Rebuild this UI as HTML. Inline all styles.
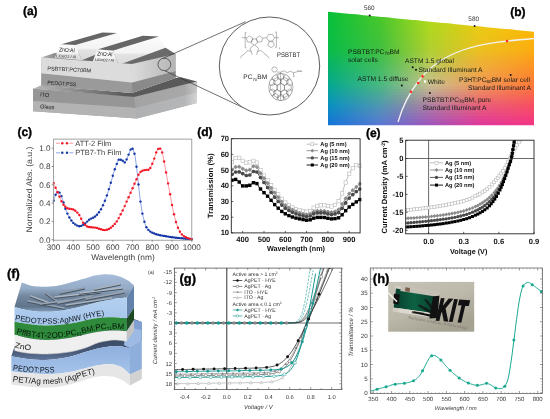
<!DOCTYPE html>
<html><head><meta charset="utf-8"><title>Figure</title>
<style>html,body{margin:0;padding:0;background:#fff;}svg{display:block;font-family:'Liberation Sans', sans-serif;text-rendering:geometricPrecision;}</style>
</head><body>
<svg width="550" height="419" viewBox="0 0 550 419">
<rect width="550" height="419" fill="#fff"/>
<g id="pa">
<defs>
<linearGradient id="aSide" x1="0" x2="1" y1="0" y2="0"><stop offset="0" stop-color="#dcdcdc"/><stop offset="1" stop-color="#b4b4b4"/></linearGradient>
<linearGradient id="aFade" x1="0" x2="1" y1="0" y2="0"><stop offset="0" stop-color="#a3a3a3"/><stop offset="0.8" stop-color="#a8a8a8"/><stop offset="1" stop-color="#c8c8c8"/></linearGradient>
<linearGradient id="aFade2" x1="0" x2="1" y1="0" y2="0"><stop offset="0" stop-color="#aeb0b2"/><stop offset="0.8" stop-color="#b4b6b8"/><stop offset="1" stop-color="#d4d4d4"/></linearGradient>
<linearGradient id="aE" x1="0" x2="0" y1="0" y2="1"><stop offset="0" stop-color="#fbfbfb"/><stop offset="0.56" stop-color="#f4f4f4"/><stop offset="0.64" stop-color="#e2e2e2"/><stop offset="1" stop-color="#dadada"/></linearGradient>
<linearGradient id="aTop" gradientUnits="userSpaceOnUse" x1="41" x2="70" y1="0" y2="0"><stop offset="0" stop-color="#b0b0b0"/><stop offset="1" stop-color="#6a6a6a"/></linearGradient>
<linearGradient id="aITOtop" gradientUnits="userSpaceOnUse" x1="33" x2="125" y1="0" y2="0"><stop offset="0" stop-color="#b8b8b8"/><stop offset="0.5" stop-color="#8a8a8a"/><stop offset="1" stop-color="#5a5a5a"/></linearGradient>
</defs>
<text x="22.9" y="15.4" font-size="12" fill="#000" text-anchor="start" font-weight="bold" font-style="normal" stroke="#000" stroke-width="0.35">(a)</text>
<polygon points="33.0,88.8 134.0,96.5 197.0,81.6 197.0,103.0 137.0,118.4 33.0,111.2" fill="#a4a4a4" />
<polygon points="33.0,88.8 134.0,97.0 136.0,108.0 33.0,100.9" fill="#969696" />
<polygon points="33.0,100.9 136.0,108.0 137.0,118.4 33.0,111.2" fill="#b3b3b3" />
<polygon points="134.0,97.0 197.0,81.6 197.0,92.0 136.0,108.0" fill="url(#aFade)" />
<polygon points="136.0,108.0 197.0,92.0 197.0,103.0 137.0,118.4" fill="url(#aFade2)" />
<polygon points="33.0,88.8 41.3,85.2 132.0,93.0 175.6,78.0 181.0,77.2 197.0,81.6 134.0,97.0" fill="url(#aITOtop)" />
<polygon points="41.3,58.0 131.8,64.0 175.6,54.1 175.6,78.0 132.0,93.0 41.3,85.4" fill="#b0b0b0" />
<polygon points="41.3,73.2 132.0,82.4 132.0,93.0 41.3,85.4" fill="#9a9a9a" />
<polygon points="132.0,82.4 175.6,71.0 175.6,78.0 132.0,93.0" fill="#8a8a8a" />
<polygon points="41.3,57.5 131.8,64.0 132.0,82.4 41.3,73.2" fill="#dcdcdc" />
<polygon points="131.8,64.0 175.6,54.1 175.6,71.0 132.0,82.4" fill="url(#aSide)" />
<polygon points="41.3,57.5 54.5,53.0 98.5,49.0 165.6,47.8 175.6,54.1 131.8,64.0" fill="url(#aTop)" />
<polygon points="75.3,45.0 117.0,32.9 123.0,43.5 81.8,60.2" fill="url(#aE)" />
<polygon points="60.5,44.4 102.3,32.4 117.0,32.9 75.3,45.0" fill="#666" />
<polygon points="54.8,57.7 60.5,44.4 75.3,45.0 81.8,60.2" fill="url(#aE)" />
<polygon points="112.9,50.4 159.0,36.4 165.6,47.8 118.6,65.1" fill="url(#aE)" />
<polygon points="97.4,49.5 142.7,35.7 159.0,36.4 112.9,50.4" fill="#666" />
<polygon points="92.5,61.8 97.4,49.5 112.9,50.4 118.6,65.1" fill="url(#aE)" />
<g fill="#3a3a3a">
<text x="58.9" y="51.4" font-size="5.6" fill="#111" text-anchor="start" font-weight="normal" font-style="normal" transform="rotate(3 58 52)" textLength="15.6" lengthAdjust="spacingAndGlyphs">ZnO:Al</text>
<text x="56.3" y="57.2" font-size="3.7" fill="#222" text-anchor="start" font-weight="normal" font-style="normal" transform="rotate(3 56 57)" textLength="19.6" lengthAdjust="spacingAndGlyphs">LiCoO2 / Al</text>
<text x="97.0" y="55.4" font-size="5.6" fill="#111" text-anchor="start" font-weight="normal" font-style="normal" transform="rotate(3 97 56)" textLength="15.4" lengthAdjust="spacingAndGlyphs">ZnO:Al</text>
<text x="95.0" y="60.8" font-size="3.7" fill="#222" text-anchor="start" font-weight="normal" font-style="normal" transform="rotate(3 95 61)" textLength="18.8" lengthAdjust="spacingAndGlyphs">LiCoO2 / Al</text>
<text x="47.3" y="70.2" font-size="5.45" fill="#202020" text-anchor="start" font-weight="normal" font-style="normal" transform="rotate(3 47 70)">PSBTBT:PC70BM</text>
<text x="47.3" y="84.3" font-size="5.2" fill="#202020" text-anchor="start" font-weight="normal" font-style="normal" transform="rotate(4 47 84)">PEDOT:PSS</text>
<text x="40.0" y="96.3" font-size="5.6" fill="#202020" text-anchor="start" font-weight="normal" font-style="normal" transform="rotate(4 40 96)">ITO</text>
<text x="40.0" y="108.3" font-size="5.6" fill="#202020" text-anchor="start" font-weight="normal" font-style="normal" transform="rotate(4 40 108)">Glass</text>
</g>
<ellipse cx="164.4" cy="64.4" rx="6.4" ry="6.2" fill="none" stroke="#333" stroke-width="0.7"/>
<line x1="163" y1="58.4" x2="245.5" y2="21.7" stroke="#333" stroke-width="0.7"/>
<line x1="165" y1="70.8" x2="242.5" y2="107.3" stroke="#333" stroke-width="0.7"/>
<ellipse cx="269.5" cy="66" rx="50.2" ry="49" fill="#fff" stroke="#333" stroke-width="0.8"/>
<g fill="none" stroke="#6c6c6c" stroke-width="0.5" stroke-linejoin="round">
<polygon points="249.6,35.9 252.9,38.2 251.6,42.0 247.6,42.0 246.4,38.2"/>
<polygon points="254.3,45.2 251.1,42.9 252.3,39.0 256.3,39.0 257.6,42.9"/>
<polygon points="259.6,35.9 262.8,38.2 261.6,42.0 257.6,42.0 256.3,38.2"/>
<polygon points="274.5,37.7 272.6,41.1 268.7,41.1 266.7,37.7 268.7,34.4 272.6,34.4"/>
<polygon points="271.0,47.7 267.8,45.4 269.0,41.6 273.0,41.6 274.3,45.4"/>
<path d="M262.7 38.2 L266.8 37.7"/>
<path d="M242.0 37.7 L246.5 37.7"/>
<path d="M274.7 37.7 L278.9 37.7"/>
<path d="M246.5 32.6 L245.2 32.6 L245.2 47.9 L246.5 47.9"/>
<path d="M275.1 32.0 L276.4 32.0 L276.4 47.3 L275.1 47.3"/>
<path d="M254.1 45.1 L250.0 48.5 L251.3 51.5 L247.5 50.5 L244.9 53.6 L242.0 55.5 L240.1 58.3"/>
<path d="M251.3 51.5 L252.2 54.9"/>
<path d="M254.9 45.1 L258.7 48.5 L257.4 51.5 L261.2 50.5 L263.8 53.3 L266.8 55.3 L269.1 58.3"/>
<path d="M257.4 51.5 L256.6 54.9"/>
</g>
<text x="278.7" y="48.7" font-size="2.6" fill="#555" text-anchor="start" font-weight="normal" font-style="normal" >n</text>
<text x="277.0" y="56.9" font-size="6.7" fill="#2a2a2a" text-anchor="start" font-weight="normal" font-style="normal" textLength="23" lengthAdjust="spacingAndGlyphs">PSBTBT</text>
<text x="243.3" y="79.2" font-size="6.6" fill="#2a2a2a">PC<tspan font-size="4.3" dy="1.3">70</tspan><tspan dy="-1.3">BM</tspan></text>
<clipPath id="aFul"><ellipse cx="280.8" cy="87" rx="12.1" ry="13.7"/></clipPath>
<g fill="none" stroke="#5e5e5e" stroke-width="0.45">
<ellipse cx="280.8" cy="87" rx="12.1" ry="13.7"/>
<g clip-path="url(#aFul)">
<polygon points="278.0,79.4 275.3,81.0 272.5,79.4 272.5,76.2 275.3,74.6 278.0,76.2"/>
<polygon points="283.9,78.5 280.8,80.3 277.7,78.5 277.7,75.0 280.8,73.2 283.9,75.0"/>
<polygon points="289.1,79.4 286.3,81.0 283.6,79.4 283.6,76.2 286.3,74.6 289.1,76.2"/>
<polygon points="275.0,84.1 272.1,85.8 269.2,84.1 269.2,80.8 272.1,79.1 275.0,80.8"/>
<polygon points="280.8,83.4 277.2,85.5 273.7,83.4 273.7,79.3 277.2,77.3 280.8,79.3"/>
<polygon points="287.9,83.4 284.4,85.5 280.8,83.4 280.8,79.3 284.4,77.3 287.9,79.3"/>
<polygon points="292.4,84.1 289.5,85.8 286.6,84.1 286.6,80.8 289.5,79.1 292.4,80.8"/>
<polygon points="277.3,89.6 273.8,91.6 270.4,89.6 270.4,85.5 273.8,83.5 277.3,85.5"/>
<polygon points="284.6,89.8 280.8,92.0 277.0,89.8 277.0,85.4 280.8,83.2 284.6,85.4"/>
<polygon points="291.2,89.6 287.8,91.6 284.3,89.6 284.3,85.5 287.8,83.5 291.2,85.5"/>
<polygon points="275.1,94.0 272.3,95.6 269.5,94.0 269.5,90.7 272.3,89.1 275.1,90.7"/>
<polygon points="280.8,95.6 277.3,97.6 273.8,95.6 273.8,91.6 277.3,89.6 280.8,91.6"/>
<polygon points="287.8,95.6 284.3,97.6 280.8,95.6 280.8,91.6 284.3,89.6 287.8,91.6"/>
<polygon points="292.1,94.0 289.3,95.6 286.5,94.0 286.5,90.7 289.3,89.1 292.1,90.7"/>
<polygon points="278.2,98.0 275.5,99.5 272.9,98.0 272.9,95.0 275.5,93.5 278.2,95.0"/>
<polygon points="283.8,99.4 280.8,101.1 277.8,99.4 277.8,96.0 280.8,94.3 283.8,96.0"/>
<polygon points="288.7,98.0 286.1,99.5 283.4,98.0 283.4,95.0 286.1,93.5 288.7,95.0"/>
</g>
<line x1="280.6" y1="72.1" x2="280.6" y2="100.7"/>
<polygon points="277.3,69.5 275.9,71.9 273.1,71.9 271.7,69.5 273.1,67.1 275.9,67.1"/>
<path d="M277 72.1 L280.6 72.1 L284 70.8 L287.2 72.7 L290.4 71.2 L293.5 72.7 L297.4 71.7 M293.5 72.7 V75.6"/>
</g>
<text x="297.2" y="72.0" font-size="2.4" fill="#555" text-anchor="start" font-weight="normal" font-style="normal" >OMe</text>
<text x="292.9" y="77.4" font-size="2.2" fill="#555" text-anchor="start" font-weight="normal" font-style="normal" >O</text>
</g>
<g id="pb">
<defs><clipPath id="bclip"><polygon points="328,11.8 534,31.7 534,125.2 328,125.2"/></clipPath>
<linearGradient id="bg0" x1="328" x2="534" y1="0" y2="0" gradientUnits="userSpaceOnUse"><stop offset="0.000" stop-color="#08c038"/><stop offset="0.252" stop-color="#48c828"/><stop offset="0.495" stop-color="#b0dc14"/><stop offset="0.738" stop-color="#e8d00c"/><stop offset="1.000" stop-color="#fcc000"/></linearGradient>
<linearGradient id="bg1" x1="328" x2="534" y1="0" y2="0" gradientUnits="userSpaceOnUse"><stop offset="0.000" stop-color="#08c039"/><stop offset="0.252" stop-color="#47c72a"/><stop offset="0.495" stop-color="#b0db17"/><stop offset="0.738" stop-color="#e8cf0e"/><stop offset="1.000" stop-color="#fcbe01"/></linearGradient>
<linearGradient id="bg2" x1="328" x2="534" y1="0" y2="0" gradientUnits="userSpaceOnUse"><stop offset="0.000" stop-color="#08bf3b"/><stop offset="0.252" stop-color="#47c72c"/><stop offset="0.495" stop-color="#b0da19"/><stop offset="0.738" stop-color="#e9cd0f"/><stop offset="1.000" stop-color="#fcbd03"/></linearGradient>
<linearGradient id="bg3" x1="328" x2="534" y1="0" y2="0" gradientUnits="userSpaceOnUse"><stop offset="0.000" stop-color="#08bf3c"/><stop offset="0.252" stop-color="#46c62e"/><stop offset="0.495" stop-color="#b0d91b"/><stop offset="0.738" stop-color="#e9cc11"/><stop offset="1.000" stop-color="#fcbb04"/></linearGradient>
<linearGradient id="bg4" x1="328" x2="534" y1="0" y2="0" gradientUnits="userSpaceOnUse"><stop offset="0.000" stop-color="#08bf3d"/><stop offset="0.252" stop-color="#45c530"/><stop offset="0.495" stop-color="#b0d81d"/><stop offset="0.738" stop-color="#e9cb13"/><stop offset="1.000" stop-color="#fcb905"/></linearGradient>
<linearGradient id="bg5" x1="328" x2="534" y1="0" y2="0" gradientUnits="userSpaceOnUse"><stop offset="0.000" stop-color="#08be3f"/><stop offset="0.252" stop-color="#45c532"/><stop offset="0.495" stop-color="#b0d71f"/><stop offset="0.738" stop-color="#eac914"/><stop offset="1.000" stop-color="#fcb807"/></linearGradient>
<linearGradient id="bg6" x1="328" x2="534" y1="0" y2="0" gradientUnits="userSpaceOnUse"><stop offset="0.000" stop-color="#08be40"/><stop offset="0.252" stop-color="#44c434"/><stop offset="0.495" stop-color="#b0d622"/><stop offset="0.738" stop-color="#eac816"/><stop offset="1.000" stop-color="#fcb608"/></linearGradient>
<linearGradient id="bg7" x1="328" x2="534" y1="0" y2="0" gradientUnits="userSpaceOnUse"><stop offset="0.000" stop-color="#08be41"/><stop offset="0.252" stop-color="#43c336"/><stop offset="0.495" stop-color="#b0d524"/><stop offset="0.738" stop-color="#eac717"/><stop offset="1.000" stop-color="#fcb509"/></linearGradient>
<linearGradient id="bg8" x1="328" x2="534" y1="0" y2="0" gradientUnits="userSpaceOnUse"><stop offset="0.000" stop-color="#08bd42"/><stop offset="0.252" stop-color="#43c337"/><stop offset="0.495" stop-color="#b0d426"/><stop offset="0.738" stop-color="#ebc619"/><stop offset="1.000" stop-color="#fcb30a"/></linearGradient>
<linearGradient id="bg9" x1="328" x2="534" y1="0" y2="0" gradientUnits="userSpaceOnUse"><stop offset="0.000" stop-color="#08bd44"/><stop offset="0.252" stop-color="#42c239"/><stop offset="0.495" stop-color="#b0d328"/><stop offset="0.738" stop-color="#ebc41a"/><stop offset="1.000" stop-color="#fcb20c"/></linearGradient>
<linearGradient id="bg10" x1="328" x2="534" y1="0" y2="0" gradientUnits="userSpaceOnUse"><stop offset="0.000" stop-color="#08bd45"/><stop offset="0.252" stop-color="#42c23b"/><stop offset="0.495" stop-color="#b0d22a"/><stop offset="0.738" stop-color="#ebc31c"/><stop offset="1.000" stop-color="#fcb00d"/></linearGradient>
<linearGradient id="bg11" x1="328" x2="534" y1="0" y2="0" gradientUnits="userSpaceOnUse"><stop offset="0.000" stop-color="#08bc46"/><stop offset="0.252" stop-color="#41c13d"/><stop offset="0.495" stop-color="#b0d12d"/><stop offset="0.738" stop-color="#ecc21e"/><stop offset="1.000" stop-color="#fcae0e"/></linearGradient>
<linearGradient id="bg12" x1="328" x2="534" y1="0" y2="0" gradientUnits="userSpaceOnUse"><stop offset="0.000" stop-color="#08bc47"/><stop offset="0.252" stop-color="#40c03f"/><stop offset="0.495" stop-color="#b0d02f"/><stop offset="0.738" stop-color="#ecc11f"/><stop offset="1.000" stop-color="#fcad0f"/></linearGradient>
<linearGradient id="bg13" x1="328" x2="534" y1="0" y2="0" gradientUnits="userSpaceOnUse"><stop offset="0.000" stop-color="#08bb4b"/><stop offset="0.252" stop-color="#40c043"/><stop offset="0.495" stop-color="#b1cf34"/><stop offset="0.738" stop-color="#ecbe22"/><stop offset="1.000" stop-color="#fcaa12"/></linearGradient>
<linearGradient id="bg14" x1="328" x2="534" y1="0" y2="0" gradientUnits="userSpaceOnUse"><stop offset="0.000" stop-color="#07b951"/><stop offset="0.252" stop-color="#41bf48"/><stop offset="0.495" stop-color="#b3ce3c"/><stop offset="0.738" stop-color="#edbb27"/><stop offset="1.000" stop-color="#fca515"/></linearGradient>
<linearGradient id="bg15" x1="328" x2="534" y1="0" y2="0" gradientUnits="userSpaceOnUse"><stop offset="0.000" stop-color="#07b857"/><stop offset="0.252" stop-color="#42be4e"/><stop offset="0.495" stop-color="#b5cd45"/><stop offset="0.738" stop-color="#edb72c"/><stop offset="1.000" stop-color="#fca119"/></linearGradient>
<linearGradient id="bg16" x1="328" x2="534" y1="0" y2="0" gradientUnits="userSpaceOnUse"><stop offset="0.000" stop-color="#07b65e"/><stop offset="0.252" stop-color="#42be53"/><stop offset="0.495" stop-color="#b7cb4d"/><stop offset="0.738" stop-color="#edb431"/><stop offset="1.000" stop-color="#fc9c1c"/></linearGradient>
<linearGradient id="bg17" x1="328" x2="534" y1="0" y2="0" gradientUnits="userSpaceOnUse"><stop offset="0.000" stop-color="#06b464"/><stop offset="0.252" stop-color="#43bd59"/><stop offset="0.495" stop-color="#b9ca55"/><stop offset="0.738" stop-color="#eeb136"/><stop offset="1.000" stop-color="#fc981f"/></linearGradient>
<linearGradient id="bg18" x1="328" x2="534" y1="0" y2="0" gradientUnits="userSpaceOnUse"><stop offset="0.000" stop-color="#06b36a"/><stop offset="0.252" stop-color="#44bc5e"/><stop offset="0.495" stop-color="#bbc85d"/><stop offset="0.738" stop-color="#eead3a"/><stop offset="1.000" stop-color="#fc9323"/></linearGradient>
<linearGradient id="bg19" x1="328" x2="534" y1="0" y2="0" gradientUnits="userSpaceOnUse"><stop offset="0.000" stop-color="#06b170"/><stop offset="0.252" stop-color="#44bc64"/><stop offset="0.495" stop-color="#bdc765"/><stop offset="0.738" stop-color="#eeaa3f"/><stop offset="1.000" stop-color="#fc8f26"/></linearGradient>
<linearGradient id="bg20" x1="328" x2="534" y1="0" y2="0" gradientUnits="userSpaceOnUse"><stop offset="0.000" stop-color="#05af76"/><stop offset="0.252" stop-color="#45bb69"/><stop offset="0.495" stop-color="#bfc66e"/><stop offset="0.738" stop-color="#efa644"/><stop offset="1.000" stop-color="#fc8b2a"/></linearGradient>
<linearGradient id="bg21" x1="328" x2="534" y1="0" y2="0" gradientUnits="userSpaceOnUse"><stop offset="0.000" stop-color="#05ad7c"/><stop offset="0.252" stop-color="#46ba6f"/><stop offset="0.495" stop-color="#c1c476"/><stop offset="0.738" stop-color="#efa349"/><stop offset="1.000" stop-color="#fc862d"/></linearGradient>
<linearGradient id="bg22" x1="328" x2="534" y1="0" y2="0" gradientUnits="userSpaceOnUse"><stop offset="0.000" stop-color="#05ac83"/><stop offset="0.252" stop-color="#47b974"/><stop offset="0.495" stop-color="#c4c37e"/><stop offset="0.738" stop-color="#ef9f4e"/><stop offset="1.000" stop-color="#fc8231"/></linearGradient>
<linearGradient id="bg23" x1="328" x2="534" y1="0" y2="0" gradientUnits="userSpaceOnUse"><stop offset="0.000" stop-color="#04aa89"/><stop offset="0.252" stop-color="#47b97a"/><stop offset="0.495" stop-color="#c6c286"/><stop offset="0.738" stop-color="#f09c52"/><stop offset="1.000" stop-color="#fc7d34"/></linearGradient>
<linearGradient id="bg24" x1="328" x2="534" y1="0" y2="0" gradientUnits="userSpaceOnUse"><stop offset="0.000" stop-color="#04a88f"/><stop offset="0.252" stop-color="#48b87f"/><stop offset="0.495" stop-color="#c8c08f"/><stop offset="0.738" stop-color="#f09957"/><stop offset="1.000" stop-color="#fc7937"/></linearGradient>
<linearGradient id="bg25" x1="328" x2="534" y1="0" y2="0" gradientUnits="userSpaceOnUse"><stop offset="0.000" stop-color="#04a596"/><stop offset="0.252" stop-color="#49b486"/><stop offset="0.495" stop-color="#c5b892"/><stop offset="0.738" stop-color="#ef915c"/><stop offset="1.000" stop-color="#fc733d"/></linearGradient>
<linearGradient id="bg26" x1="328" x2="534" y1="0" y2="0" gradientUnits="userSpaceOnUse"><stop offset="0.000" stop-color="#05a19d"/><stop offset="0.252" stop-color="#4aaf8d"/><stop offset="0.495" stop-color="#c1ae94"/><stop offset="0.738" stop-color="#ee8961"/><stop offset="1.000" stop-color="#fb6d43"/></linearGradient>
<linearGradient id="bg27" x1="328" x2="534" y1="0" y2="0" gradientUnits="userSpaceOnUse"><stop offset="0.000" stop-color="#069ea4"/><stop offset="0.252" stop-color="#4baa94"/><stop offset="0.495" stop-color="#bea597"/><stop offset="0.738" stop-color="#ed8066"/><stop offset="1.000" stop-color="#fa6749"/></linearGradient>
<linearGradient id="bg28" x1="328" x2="534" y1="0" y2="0" gradientUnits="userSpaceOnUse"><stop offset="0.000" stop-color="#069aac"/><stop offset="0.252" stop-color="#4da69c"/><stop offset="0.495" stop-color="#ba9b99"/><stop offset="0.738" stop-color="#eb786a"/><stop offset="1.000" stop-color="#fa614f"/></linearGradient>
<linearGradient id="bg29" x1="328" x2="534" y1="0" y2="0" gradientUnits="userSpaceOnUse"><stop offset="0.000" stop-color="#0797b3"/><stop offset="0.252" stop-color="#4ea1a3"/><stop offset="0.495" stop-color="#b7929c"/><stop offset="0.738" stop-color="#ea6f6f"/><stop offset="1.000" stop-color="#f95b55"/></linearGradient>
<linearGradient id="bg30" x1="328" x2="534" y1="0" y2="0" gradientUnits="userSpaceOnUse"><stop offset="0.000" stop-color="#0893ba"/><stop offset="0.252" stop-color="#4f9caa"/><stop offset="0.495" stop-color="#b3889e"/><stop offset="0.738" stop-color="#e96774"/><stop offset="1.000" stop-color="#f8555b"/></linearGradient>
<linearGradient id="bg31" x1="328" x2="534" y1="0" y2="0" gradientUnits="userSpaceOnUse"><stop offset="0.000" stop-color="#088fc1"/><stop offset="0.252" stop-color="#5097b1"/><stop offset="0.495" stop-color="#b07fa1"/><stop offset="0.738" stop-color="#e85f79"/><stop offset="1.000" stop-color="#f84f61"/></linearGradient>
<linearGradient id="bg32" x1="328" x2="534" y1="0" y2="0" gradientUnits="userSpaceOnUse"><stop offset="0.000" stop-color="#0a8bc4"/><stop offset="0.252" stop-color="#5192b6"/><stop offset="0.495" stop-color="#ad78a5"/><stop offset="0.738" stop-color="#e7597e"/><stop offset="1.000" stop-color="#f74b66"/></linearGradient>
<linearGradient id="bg33" x1="328" x2="534" y1="0" y2="0" gradientUnits="userSpaceOnUse"><stop offset="0.000" stop-color="#0c87c8"/><stop offset="0.252" stop-color="#538dbc"/><stop offset="0.495" stop-color="#ab71a9"/><stop offset="0.738" stop-color="#e55384"/><stop offset="1.000" stop-color="#f7476c"/></linearGradient>
<linearGradient id="bg34" x1="328" x2="534" y1="0" y2="0" gradientUnits="userSpaceOnUse"><stop offset="0.000" stop-color="#0e82cc"/><stop offset="0.252" stop-color="#5488c1"/><stop offset="0.495" stop-color="#a86bae"/><stop offset="0.738" stop-color="#e44d89"/><stop offset="1.000" stop-color="#f64271"/></linearGradient>
<linearGradient id="bg35" x1="328" x2="534" y1="0" y2="0" gradientUnits="userSpaceOnUse"><stop offset="0.000" stop-color="#107ecf"/><stop offset="0.252" stop-color="#5584c7"/><stop offset="0.495" stop-color="#a664b2"/><stop offset="0.738" stop-color="#e3468f"/><stop offset="1.000" stop-color="#f53e77"/></linearGradient>
<linearGradient id="bg36" x1="328" x2="534" y1="0" y2="0" gradientUnits="userSpaceOnUse"><stop offset="0.000" stop-color="#117ad3"/><stop offset="0.252" stop-color="#567fcc"/><stop offset="0.495" stop-color="#a35db6"/><stop offset="0.738" stop-color="#e24094"/><stop offset="1.000" stop-color="#f53a7c"/></linearGradient>
<linearGradient id="bg37" x1="328" x2="534" y1="0" y2="0" gradientUnits="userSpaceOnUse"><stop offset="0.000" stop-color="#1376d7"/><stop offset="0.252" stop-color="#587ad2"/><stop offset="0.495" stop-color="#a156ba"/><stop offset="0.738" stop-color="#e03a9a"/><stop offset="1.000" stop-color="#f43682"/></linearGradient>
</defs>
<g clip-path="url(#bclip)" shape-rendering="crispEdges">
<rect x="328" y="11.0" width="206" height="3.5" fill="url(#bg0)"/>
<rect x="328" y="14.0" width="206" height="3.5" fill="url(#bg1)"/>
<rect x="328" y="17.0" width="206" height="3.5" fill="url(#bg2)"/>
<rect x="328" y="20.0" width="206" height="3.5" fill="url(#bg3)"/>
<rect x="328" y="23.0" width="206" height="3.5" fill="url(#bg4)"/>
<rect x="328" y="26.0" width="206" height="3.5" fill="url(#bg5)"/>
<rect x="328" y="29.0" width="206" height="3.5" fill="url(#bg6)"/>
<rect x="328" y="32.0" width="206" height="3.5" fill="url(#bg7)"/>
<rect x="328" y="35.0" width="206" height="3.5" fill="url(#bg8)"/>
<rect x="328" y="38.0" width="206" height="3.5" fill="url(#bg9)"/>
<rect x="328" y="41.0" width="206" height="3.5" fill="url(#bg10)"/>
<rect x="328" y="44.0" width="206" height="3.5" fill="url(#bg11)"/>
<rect x="328" y="47.0" width="206" height="3.5" fill="url(#bg12)"/>
<rect x="328" y="50.0" width="206" height="3.5" fill="url(#bg13)"/>
<rect x="328" y="53.0" width="206" height="3.5" fill="url(#bg14)"/>
<rect x="328" y="56.0" width="206" height="3.5" fill="url(#bg15)"/>
<rect x="328" y="59.0" width="206" height="3.5" fill="url(#bg16)"/>
<rect x="328" y="62.0" width="206" height="3.5" fill="url(#bg17)"/>
<rect x="328" y="65.0" width="206" height="3.5" fill="url(#bg18)"/>
<rect x="328" y="68.0" width="206" height="3.5" fill="url(#bg19)"/>
<rect x="328" y="71.0" width="206" height="3.5" fill="url(#bg20)"/>
<rect x="328" y="74.0" width="206" height="3.5" fill="url(#bg21)"/>
<rect x="328" y="77.0" width="206" height="3.5" fill="url(#bg22)"/>
<rect x="328" y="80.0" width="206" height="3.5" fill="url(#bg23)"/>
<rect x="328" y="83.0" width="206" height="3.5" fill="url(#bg24)"/>
<rect x="328" y="86.0" width="206" height="3.5" fill="url(#bg25)"/>
<rect x="328" y="89.0" width="206" height="3.5" fill="url(#bg26)"/>
<rect x="328" y="92.0" width="206" height="3.5" fill="url(#bg27)"/>
<rect x="328" y="95.0" width="206" height="3.5" fill="url(#bg28)"/>
<rect x="328" y="98.0" width="206" height="3.5" fill="url(#bg29)"/>
<rect x="328" y="101.0" width="206" height="3.5" fill="url(#bg30)"/>
<rect x="328" y="104.0" width="206" height="3.5" fill="url(#bg31)"/>
<rect x="328" y="107.0" width="206" height="3.5" fill="url(#bg32)"/>
<rect x="328" y="110.0" width="206" height="3.5" fill="url(#bg33)"/>
<rect x="328" y="113.0" width="206" height="3.5" fill="url(#bg34)"/>
<rect x="328" y="116.0" width="206" height="3.5" fill="url(#bg35)"/>
<rect x="328" y="119.0" width="206" height="3.5" fill="url(#bg36)"/>
<rect x="328" y="122.0" width="206" height="3.5" fill="url(#bg37)"/>
</g>
<path d="M398 122 C402 108 410 92 419 80.5 C430 66 446 56 463 50 C486 42.5 510 40.5 534 38.5" fill="none" stroke="#f2f2f2" stroke-width="1.3"/>
<circle cx="411" cy="91.8" r="1.3" fill="#ff3020"/>
<circle cx="418.2" cy="83" r="1.3" fill="#ff3020"/>
<circle cx="422.6" cy="76.4" r="1.3" fill="#ff3020"/>
<circle cx="507" cy="41" r="1.3" fill="#ff3020"/>
<circle cx="425" cy="81.5" r="1.2" fill="#fff"/>
<circle cx="369.7" cy="15.4" r="1.0" fill="#111"/>
<circle cx="474.6" cy="26" r="1.0" fill="#111"/>
<circle cx="401.8" cy="85.5" r="1.0" fill="#111"/>
<circle cx="412.7" cy="67.2" r="1.0" fill="#111"/>
<circle cx="416" cy="69.8" r="1.0" fill="#111"/>
<circle cx="510.7" cy="75" r="1.0" fill="#111"/>
<circle cx="429.9" cy="93" r="1.0" fill="#111"/>
<text x="369.3" y="9.6" font-size="6.4" fill="#333" text-anchor="middle" font-weight="normal" font-style="normal" >560</text>
<text x="473.7" y="20.6" font-size="6.4" fill="#333" text-anchor="middle" font-weight="normal" font-style="normal" >580</text>
<text x="510.2" y="15.6" font-size="12" fill="#000" text-anchor="start" font-weight="bold" font-style="normal" stroke="#000" stroke-width="0.35">(b)</text>
<text x="348" y="54" font-size="6.7" fill="#141a14">PSBTBT:PC<tspan font-size="4.6" dy="1.2">70</tspan><tspan dy="-1.2">BM</tspan></text>
<text x="348.0" y="61.7" font-size="6.7" fill="#141a14" text-anchor="start" font-weight="normal" font-style="normal" >solar cells</text>
<text x="357.5" y="81.2" font-size="6.7" fill="#141a14" text-anchor="start" font-weight="normal" font-style="normal" textLength="51" lengthAdjust="spacingAndGlyphs">ASTM 1.5 diffuse</text>
<text x="405.0" y="63.3" font-size="6.7" fill="#141a14" text-anchor="start" font-weight="normal" font-style="normal" textLength="49" lengthAdjust="spacingAndGlyphs">ASTM 1.5 global</text>
<text x="418.5" y="71.6" font-size="6.7" fill="#141a14" text-anchor="start" font-weight="normal" font-style="normal" textLength="64" lengthAdjust="spacingAndGlyphs">Standard Illuminant A</text>
<text x="427.8" y="84.3" font-size="6.7" fill="#141a14" text-anchor="start" font-weight="normal" font-style="normal" >White</text>
<text x="459" y="81.6" font-size="6.7" fill="#141a14">P3HT:PC<tspan font-size="4.6" dy="1.2">60</tspan><tspan dy="-1.2">BM solar cell</tspan></text>
<text x="531.0" y="89.6" font-size="6.7" fill="#141a14" text-anchor="end" font-weight="normal" font-style="normal" textLength="63" lengthAdjust="spacingAndGlyphs">Standard Illuminant A</text>
<text x="422.6" y="102" font-size="6.7" fill="#141a14">PSBTBT:PC<tspan font-size="4.6" dy="1.2">70</tspan><tspan dy="-1.2">BM, pure</tspan></text>
<text x="422.6" y="109.8" font-size="6.7" fill="#141a14" text-anchor="start" font-weight="normal" font-style="normal" textLength="64" lengthAdjust="spacingAndGlyphs">Standard Illuminant A</text>
</g>
<g id="pc">
<text x="17.4" y="136.4" font-size="12" fill="#000" text-anchor="start" font-weight="bold" font-style="normal" stroke="#000" stroke-width="0.35">(c)</text>
<clipPath id="cclip"><rect x="52.6" y="139.1" width="140.20000000000002" height="102.1"/></clipPath>
<g clip-path="url(#cclip)">
<polyline points="53.6,200.8 54.6,197.4 55.6,194.8 56.6,193.2 57.6,192.1 58.6,191.8 59.6,192.7 60.6,194.3 61.6,196.3 62.5,199.3 63.5,202.8 64.5,206.2 65.5,208.9 66.5,211.5 67.5,213.9 68.5,216.0 69.5,217.7 70.5,219.3 71.5,220.7 72.5,222.0 73.5,223.0 74.5,223.9 75.5,224.5 76.5,225.2 77.5,225.7 78.5,226.1 79.4,226.2 80.4,226.1 81.4,225.8 82.4,225.2 83.4,224.5 84.4,223.9 85.4,223.2 86.4,222.3 87.4,221.3 88.4,220.4 89.4,219.6 90.4,219.0 91.4,218.5 92.4,218.0 93.4,217.5 94.4,217.0 95.4,216.3 96.3,215.4 97.3,214.4 98.3,213.1 99.3,211.8 100.3,210.3 101.3,208.6 102.3,206.6 103.3,204.5 104.3,202.3 105.3,199.9 106.3,197.2 107.3,194.2 108.3,191.1 109.3,187.8 110.3,184.6 111.3,181.3 112.3,177.9 113.2,174.3 114.2,171.0 115.2,167.9 116.2,165.3 117.2,162.6 118.2,160.4 119.2,159.6 120.2,159.7 121.2,159.9 122.2,160.2 123.2,161.2 124.2,162.2 125.2,162.1 126.2,160.5 127.2,158.0 128.2,155.6 129.2,153.3 130.1,150.6 131.1,148.6 132.1,148.3 133.1,149.8 134.1,152.4 135.1,156.3 136.1,163.4 137.1,171.8 138.1,180.7 139.1,190.6 140.1,199.0 141.1,205.7 142.1,211.7 143.1,216.6 144.1,220.5 145.1,224.0 146.1,226.7 147.0,228.3 148.0,229.5 149.0,230.6 150.0,231.4 151.0,232.0 152.0,232.5 153.0,233.0 154.0,233.4 155.0,233.8 156.0,234.1 157.0,234.4 158.0,234.6 159.0,234.9 160.0,235.1 161.0,235.3 162.0,235.5 163.0,235.7 163.9,235.9 164.9,236.1 165.9,236.2 166.9,236.4 167.9,236.6 168.9,236.7 169.9,236.8 170.9,237.0 171.9,237.1 172.9,237.3 173.9,237.4 174.9,237.5 175.9,237.7 176.9,237.8 177.9,237.9 178.9,238.0 179.9,238.1 180.8,238.2 181.8,238.3 182.8,238.4 183.8,238.5 184.8,238.6 185.8,238.7 186.8,238.8 187.8,238.9 188.8,238.9 189.8,239.0 190.8,239.1 191.8,239.2" fill="none" stroke="#6f8fe0" stroke-width="0.8" />
<circle cx="53.6" cy="200.8" r="1.2" fill="#1636a6"/>
<circle cx="55.6" cy="194.8" r="1.2" fill="#1636a6"/>
<circle cx="57.5" cy="192.1" r="1.2" fill="#1636a6"/>
<circle cx="59.5" cy="192.6" r="1.2" fill="#1636a6"/>
<circle cx="61.5" cy="196.1" r="1.2" fill="#1636a6"/>
<circle cx="63.5" cy="202.5" r="1.2" fill="#1636a6"/>
<circle cx="65.4" cy="208.7" r="1.2" fill="#1636a6"/>
<circle cx="67.4" cy="213.6" r="1.2" fill="#1636a6"/>
<circle cx="69.4" cy="217.5" r="1.2" fill="#1636a6"/>
<circle cx="71.4" cy="220.5" r="1.2" fill="#1636a6"/>
<circle cx="73.3" cy="222.9" r="1.2" fill="#1636a6"/>
<circle cx="75.3" cy="224.4" r="1.2" fill="#1636a6"/>
<circle cx="77.3" cy="225.6" r="1.2" fill="#1636a6"/>
<circle cx="79.3" cy="226.2" r="1.2" fill="#1636a6"/>
<circle cx="81.2" cy="225.9" r="1.2" fill="#1636a6"/>
<circle cx="83.2" cy="224.7" r="1.2" fill="#1636a6"/>
<circle cx="85.2" cy="223.4" r="1.2" fill="#1636a6"/>
<circle cx="87.2" cy="221.6" r="1.2" fill="#1636a6"/>
<circle cx="89.1" cy="219.8" r="1.2" fill="#1636a6"/>
<circle cx="91.1" cy="218.6" r="1.2" fill="#1636a6"/>
<circle cx="93.1" cy="217.7" r="1.2" fill="#1636a6"/>
<circle cx="95.1" cy="216.5" r="1.2" fill="#1636a6"/>
<circle cx="97.0" cy="214.7" r="1.2" fill="#1636a6"/>
<circle cx="99.0" cy="212.3" r="1.2" fill="#1636a6"/>
<circle cx="101.0" cy="209.2" r="1.2" fill="#1636a6"/>
<circle cx="103.0" cy="205.3" r="1.2" fill="#1636a6"/>
<circle cx="104.9" cy="200.8" r="1.2" fill="#1636a6"/>
<circle cx="106.9" cy="195.4" r="1.2" fill="#1636a6"/>
<circle cx="108.9" cy="189.1" r="1.2" fill="#1636a6"/>
<circle cx="110.8" cy="182.7" r="1.2" fill="#1636a6"/>
<circle cx="112.8" cy="175.8" r="1.2" fill="#1636a6"/>
<circle cx="114.8" cy="169.2" r="1.2" fill="#1636a6"/>
<circle cx="116.8" cy="163.9" r="1.2" fill="#1636a6"/>
<circle cx="118.7" cy="159.8" r="1.2" fill="#1636a6"/>
<circle cx="120.7" cy="159.8" r="1.2" fill="#1636a6"/>
<circle cx="122.7" cy="160.7" r="1.2" fill="#1636a6"/>
<circle cx="124.7" cy="162.4" r="1.2" fill="#1636a6"/>
<circle cx="126.6" cy="159.4" r="1.2" fill="#1636a6"/>
<circle cx="128.6" cy="154.6" r="1.2" fill="#1636a6"/>
<circle cx="130.6" cy="149.6" r="1.2" fill="#1636a6"/>
<circle cx="132.6" cy="148.8" r="1.2" fill="#1636a6"/>
<circle cx="134.5" cy="153.7" r="1.2" fill="#1636a6"/>
<circle cx="136.5" cy="166.7" r="1.2" fill="#1636a6"/>
<circle cx="138.5" cy="184.5" r="1.2" fill="#1636a6"/>
<circle cx="140.5" cy="201.6" r="1.2" fill="#1636a6"/>
<circle cx="142.4" cy="213.6" r="1.2" fill="#1636a6"/>
<circle cx="144.4" cy="221.8" r="1.2" fill="#1636a6"/>
<circle cx="146.4" cy="227.3" r="1.2" fill="#1636a6"/>
<circle cx="148.4" cy="229.9" r="1.2" fill="#1636a6"/>
<circle cx="150.3" cy="231.6" r="1.2" fill="#1636a6"/>
<circle cx="152.3" cy="232.7" r="1.2" fill="#1636a6"/>
<circle cx="154.3" cy="233.5" r="1.2" fill="#1636a6"/>
<circle cx="156.2" cy="234.2" r="1.2" fill="#1636a6"/>
<circle cx="158.2" cy="234.7" r="1.2" fill="#1636a6"/>
<circle cx="160.2" cy="235.2" r="1.2" fill="#1636a6"/>
<circle cx="162.2" cy="235.6" r="1.2" fill="#1636a6"/>
<circle cx="164.1" cy="235.9" r="1.2" fill="#1636a6"/>
<circle cx="166.1" cy="236.3" r="1.2" fill="#1636a6"/>
<circle cx="168.1" cy="236.6" r="1.2" fill="#1636a6"/>
<circle cx="170.1" cy="236.9" r="1.2" fill="#1636a6"/>
<circle cx="172.0" cy="237.2" r="1.2" fill="#1636a6"/>
<circle cx="174.0" cy="237.4" r="1.2" fill="#1636a6"/>
<circle cx="176.0" cy="237.7" r="1.2" fill="#1636a6"/>
<circle cx="178.0" cy="237.9" r="1.2" fill="#1636a6"/>
<circle cx="179.9" cy="238.1" r="1.2" fill="#1636a6"/>
<circle cx="181.9" cy="238.3" r="1.2" fill="#1636a6"/>
<circle cx="183.9" cy="238.5" r="1.2" fill="#1636a6"/>
<circle cx="185.9" cy="238.7" r="1.2" fill="#1636a6"/>
<circle cx="187.8" cy="238.9" r="1.2" fill="#1636a6"/>
<circle cx="189.8" cy="239.0" r="1.2" fill="#1636a6"/>
<circle cx="191.8" cy="239.2" r="1.2" fill="#1636a6"/>
<polyline points="53.6,183.0 54.6,185.4 55.6,187.7 56.6,190.0 57.6,192.3 58.6,194.5 59.6,196.8 60.6,199.1 61.6,201.3 62.5,203.3 63.5,204.8 64.5,205.9 65.5,206.9 66.5,207.7 67.5,208.3 68.5,208.6 69.5,208.8 70.5,208.9 71.5,209.1 72.5,209.3 73.5,209.6 74.5,210.1 75.5,210.8 76.5,211.7 77.5,212.8 78.5,213.9 79.4,215.3 80.4,217.1 81.4,219.2 82.4,221.4 83.4,223.2 84.4,224.4 85.4,225.2 86.4,226.0 87.4,226.6 88.4,226.9 89.4,227.1 90.4,227.2 91.4,227.3 92.4,227.3 93.4,227.4 94.4,227.5 95.4,227.6 96.3,227.8 97.3,228.1 98.3,228.4 99.3,228.8 100.3,229.1 101.3,229.4 102.3,229.7 103.3,229.9 104.3,230.1 105.3,230.1 106.3,229.9 107.3,229.6 108.3,229.2 109.3,228.8 110.3,228.2 111.3,227.5 112.3,226.6 113.2,225.6 114.2,224.5 115.2,223.3 116.2,222.1 117.2,220.7 118.2,219.0 119.2,217.2 120.2,215.3 121.2,213.4 122.2,211.4 123.2,209.3 124.2,207.2 125.2,204.9 126.2,202.7 127.2,200.4 128.2,198.2 129.2,196.0 130.1,193.7 131.1,191.4 132.1,189.1 133.1,186.9 134.1,184.7 135.1,182.6 136.1,180.3 137.1,177.9 138.1,175.6 139.1,173.7 140.1,172.3 141.1,171.6 142.1,171.0 143.1,170.5 144.1,170.2 145.1,170.0 146.1,169.9 147.0,169.9 148.0,169.8 149.0,169.6 150.0,168.5 151.0,166.6 152.0,164.4 153.0,162.1 154.0,159.4 155.0,156.2 156.0,153.2 157.0,150.9 158.0,149.3 159.0,148.2 160.0,148.4 161.0,149.2 162.0,151.6 163.0,155.9 163.9,160.5 164.9,165.8 165.9,171.5 166.9,177.0 167.9,182.5 168.9,187.9 169.9,193.3 170.9,198.9 171.9,204.3 172.9,209.3 173.9,213.7 174.9,217.8 175.9,221.6 176.9,224.9 177.9,227.5 178.9,229.7 179.9,231.6 180.8,233.2 181.8,234.3 182.8,235.2 183.8,236.0 184.8,236.7 185.8,237.2 186.8,237.7 187.8,238.1 188.8,238.4 189.8,238.7 190.8,239.0 191.8,239.2" fill="none" stroke="#ff8088" stroke-width="0.8" />
<circle cx="53.6" cy="183.0" r="1.2" fill="#f01828"/>
<circle cx="55.6" cy="187.7" r="1.2" fill="#f01828"/>
<circle cx="57.5" cy="192.2" r="1.2" fill="#f01828"/>
<circle cx="59.5" cy="196.7" r="1.2" fill="#f01828"/>
<circle cx="61.5" cy="201.2" r="1.2" fill="#f01828"/>
<circle cx="63.5" cy="204.7" r="1.2" fill="#f01828"/>
<circle cx="65.4" cy="206.8" r="1.2" fill="#f01828"/>
<circle cx="67.4" cy="208.3" r="1.2" fill="#f01828"/>
<circle cx="69.4" cy="208.8" r="1.2" fill="#f01828"/>
<circle cx="71.4" cy="209.1" r="1.2" fill="#f01828"/>
<circle cx="73.3" cy="209.5" r="1.2" fill="#f01828"/>
<circle cx="75.3" cy="210.7" r="1.2" fill="#f01828"/>
<circle cx="77.3" cy="212.6" r="1.2" fill="#f01828"/>
<circle cx="79.3" cy="215.0" r="1.2" fill="#f01828"/>
<circle cx="81.2" cy="218.8" r="1.2" fill="#f01828"/>
<circle cx="83.2" cy="222.8" r="1.2" fill="#f01828"/>
<circle cx="85.2" cy="225.0" r="1.2" fill="#f01828"/>
<circle cx="87.2" cy="226.5" r="1.2" fill="#f01828"/>
<circle cx="89.1" cy="227.0" r="1.2" fill="#f01828"/>
<circle cx="91.1" cy="227.2" r="1.2" fill="#f01828"/>
<circle cx="93.1" cy="227.4" r="1.2" fill="#f01828"/>
<circle cx="95.1" cy="227.6" r="1.2" fill="#f01828"/>
<circle cx="97.0" cy="228.0" r="1.2" fill="#f01828"/>
<circle cx="99.0" cy="228.7" r="1.2" fill="#f01828"/>
<circle cx="101.0" cy="229.3" r="1.2" fill="#f01828"/>
<circle cx="103.0" cy="229.9" r="1.2" fill="#f01828"/>
<circle cx="104.9" cy="230.1" r="1.2" fill="#f01828"/>
<circle cx="106.9" cy="229.7" r="1.2" fill="#f01828"/>
<circle cx="108.9" cy="229.0" r="1.2" fill="#f01828"/>
<circle cx="110.8" cy="227.8" r="1.2" fill="#f01828"/>
<circle cx="112.8" cy="226.0" r="1.2" fill="#f01828"/>
<circle cx="114.8" cy="223.9" r="1.2" fill="#f01828"/>
<circle cx="116.8" cy="221.4" r="1.2" fill="#f01828"/>
<circle cx="118.7" cy="218.1" r="1.2" fill="#f01828"/>
<circle cx="120.7" cy="214.3" r="1.2" fill="#f01828"/>
<circle cx="122.7" cy="210.4" r="1.2" fill="#f01828"/>
<circle cx="124.7" cy="206.1" r="1.2" fill="#f01828"/>
<circle cx="126.6" cy="201.6" r="1.2" fill="#f01828"/>
<circle cx="128.6" cy="197.2" r="1.2" fill="#f01828"/>
<circle cx="130.6" cy="192.7" r="1.2" fill="#f01828"/>
<circle cx="132.6" cy="188.2" r="1.2" fill="#f01828"/>
<circle cx="134.5" cy="183.8" r="1.2" fill="#f01828"/>
<circle cx="136.5" cy="179.3" r="1.2" fill="#f01828"/>
<circle cx="138.5" cy="174.8" r="1.2" fill="#f01828"/>
<circle cx="140.5" cy="172.0" r="1.2" fill="#f01828"/>
<circle cx="142.4" cy="170.8" r="1.2" fill="#f01828"/>
<circle cx="144.4" cy="170.1" r="1.2" fill="#f01828"/>
<circle cx="146.4" cy="169.9" r="1.2" fill="#f01828"/>
<circle cx="148.4" cy="169.8" r="1.2" fill="#f01828"/>
<circle cx="150.3" cy="168.0" r="1.2" fill="#f01828"/>
<circle cx="152.3" cy="163.7" r="1.2" fill="#f01828"/>
<circle cx="154.3" cy="158.6" r="1.2" fill="#f01828"/>
<circle cx="156.2" cy="152.5" r="1.2" fill="#f01828"/>
<circle cx="158.2" cy="148.9" r="1.2" fill="#f01828"/>
<circle cx="160.2" cy="148.6" r="1.2" fill="#f01828"/>
<circle cx="162.2" cy="152.4" r="1.2" fill="#f01828"/>
<circle cx="164.1" cy="161.5" r="1.2" fill="#f01828"/>
<circle cx="166.1" cy="172.5" r="1.2" fill="#f01828"/>
<circle cx="168.1" cy="183.4" r="1.2" fill="#f01828"/>
<circle cx="170.1" cy="194.2" r="1.2" fill="#f01828"/>
<circle cx="172.0" cy="205.0" r="1.2" fill="#f01828"/>
<circle cx="174.0" cy="214.2" r="1.2" fill="#f01828"/>
<circle cx="176.0" cy="222.0" r="1.2" fill="#f01828"/>
<circle cx="178.0" cy="227.7" r="1.2" fill="#f01828"/>
<circle cx="179.9" cy="231.8" r="1.2" fill="#f01828"/>
<circle cx="181.9" cy="234.4" r="1.2" fill="#f01828"/>
<circle cx="183.9" cy="236.1" r="1.2" fill="#f01828"/>
<circle cx="185.9" cy="237.2" r="1.2" fill="#f01828"/>
<circle cx="187.8" cy="238.1" r="1.2" fill="#f01828"/>
<circle cx="189.8" cy="238.8" r="1.2" fill="#f01828"/>
<circle cx="191.8" cy="239.2" r="1.2" fill="#f01828"/>
</g>
<rect x="53.6" y="139.1" width="138.20000000000002" height="101.1" fill="none" stroke="#8a8a8a" stroke-width="0.8"/>
<line x1="51.6" x2="53.6" y1="239.7" y2="239.7" stroke="#666" stroke-width="0.7"/>
<text x="50.6" y="242.5" font-size="8.1" fill="#404040" text-anchor="end" font-weight="normal" font-style="normal" >0.0</text>
<line x1="51.6" x2="53.6" y1="221.4" y2="221.4" stroke="#666" stroke-width="0.7"/>
<text x="50.6" y="224.2" font-size="8.1" fill="#404040" text-anchor="end" font-weight="normal" font-style="normal" >0.2</text>
<line x1="51.6" x2="53.6" y1="203.1" y2="203.1" stroke="#666" stroke-width="0.7"/>
<text x="50.6" y="205.9" font-size="8.1" fill="#404040" text-anchor="end" font-weight="normal" font-style="normal" >0.4</text>
<line x1="51.6" x2="53.6" y1="184.8" y2="184.8" stroke="#666" stroke-width="0.7"/>
<text x="50.6" y="187.6" font-size="8.1" fill="#404040" text-anchor="end" font-weight="normal" font-style="normal" >0.6</text>
<line x1="51.6" x2="53.6" y1="166.5" y2="166.5" stroke="#666" stroke-width="0.7"/>
<text x="50.6" y="169.3" font-size="8.1" fill="#404040" text-anchor="end" font-weight="normal" font-style="normal" >0.8</text>
<line x1="51.6" x2="53.6" y1="148.2" y2="148.2" stroke="#666" stroke-width="0.7"/>
<text x="50.6" y="151.0" font-size="8.1" fill="#404040" text-anchor="end" font-weight="normal" font-style="normal" >1.0</text>
<line x1="53.6" x2="53.6" y1="240.2" y2="241.7" stroke="#666" stroke-width="0.7"/>
<text x="53.6" y="249.6" font-size="8.1" fill="#404040" text-anchor="middle" font-weight="normal" font-style="normal" >300</text>
<line x1="73.3" x2="73.3" y1="240.2" y2="241.7" stroke="#666" stroke-width="0.7"/>
<text x="73.3" y="249.6" font-size="8.1" fill="#404040" text-anchor="middle" font-weight="normal" font-style="normal" >400</text>
<line x1="93.1" x2="93.1" y1="240.2" y2="241.7" stroke="#666" stroke-width="0.7"/>
<text x="93.1" y="249.6" font-size="8.1" fill="#404040" text-anchor="middle" font-weight="normal" font-style="normal" >500</text>
<line x1="112.8" x2="112.8" y1="240.2" y2="241.7" stroke="#666" stroke-width="0.7"/>
<text x="112.8" y="249.6" font-size="8.1" fill="#404040" text-anchor="middle" font-weight="normal" font-style="normal" >600</text>
<line x1="132.6" x2="132.6" y1="240.2" y2="241.7" stroke="#666" stroke-width="0.7"/>
<text x="132.6" y="249.6" font-size="8.1" fill="#404040" text-anchor="middle" font-weight="normal" font-style="normal" >700</text>
<line x1="152.3" x2="152.3" y1="240.2" y2="241.7" stroke="#666" stroke-width="0.7"/>
<text x="152.3" y="249.6" font-size="8.1" fill="#404040" text-anchor="middle" font-weight="normal" font-style="normal" >800</text>
<line x1="172.0" x2="172.0" y1="240.2" y2="241.7" stroke="#666" stroke-width="0.7"/>
<text x="172.0" y="249.6" font-size="8.1" fill="#404040" text-anchor="middle" font-weight="normal" font-style="normal" >900</text>
<line x1="191.8" x2="191.8" y1="240.2" y2="241.7" stroke="#666" stroke-width="0.7"/>
<text x="191.8" y="249.6" font-size="8.1" fill="#404040" text-anchor="middle" font-weight="normal" font-style="normal" >1000</text>
<text x="123.0" y="260.1" font-size="8.2" fill="#404040" text-anchor="middle" font-weight="normal" font-style="normal" textLength="63.6" lengthAdjust="spacingAndGlyphs">Wavelength (nm)</text>
<text transform="translate(31.6,189.5) rotate(-90)" font-size="8.2" fill="#444" text-anchor="middle" font-weight="normal" font-style="normal" textLength="86" lengthAdjust="spacingAndGlyphs">Normalized Abs. (a.u.)</text>
<line x1="56" x2="73.3" y1="143.2" y2="143.2" stroke="#ff8088" stroke-width="0.8" stroke-dasharray="4 9.3 4"/>
<circle cx="62.3" cy="143.2" r="1.2" fill="#f01828"/><circle cx="67" cy="143.2" r="1.2" fill="#f01828"/>
<line x1="56" x2="73.3" y1="152.8" y2="152.8" stroke="#6f8fe0" stroke-width="0.8" stroke-dasharray="4 9.3 4"/>
<circle cx="62.3" cy="152.8" r="1.2" fill="#1636a6"/><circle cx="67" cy="152.8" r="1.2" fill="#1636a6"/>
<text x="75.2" y="145.5" font-size="7.5" fill="#444" text-anchor="start" font-weight="normal" font-style="normal" >ATT-2 Film</text>
<text x="75.2" y="155.1" font-size="7.5" fill="#444" text-anchor="start" font-weight="normal" font-style="normal" >PTB7-Th Film</text>
</g>
<g id="pd">
<text x="197.2" y="136.2" font-size="12" fill="#000" text-anchor="start" font-weight="bold" font-style="normal" stroke="#000" stroke-width="0.35">(d)</text>
<clipPath id="dclip"><rect x="231.3" y="138.7" width="130.3" height="94.20000000000002"/></clipPath>
<g clip-path="url(#dclip)">
<polyline points="232.0,162.2 234.2,159.3 236.3,157.7 238.4,157.4 240.6,159.0 242.7,160.8 244.8,162.0 247.0,162.9 249.1,162.7 251.2,161.4 253.3,160.8 255.5,161.6 257.6,163.8 259.7,168.7 261.9,172.6 264.0,175.6 266.1,178.4 268.3,181.3 270.4,184.2 272.5,187.1 274.6,189.9 276.8,192.6 278.9,195.3 281.0,198.0 283.2,200.4 285.3,202.5 287.4,204.2 289.6,205.7 291.7,207.0 293.8,208.1 295.9,209.0 298.1,209.7 300.2,210.4 302.3,210.9 304.5,211.3 306.6,211.6 308.7,211.6 310.9,210.3 313.0,208.4 315.1,206.6 317.2,205.9 319.4,205.5 321.5,205.2 323.6,205.1 325.8,205.4 327.9,206.0 330.0,206.5 332.2,206.4 334.3,205.4 336.4,203.8 338.5,201.2 340.7,197.0 342.8,191.1 344.9,184.3 347.1,178.8 349.2,173.8 351.3,170.2 353.5,167.3 355.6,165.3 357.7,165.1 359.8,165.8" fill="none" stroke="#b8b8b8" stroke-width="0.9" />
<rect x="230.3" y="160.5" width="3.4" height="3.4" fill="#fff" stroke="#b8b8b8" stroke-width="0.6"/>
<rect x="233.9" y="156.3" width="3.4" height="3.4" fill="#fff" stroke="#b8b8b8" stroke-width="0.6"/>
<rect x="237.5" y="156.1" width="3.4" height="3.4" fill="#fff" stroke="#b8b8b8" stroke-width="0.6"/>
<rect x="241.0" y="159.1" width="3.4" height="3.4" fill="#fff" stroke="#b8b8b8" stroke-width="0.6"/>
<rect x="244.6" y="161.0" width="3.4" height="3.4" fill="#fff" stroke="#b8b8b8" stroke-width="0.6"/>
<rect x="248.1" y="160.6" width="3.4" height="3.4" fill="#fff" stroke="#b8b8b8" stroke-width="0.6"/>
<rect x="251.7" y="159.1" width="3.4" height="3.4" fill="#fff" stroke="#b8b8b8" stroke-width="0.6"/>
<rect x="255.2" y="160.9" width="3.4" height="3.4" fill="#fff" stroke="#b8b8b8" stroke-width="0.6"/>
<rect x="258.8" y="168.6" width="3.4" height="3.4" fill="#fff" stroke="#b8b8b8" stroke-width="0.6"/>
<rect x="262.3" y="173.9" width="3.4" height="3.4" fill="#fff" stroke="#b8b8b8" stroke-width="0.6"/>
<rect x="265.9" y="178.6" width="3.4" height="3.4" fill="#fff" stroke="#b8b8b8" stroke-width="0.6"/>
<rect x="269.4" y="183.5" width="3.4" height="3.4" fill="#fff" stroke="#b8b8b8" stroke-width="0.6"/>
<rect x="273.0" y="188.2" width="3.4" height="3.4" fill="#fff" stroke="#b8b8b8" stroke-width="0.6"/>
<rect x="276.5" y="192.7" width="3.4" height="3.4" fill="#fff" stroke="#b8b8b8" stroke-width="0.6"/>
<rect x="280.1" y="197.2" width="3.4" height="3.4" fill="#fff" stroke="#b8b8b8" stroke-width="0.6"/>
<rect x="283.6" y="200.8" width="3.4" height="3.4" fill="#fff" stroke="#b8b8b8" stroke-width="0.6"/>
<rect x="287.2" y="203.5" width="3.4" height="3.4" fill="#fff" stroke="#b8b8b8" stroke-width="0.6"/>
<rect x="290.7" y="205.7" width="3.4" height="3.4" fill="#fff" stroke="#b8b8b8" stroke-width="0.6"/>
<rect x="294.3" y="207.3" width="3.4" height="3.4" fill="#fff" stroke="#b8b8b8" stroke-width="0.6"/>
<rect x="297.8" y="208.5" width="3.4" height="3.4" fill="#fff" stroke="#b8b8b8" stroke-width="0.6"/>
<rect x="301.4" y="209.3" width="3.4" height="3.4" fill="#fff" stroke="#b8b8b8" stroke-width="0.6"/>
<rect x="304.9" y="209.9" width="3.4" height="3.4" fill="#fff" stroke="#b8b8b8" stroke-width="0.6"/>
<rect x="308.5" y="209.2" width="3.4" height="3.4" fill="#fff" stroke="#b8b8b8" stroke-width="0.6"/>
<rect x="312.0" y="206.0" width="3.4" height="3.4" fill="#fff" stroke="#b8b8b8" stroke-width="0.6"/>
<rect x="315.6" y="204.2" width="3.4" height="3.4" fill="#fff" stroke="#b8b8b8" stroke-width="0.6"/>
<rect x="319.1" y="203.6" width="3.4" height="3.4" fill="#fff" stroke="#b8b8b8" stroke-width="0.6"/>
<rect x="322.7" y="203.5" width="3.4" height="3.4" fill="#fff" stroke="#b8b8b8" stroke-width="0.6"/>
<rect x="326.2" y="204.3" width="3.4" height="3.4" fill="#fff" stroke="#b8b8b8" stroke-width="0.6"/>
<rect x="329.8" y="204.8" width="3.4" height="3.4" fill="#fff" stroke="#b8b8b8" stroke-width="0.6"/>
<rect x="333.3" y="203.2" width="3.4" height="3.4" fill="#fff" stroke="#b8b8b8" stroke-width="0.6"/>
<rect x="336.9" y="199.5" width="3.4" height="3.4" fill="#fff" stroke="#b8b8b8" stroke-width="0.6"/>
<rect x="340.4" y="191.7" width="3.4" height="3.4" fill="#fff" stroke="#b8b8b8" stroke-width="0.6"/>
<rect x="344.0" y="180.8" width="3.4" height="3.4" fill="#fff" stroke="#b8b8b8" stroke-width="0.6"/>
<rect x="347.5" y="172.1" width="3.4" height="3.4" fill="#fff" stroke="#b8b8b8" stroke-width="0.6"/>
<rect x="351.1" y="166.5" width="3.4" height="3.4" fill="#fff" stroke="#b8b8b8" stroke-width="0.6"/>
<rect x="354.6" y="163.4" width="3.4" height="3.4" fill="#fff" stroke="#b8b8b8" stroke-width="0.6"/>
<rect x="358.2" y="164.1" width="3.4" height="3.4" fill="#fff" stroke="#b8b8b8" stroke-width="0.6"/>
<polyline points="232.0,169.8 234.2,167.8 236.3,166.7 238.4,166.6 240.6,167.6 242.7,168.8 244.8,169.8 247.0,170.7 249.1,170.4 251.2,168.4 253.3,166.3 255.5,165.7 257.6,168.2 259.7,172.0 261.9,175.2 264.0,178.2 266.1,181.2 268.3,184.2 270.4,187.1 272.5,190.0 274.6,192.8 276.8,195.5 278.9,198.2 281.0,200.9 283.2,203.4 285.3,205.3 287.4,206.8 289.6,208.2 291.7,209.3 293.8,210.4 295.9,211.4 298.1,212.3 300.2,213.2 302.3,213.7 304.5,214.2 306.6,214.5 308.7,214.5 310.9,213.6 313.0,212.3 315.1,211.1 317.2,210.9 319.4,210.9 321.5,210.9 323.6,210.9 325.8,211.1 327.9,211.8 330.0,212.2 332.2,212.2 334.3,211.7 336.4,210.8 338.5,209.6 340.7,206.5 342.8,203.0 344.9,199.6 347.1,196.4 349.2,193.8 351.3,191.7 353.5,189.7 355.6,187.7 357.7,185.7 359.8,183.9" fill="none" stroke="#8c8c8c" stroke-width="0.9" />
<polygon points="229.8,169.8 232.0,167.6 234.3,169.8 232.0,172.0" fill="#8c8c8c"/>
<polygon points="233.4,167.0 235.6,164.8 237.8,167.0 235.6,169.2" fill="#8c8c8c"/>
<polygon points="236.9,166.8 239.2,164.6 241.4,166.8 239.2,169.0" fill="#8c8c8c"/>
<polygon points="240.5,168.8 242.7,166.6 244.9,168.8 242.7,171.0" fill="#8c8c8c"/>
<polygon points="244.0,170.5 246.3,168.3 248.5,170.5 246.3,172.7" fill="#8c8c8c"/>
<polygon points="247.6,169.8 249.8,167.6 252.0,169.8 249.8,172.0" fill="#8c8c8c"/>
<polygon points="251.1,166.3 253.4,164.1 255.6,166.3 253.4,168.5" fill="#8c8c8c"/>
<polygon points="254.7,167.1 256.9,164.9 259.1,167.1 256.9,169.3" fill="#8c8c8c"/>
<polygon points="258.2,173.2 260.5,171.0 262.7,173.2 260.5,175.4" fill="#8c8c8c"/>
<polygon points="261.8,178.2 264.0,176.0 266.2,178.2 264.0,180.4" fill="#8c8c8c"/>
<polygon points="265.3,183.2 267.6,181.0 269.8,183.2 267.6,185.4" fill="#8c8c8c"/>
<polygon points="268.9,188.0 271.1,185.8 273.3,188.0 271.1,190.3" fill="#8c8c8c"/>
<polygon points="272.4,192.8 274.7,190.6 276.9,192.8 274.7,195.0" fill="#8c8c8c"/>
<polygon points="276.0,197.3 278.2,195.1 280.4,197.3 278.2,199.5" fill="#8c8c8c"/>
<polygon points="279.5,201.8 281.8,199.6 284.0,201.8 281.8,204.0" fill="#8c8c8c"/>
<polygon points="283.1,205.3 285.3,203.1 287.5,205.3 285.3,207.5" fill="#8c8c8c"/>
<polygon points="286.6,207.7 288.9,205.5 291.1,207.7 288.9,209.9" fill="#8c8c8c"/>
<polygon points="290.2,209.7 292.4,207.5 294.6,209.7 292.4,211.9" fill="#8c8c8c"/>
<polygon points="293.7,211.4 296.0,209.2 298.2,211.4 296.0,213.6" fill="#8c8c8c"/>
<polygon points="297.3,212.9 299.5,210.7 301.7,212.9 299.5,215.1" fill="#8c8c8c"/>
<polygon points="300.8,213.9 303.1,211.7 305.3,213.9 303.1,216.1" fill="#8c8c8c"/>
<polygon points="304.4,214.5 306.6,212.3 308.8,214.5 306.6,216.7" fill="#8c8c8c"/>
<polygon points="307.9,214.0 310.2,211.8 312.4,214.0 310.2,216.2" fill="#8c8c8c"/>
<polygon points="311.5,211.8 313.7,209.6 315.9,211.8 313.7,214.0" fill="#8c8c8c"/>
<polygon points="315.0,210.9 317.3,208.6 319.5,210.9 317.3,213.1" fill="#8c8c8c"/>
<polygon points="318.6,210.9 320.8,208.6 323.0,210.9 320.8,213.1" fill="#8c8c8c"/>
<polygon points="322.1,210.9 324.4,208.7 326.6,210.9 324.4,213.1" fill="#8c8c8c"/>
<polygon points="325.7,211.8 327.9,209.5 330.1,211.8 327.9,214.0" fill="#8c8c8c"/>
<polygon points="329.2,212.3 331.5,210.1 333.7,212.3 331.5,214.5" fill="#8c8c8c"/>
<polygon points="332.8,211.4 335.0,209.2 337.2,211.4 335.0,213.7" fill="#8c8c8c"/>
<polygon points="336.3,209.6 338.6,207.4 340.8,209.6 338.6,211.8" fill="#8c8c8c"/>
<polygon points="339.9,204.0 342.1,201.8 344.3,204.0 342.1,206.3" fill="#8c8c8c"/>
<polygon points="343.4,198.5 345.7,196.3 347.9,198.5 345.7,200.7" fill="#8c8c8c"/>
<polygon points="347.0,193.8 349.2,191.6 351.4,193.8 349.2,196.0" fill="#8c8c8c"/>
<polygon points="350.5,190.3 352.8,188.1 355.0,190.3 352.8,192.6" fill="#8c8c8c"/>
<polygon points="354.1,187.0 356.3,184.8 358.5,187.0 356.3,189.2" fill="#8c8c8c"/>
<polygon points="357.6,183.9 359.9,181.6 362.1,183.9 359.9,186.1" fill="#8c8c8c"/>
<polyline points="232.0,174.3 234.2,172.7 236.3,171.8 238.4,171.7 240.6,172.5 242.7,173.6 244.8,174.8 247.0,175.8 249.1,175.5 251.2,173.6 253.3,171.5 255.5,170.9 257.6,173.0 259.7,176.5 261.9,179.5 264.0,182.4 266.1,185.5 268.3,188.5 270.4,191.4 272.5,194.4 274.6,197.2 276.8,199.7 278.9,202.1 281.0,204.4 283.2,206.5 285.3,208.2 287.4,209.6 289.6,210.9 291.7,212.0 293.8,212.9 295.9,213.8 298.1,214.6 300.2,215.2 302.3,215.7 304.5,216.2 306.6,216.5 308.7,216.5 310.9,215.6 313.0,214.3 315.1,213.1 317.2,212.9 319.4,212.9 321.5,212.9 323.6,212.9 325.8,213.2 327.9,213.9 330.0,214.5 332.2,214.5 334.3,214.1 336.4,213.5 338.5,212.6 340.7,210.2 342.8,207.3 344.9,204.1 347.1,200.7 349.2,198.1 351.3,195.9 353.5,194.0 355.6,192.1 357.7,190.5 359.8,189.0" fill="none" stroke="#4a4a4a" stroke-width="0.9" />
<circle cx="232.0" cy="174.3" r="1.87" fill="#4a4a4a"/>
<circle cx="235.6" cy="172.0" r="1.87" fill="#4a4a4a"/>
<circle cx="239.2" cy="171.9" r="1.87" fill="#4a4a4a"/>
<circle cx="242.7" cy="173.6" r="1.87" fill="#4a4a4a"/>
<circle cx="246.3" cy="175.5" r="1.87" fill="#4a4a4a"/>
<circle cx="249.8" cy="175.0" r="1.87" fill="#4a4a4a"/>
<circle cx="253.4" cy="171.5" r="1.87" fill="#4a4a4a"/>
<circle cx="256.9" cy="172.0" r="1.87" fill="#4a4a4a"/>
<circle cx="260.5" cy="177.5" r="1.87" fill="#4a4a4a"/>
<circle cx="264.0" cy="182.5" r="1.87" fill="#4a4a4a"/>
<circle cx="267.6" cy="187.5" r="1.87" fill="#4a4a4a"/>
<circle cx="271.1" cy="192.4" r="1.87" fill="#4a4a4a"/>
<circle cx="274.7" cy="197.2" r="1.87" fill="#4a4a4a"/>
<circle cx="278.2" cy="201.4" r="1.87" fill="#4a4a4a"/>
<circle cx="281.8" cy="205.1" r="1.87" fill="#4a4a4a"/>
<circle cx="285.3" cy="208.2" r="1.87" fill="#4a4a4a"/>
<circle cx="288.9" cy="210.5" r="1.87" fill="#4a4a4a"/>
<circle cx="292.4" cy="212.3" r="1.87" fill="#4a4a4a"/>
<circle cx="296.0" cy="213.8" r="1.87" fill="#4a4a4a"/>
<circle cx="299.5" cy="215.0" r="1.87" fill="#4a4a4a"/>
<circle cx="303.1" cy="215.9" r="1.87" fill="#4a4a4a"/>
<circle cx="306.6" cy="216.5" r="1.87" fill="#4a4a4a"/>
<circle cx="310.2" cy="216.0" r="1.87" fill="#4a4a4a"/>
<circle cx="313.7" cy="213.8" r="1.87" fill="#4a4a4a"/>
<circle cx="317.3" cy="212.9" r="1.87" fill="#4a4a4a"/>
<circle cx="320.8" cy="212.9" r="1.87" fill="#4a4a4a"/>
<circle cx="324.4" cy="212.9" r="1.87" fill="#4a4a4a"/>
<circle cx="327.9" cy="213.9" r="1.87" fill="#4a4a4a"/>
<circle cx="331.5" cy="214.6" r="1.87" fill="#4a4a4a"/>
<circle cx="335.0" cy="213.9" r="1.87" fill="#4a4a4a"/>
<circle cx="338.6" cy="212.6" r="1.87" fill="#4a4a4a"/>
<circle cx="342.1" cy="208.3" r="1.87" fill="#4a4a4a"/>
<circle cx="345.7" cy="202.9" r="1.87" fill="#4a4a4a"/>
<circle cx="349.2" cy="198.1" r="1.87" fill="#4a4a4a"/>
<circle cx="352.8" cy="194.6" r="1.87" fill="#4a4a4a"/>
<circle cx="356.3" cy="191.6" r="1.87" fill="#4a4a4a"/>
<circle cx="359.9" cy="189.0" r="1.87" fill="#4a4a4a"/>
<polyline points="232.0,180.2 234.2,179.5 236.3,179.4 238.4,181.0 240.6,184.2 242.7,185.9 244.8,185.9 247.0,185.9 249.1,185.7 251.2,184.3 253.3,182.7 255.5,182.3 257.6,184.6 259.7,188.1 261.9,190.6 264.0,192.7 266.1,194.7 268.3,196.9 270.4,199.4 272.5,202.1 274.6,204.6 276.8,206.9 278.9,208.9 281.0,210.8 283.2,212.5 285.3,213.8 287.4,215.0 289.6,215.9 291.7,216.8 293.8,217.5 295.9,218.1 298.1,218.6 300.2,219.1 302.3,219.5 304.5,219.9 306.6,220.2 308.7,220.2 310.9,219.6 313.0,218.5 315.1,217.7 317.2,217.4 319.4,217.4 321.5,217.4 323.6,217.4 325.8,217.7 327.9,218.3 330.0,218.8 332.2,218.8 334.3,218.7 336.4,218.3 338.5,217.8 340.7,216.2 342.8,214.1 344.9,211.6 347.1,209.0 349.2,207.0 351.3,205.4 353.5,203.9 355.6,202.4 357.7,201.0 359.8,199.6" fill="none" stroke="#000" stroke-width="0.9" />
<rect x="230.3" y="178.5" width="3.4" height="3.4" fill="#000"/>
<rect x="233.9" y="177.7" width="3.4" height="3.4" fill="#000"/>
<rect x="237.5" y="180.3" width="3.4" height="3.4" fill="#000"/>
<rect x="241.0" y="184.2" width="3.4" height="3.4" fill="#000"/>
<rect x="244.6" y="184.2" width="3.4" height="3.4" fill="#000"/>
<rect x="248.1" y="183.6" width="3.4" height="3.4" fill="#000"/>
<rect x="251.7" y="181.0" width="3.4" height="3.4" fill="#000"/>
<rect x="255.2" y="181.9" width="3.4" height="3.4" fill="#000"/>
<rect x="258.8" y="187.3" width="3.4" height="3.4" fill="#000"/>
<rect x="262.3" y="191.0" width="3.4" height="3.4" fill="#000"/>
<rect x="265.9" y="194.5" width="3.4" height="3.4" fill="#000"/>
<rect x="269.4" y="198.6" width="3.4" height="3.4" fill="#000"/>
<rect x="273.0" y="202.9" width="3.4" height="3.4" fill="#000"/>
<rect x="276.5" y="206.5" width="3.4" height="3.4" fill="#000"/>
<rect x="280.1" y="209.7" width="3.4" height="3.4" fill="#000"/>
<rect x="283.6" y="212.1" width="3.4" height="3.4" fill="#000"/>
<rect x="287.2" y="213.9" width="3.4" height="3.4" fill="#000"/>
<rect x="290.7" y="215.3" width="3.4" height="3.4" fill="#000"/>
<rect x="294.3" y="216.4" width="3.4" height="3.4" fill="#000"/>
<rect x="297.8" y="217.2" width="3.4" height="3.4" fill="#000"/>
<rect x="301.4" y="217.9" width="3.4" height="3.4" fill="#000"/>
<rect x="304.9" y="218.5" width="3.4" height="3.4" fill="#000"/>
<rect x="308.5" y="218.1" width="3.4" height="3.4" fill="#000"/>
<rect x="312.0" y="216.5" width="3.4" height="3.4" fill="#000"/>
<rect x="315.6" y="215.7" width="3.4" height="3.4" fill="#000"/>
<rect x="319.1" y="215.7" width="3.4" height="3.4" fill="#000"/>
<rect x="322.7" y="215.8" width="3.4" height="3.4" fill="#000"/>
<rect x="326.2" y="216.6" width="3.4" height="3.4" fill="#000"/>
<rect x="329.8" y="217.2" width="3.4" height="3.4" fill="#000"/>
<rect x="333.3" y="216.9" width="3.4" height="3.4" fill="#000"/>
<rect x="336.9" y="216.1" width="3.4" height="3.4" fill="#000"/>
<rect x="340.4" y="213.1" width="3.4" height="3.4" fill="#000"/>
<rect x="344.0" y="209.0" width="3.4" height="3.4" fill="#000"/>
<rect x="347.5" y="205.3" width="3.4" height="3.4" fill="#000"/>
<rect x="351.1" y="202.7" width="3.4" height="3.4" fill="#000"/>
<rect x="354.6" y="200.2" width="3.4" height="3.4" fill="#000"/>
<rect x="358.2" y="197.9" width="3.4" height="3.4" fill="#000"/>
</g>
<rect x="231.3" y="138.7" width="128.8" height="94.20000000000002" fill="none" stroke="#222" stroke-width="0.9"/>
<line x1="231.3" x2="233.3" y1="232.9" y2="232.9" stroke="#222" stroke-width="0.7"/>
<text x="229.1" y="235.4" font-size="7.6" fill="#111" text-anchor="end" font-weight="bold" font-style="normal" >10</text>
<line x1="231.3" x2="233.3" y1="217.2" y2="217.2" stroke="#222" stroke-width="0.7"/>
<text x="229.1" y="219.7" font-size="7.6" fill="#111" text-anchor="end" font-weight="bold" font-style="normal" >20</text>
<line x1="231.3" x2="233.3" y1="201.5" y2="201.5" stroke="#222" stroke-width="0.7"/>
<text x="229.1" y="204.0" font-size="7.6" fill="#111" text-anchor="end" font-weight="bold" font-style="normal" >30</text>
<line x1="231.3" x2="233.3" y1="185.8" y2="185.8" stroke="#222" stroke-width="0.7"/>
<text x="229.1" y="188.3" font-size="7.6" fill="#111" text-anchor="end" font-weight="bold" font-style="normal" >40</text>
<line x1="231.3" x2="233.3" y1="170.1" y2="170.1" stroke="#222" stroke-width="0.7"/>
<text x="229.1" y="172.6" font-size="7.6" fill="#111" text-anchor="end" font-weight="bold" font-style="normal" >50</text>
<line x1="231.3" x2="233.3" y1="154.4" y2="154.4" stroke="#222" stroke-width="0.7"/>
<text x="229.1" y="156.9" font-size="7.6" fill="#111" text-anchor="end" font-weight="bold" font-style="normal" >60</text>
<line x1="231.3" x2="233.3" y1="138.7" y2="138.7" stroke="#222" stroke-width="0.7"/>
<text x="229.1" y="141.2" font-size="7.6" fill="#111" text-anchor="end" font-weight="bold" font-style="normal" >70</text>
<line x1="242.7" x2="242.7" y1="232.9" y2="230.9" stroke="#222" stroke-width="0.7"/>
<text x="242.7" y="241.8" font-size="7.6" fill="#111" text-anchor="middle" font-weight="bold" font-style="normal" >400</text>
<line x1="264.0" x2="264.0" y1="232.9" y2="230.9" stroke="#222" stroke-width="0.7"/>
<text x="264.0" y="241.8" font-size="7.6" fill="#111" text-anchor="middle" font-weight="bold" font-style="normal" >500</text>
<line x1="285.3" x2="285.3" y1="232.9" y2="230.9" stroke="#222" stroke-width="0.7"/>
<text x="285.3" y="241.8" font-size="7.6" fill="#111" text-anchor="middle" font-weight="bold" font-style="normal" >600</text>
<line x1="306.6" x2="306.6" y1="232.9" y2="230.9" stroke="#222" stroke-width="0.7"/>
<text x="306.6" y="241.8" font-size="7.6" fill="#111" text-anchor="middle" font-weight="bold" font-style="normal" >700</text>
<line x1="327.9" x2="327.9" y1="232.9" y2="230.9" stroke="#222" stroke-width="0.7"/>
<text x="327.9" y="241.8" font-size="7.6" fill="#111" text-anchor="middle" font-weight="bold" font-style="normal" >800</text>
<line x1="349.2" x2="349.2" y1="232.9" y2="230.9" stroke="#222" stroke-width="0.7"/>
<text x="349.2" y="241.8" font-size="7.6" fill="#111" text-anchor="middle" font-weight="bold" font-style="normal" >900</text>
<text x="296.0" y="250.8" font-size="7.4" fill="#111" text-anchor="middle" font-weight="bold" font-style="normal" textLength="58" lengthAdjust="spacingAndGlyphs">Wavelength (nm)</text>
<text transform="translate(212.9,185.8) rotate(-90)" font-size="7.6" fill="#111" text-anchor="middle" font-weight="bold" font-style="normal" textLength="64.7" lengthAdjust="spacingAndGlyphs">Transmission (%)</text>
<line x1="306.6" x2="318" y1="144.2" y2="144.2" stroke="#b8b8b8" stroke-width="0.9"/>
<rect x="310.8" y="142.7" width="3.0" height="3.0" fill="#fff" stroke="#b8b8b8" stroke-width="0.6"/>
<text x="320.3" y="146.2" font-size="5.7" fill="#111" text-anchor="start" font-weight="bold" font-style="normal" >Ag (5 nm)</text>
<line x1="306.6" x2="318" y1="150.7" y2="150.7" stroke="#8c8c8c" stroke-width="0.9"/>
<polygon points="310.4,150.7 312.3,148.8 314.2,150.7 312.3,152.6" fill="#8c8c8c"/>
<text x="320.3" y="152.7" font-size="5.7" fill="#111" text-anchor="start" font-weight="bold" font-style="normal" >Ag (10 nm)</text>
<line x1="306.6" x2="318" y1="157.9" y2="157.9" stroke="#4a4a4a" stroke-width="0.9"/>
<circle cx="312.3" cy="157.9" r="1.6500000000000001" fill="#4a4a4a"/>
<text x="320.3" y="159.9" font-size="5.7" fill="#111" text-anchor="start" font-weight="bold" font-style="normal" >Ag (15 nm)</text>
<line x1="306.6" x2="318" y1="165" y2="165" stroke="#000" stroke-width="0.9"/>
<rect x="310.8" y="163.5" width="3.0" height="3.0" fill="#000"/>
<text x="320.3" y="167.0" font-size="5.7" fill="#111" text-anchor="start" font-weight="bold" font-style="normal" >Ag (20 nm)</text>
</g>
<g id="pe">
<text x="365.9" y="137.2" font-size="12" fill="#000" text-anchor="start" font-weight="bold" font-style="normal" stroke="#000" stroke-width="0.35">(e)</text>
<line x1="428.6" x2="428.6" y1="140.2" y2="233.8" stroke="#444" stroke-width="0.8"/>
<line x1="405.7" x2="534" y1="158.5" y2="158.5" stroke="#444" stroke-width="0.8"/>
<clipPath id="eclip"><rect x="405.7" y="140.2" width="128.3" height="93.60000000000002"/></clipPath>
<g clip-path="url(#eclip)">
<polyline points="405.2,210.2 405.8,210.2 406.4,210.1 406.9,210.1 407.5,210.0 408.1,210.0 408.7,209.9 409.3,209.9 409.9,209.8 410.4,209.8 411.0,209.7 411.6,209.6 412.2,209.6 412.8,209.5 413.4,209.5 414.0,209.4 414.5,209.4 415.1,209.3 415.7,209.2 416.3,209.2 416.9,209.1 417.5,209.0 418.1,209.0 418.6,208.9 419.2,208.8 419.8,208.8 420.4,208.7 421.0,208.6 421.6,208.6 422.2,208.5 422.7,208.4 423.3,208.4 423.9,208.3 424.5,208.2 425.1,208.1 425.7,208.1 426.3,208.0 426.8,207.9 427.4,207.8 428.0,207.8 428.6,207.7 429.2,207.6 429.8,207.5 430.4,207.4 430.9,207.4 431.5,207.3 432.1,207.2 432.7,207.1 433.3,207.0 433.9,206.9 434.5,206.8 435.0,206.8 435.6,206.7 436.2,206.6 436.8,206.5 437.4,206.4 438.0,206.3 438.6,206.2 439.1,206.1 439.7,206.0 440.3,205.9 440.9,205.8 441.5,205.7 442.1,205.6 442.7,205.5 443.2,205.4 443.8,205.2 444.4,205.1 445.0,205.0 445.6,204.9 446.2,204.8 446.8,204.7 447.3,204.6 447.9,204.5 448.5,204.4 449.1,204.3 449.7,204.1 450.3,204.0 450.8,203.9 451.4,203.8 452.0,203.7 452.6,203.6 453.2,203.4 453.8,203.3 454.4,203.2 454.9,203.1 455.5,202.9 456.1,202.8 456.7,202.7 457.3,202.5 457.9,202.4 458.5,202.3 459.0,202.1 459.6,202.0 460.2,201.8 460.8,201.7 461.4,201.5 462.0,201.4 462.6,201.2 463.1,201.0 463.7,200.9 464.3,200.7 464.9,200.5 465.5,200.3 466.1,200.1 466.7,199.9 467.2,199.7 467.8,199.5 468.4,199.3 469.0,199.0 469.6,198.8 470.2,198.6 470.8,198.3 471.3,198.1 471.9,197.8 472.5,197.6 473.1,197.3 473.7,197.0 474.3,196.8 474.9,196.5 475.4,196.2 476.0,195.9 476.6,195.6 477.2,195.3 477.8,195.0 478.4,194.7 479.0,194.4 479.5,194.1 480.1,193.7 480.7,193.4 481.3,193.0 481.9,192.7 482.5,192.3 483.1,191.9 483.6,191.5 484.2,191.1 484.8,190.7 485.4,190.3 486.0,189.9 486.6,189.5 487.2,189.0 487.7,188.5 488.3,188.0 488.9,187.5 489.5,186.9 490.1,186.4 490.7,185.8 491.2,185.1 491.8,184.5 492.4,183.9 493.0,183.3 493.6,182.6 494.2,182.0 494.8,181.4 495.3,180.7 495.9,180.0 496.5,179.3 497.1,178.6 497.7,177.9 498.3,177.2 498.9,176.4 499.4,175.7 500.0,174.9 500.6,174.2 501.2,173.4 501.8,172.6 502.4,171.7 503.0,170.9 503.5,170.0 504.1,169.1 504.7,168.2 505.3,167.2 505.9,166.2 506.5,165.2 507.1,164.1 507.6,163.0 508.2,161.9 508.8,160.8 509.4,159.7 510.0,158.5 510.6,157.3 511.2,156.1 511.7,154.8 512.3,153.5 512.9,152.2 513.5,151.0 514.1,149.9 514.7,148.8 515.3,147.8 515.8,146.9 516.4,145.9 517.0,145.0 517.6,144.1 518.2,143.2 518.8,142.3 519.4,141.5 519.9,140.5 520.5,139.6 521.1,138.7 521.7,137.8 522.3,137.0" fill="none" stroke="#b8b8b8" stroke-width="0.7" />
<rect x="403.7" y="208.7" width="3.0" height="3.0" fill="#fff" stroke="#b8b8b8" stroke-width="0.6"/>
<rect x="406.6" y="208.5" width="3.0" height="3.0" fill="#fff" stroke="#b8b8b8" stroke-width="0.6"/>
<rect x="409.5" y="208.2" width="3.0" height="3.0" fill="#fff" stroke="#b8b8b8" stroke-width="0.6"/>
<rect x="412.5" y="207.9" width="3.0" height="3.0" fill="#fff" stroke="#b8b8b8" stroke-width="0.6"/>
<rect x="415.4" y="207.6" width="3.0" height="3.0" fill="#fff" stroke="#b8b8b8" stroke-width="0.6"/>
<rect x="418.3" y="207.3" width="3.0" height="3.0" fill="#fff" stroke="#b8b8b8" stroke-width="0.6"/>
<rect x="421.2" y="206.9" width="3.0" height="3.0" fill="#fff" stroke="#b8b8b8" stroke-width="0.6"/>
<rect x="424.2" y="206.6" width="3.0" height="3.0" fill="#fff" stroke="#b8b8b8" stroke-width="0.6"/>
<rect x="427.1" y="206.2" width="3.0" height="3.0" fill="#fff" stroke="#b8b8b8" stroke-width="0.6"/>
<rect x="430.0" y="205.8" width="3.0" height="3.0" fill="#fff" stroke="#b8b8b8" stroke-width="0.6"/>
<rect x="433.0" y="205.3" width="3.0" height="3.0" fill="#fff" stroke="#b8b8b8" stroke-width="0.6"/>
<rect x="435.9" y="204.9" width="3.0" height="3.0" fill="#fff" stroke="#b8b8b8" stroke-width="0.6"/>
<rect x="438.8" y="204.4" width="3.0" height="3.0" fill="#fff" stroke="#b8b8b8" stroke-width="0.6"/>
<rect x="441.7" y="203.9" width="3.0" height="3.0" fill="#fff" stroke="#b8b8b8" stroke-width="0.6"/>
<rect x="444.7" y="203.3" width="3.0" height="3.0" fill="#fff" stroke="#b8b8b8" stroke-width="0.6"/>
<rect x="447.6" y="202.8" width="3.0" height="3.0" fill="#fff" stroke="#b8b8b8" stroke-width="0.6"/>
<rect x="450.5" y="202.2" width="3.0" height="3.0" fill="#fff" stroke="#b8b8b8" stroke-width="0.6"/>
<rect x="453.4" y="201.6" width="3.0" height="3.0" fill="#fff" stroke="#b8b8b8" stroke-width="0.6"/>
<rect x="456.4" y="200.9" width="3.0" height="3.0" fill="#fff" stroke="#b8b8b8" stroke-width="0.6"/>
<rect x="459.3" y="200.2" width="3.0" height="3.0" fill="#fff" stroke="#b8b8b8" stroke-width="0.6"/>
<rect x="462.2" y="199.4" width="3.0" height="3.0" fill="#fff" stroke="#b8b8b8" stroke-width="0.6"/>
<rect x="465.2" y="198.4" width="3.0" height="3.0" fill="#fff" stroke="#b8b8b8" stroke-width="0.6"/>
<rect x="468.1" y="197.3" width="3.0" height="3.0" fill="#fff" stroke="#b8b8b8" stroke-width="0.6"/>
<rect x="471.0" y="196.1" width="3.0" height="3.0" fill="#fff" stroke="#b8b8b8" stroke-width="0.6"/>
<rect x="473.9" y="194.7" width="3.0" height="3.0" fill="#fff" stroke="#b8b8b8" stroke-width="0.6"/>
<rect x="476.3" y="193.5" width="3.0" height="3.0" fill="#fff" stroke="#b8b8b8" stroke-width="0.6"/>
<rect x="478.6" y="192.2" width="3.0" height="3.0" fill="#fff" stroke="#b8b8b8" stroke-width="0.6"/>
<rect x="481.0" y="190.8" width="3.0" height="3.0" fill="#fff" stroke="#b8b8b8" stroke-width="0.6"/>
<rect x="483.3" y="189.2" width="3.0" height="3.0" fill="#fff" stroke="#b8b8b8" stroke-width="0.6"/>
<rect x="485.7" y="187.5" width="3.0" height="3.0" fill="#fff" stroke="#b8b8b8" stroke-width="0.6"/>
<rect x="488.0" y="185.4" width="3.0" height="3.0" fill="#fff" stroke="#b8b8b8" stroke-width="0.6"/>
<rect x="490.3" y="183.0" width="3.0" height="3.0" fill="#fff" stroke="#b8b8b8" stroke-width="0.6"/>
<rect x="492.7" y="180.5" width="3.0" height="3.0" fill="#fff" stroke="#b8b8b8" stroke-width="0.6"/>
<rect x="494.4" y="178.5" width="3.0" height="3.0" fill="#fff" stroke="#b8b8b8" stroke-width="0.6"/>
<rect x="496.2" y="176.4" width="3.0" height="3.0" fill="#fff" stroke="#b8b8b8" stroke-width="0.6"/>
<rect x="497.9" y="174.2" width="3.0" height="3.0" fill="#fff" stroke="#b8b8b8" stroke-width="0.6"/>
<rect x="499.7" y="171.9" width="3.0" height="3.0" fill="#fff" stroke="#b8b8b8" stroke-width="0.6"/>
<rect x="501.5" y="169.4" width="3.0" height="3.0" fill="#fff" stroke="#b8b8b8" stroke-width="0.6"/>
<rect x="503.2" y="166.7" width="3.0" height="3.0" fill="#fff" stroke="#b8b8b8" stroke-width="0.6"/>
<rect x="505.0" y="163.7" width="3.0" height="3.0" fill="#fff" stroke="#b8b8b8" stroke-width="0.6"/>
<rect x="506.7" y="160.4" width="3.0" height="3.0" fill="#fff" stroke="#b8b8b8" stroke-width="0.6"/>
<rect x="508.5" y="157.0" width="3.0" height="3.0" fill="#fff" stroke="#b8b8b8" stroke-width="0.6"/>
<rect x="509.7" y="154.6" width="3.0" height="3.0" fill="#fff" stroke="#b8b8b8" stroke-width="0.6"/>
<rect x="510.8" y="152.0" width="3.0" height="3.0" fill="#fff" stroke="#b8b8b8" stroke-width="0.6"/>
<rect x="512.0" y="149.5" width="3.0" height="3.0" fill="#fff" stroke="#b8b8b8" stroke-width="0.6"/>
<rect x="513.8" y="146.3" width="3.0" height="3.0" fill="#fff" stroke="#b8b8b8" stroke-width="0.6"/>
<rect x="515.5" y="143.5" width="3.0" height="3.0" fill="#fff" stroke="#b8b8b8" stroke-width="0.6"/>
<rect x="517.3" y="140.8" width="3.0" height="3.0" fill="#fff" stroke="#b8b8b8" stroke-width="0.6"/>
<rect x="519.0" y="138.1" width="3.0" height="3.0" fill="#fff" stroke="#b8b8b8" stroke-width="0.6"/>
<rect x="520.8" y="135.5" width="3.0" height="3.0" fill="#fff" stroke="#b8b8b8" stroke-width="0.6"/>
<polyline points="405.2,218.5 405.8,218.4 406.4,218.4 406.9,218.4 407.5,218.3 408.1,218.3 408.7,218.3 409.3,218.2 409.9,218.2 410.4,218.1 411.0,218.1 411.6,218.1 412.2,218.0 412.8,218.0 413.4,218.0 414.0,217.9 414.5,217.9 415.1,217.8 415.7,217.8 416.3,217.7 416.9,217.7 417.5,217.6 418.1,217.6 418.6,217.5 419.2,217.5 419.8,217.4 420.4,217.4 421.0,217.4 421.6,217.3 422.2,217.2 422.7,217.2 423.3,217.1 423.9,217.1 424.5,217.0 425.1,217.0 425.7,216.9 426.3,216.9 426.8,216.8 427.4,216.8 428.0,216.7 428.6,216.7 429.2,216.6 429.8,216.5 430.4,216.5 430.9,216.4 431.5,216.4 432.1,216.3 432.7,216.2 433.3,216.2 433.9,216.1 434.5,216.1 435.0,216.0 435.6,215.9 436.2,215.8 436.8,215.8 437.4,215.7 438.0,215.6 438.6,215.6 439.1,215.5 439.7,215.4 440.3,215.3 440.9,215.3 441.5,215.2 442.1,215.1 442.7,215.0 443.2,214.9 443.8,214.9 444.4,214.8 445.0,214.7 445.6,214.6 446.2,214.5 446.8,214.4 447.3,214.3 447.9,214.2 448.5,214.1 449.1,214.0 449.7,213.9 450.3,213.8 450.8,213.7 451.4,213.6 452.0,213.5 452.6,213.4 453.2,213.3 453.8,213.2 454.4,213.1 454.9,213.0 455.5,212.8 456.1,212.7 456.7,212.6 457.3,212.5 457.9,212.3 458.5,212.2 459.0,212.1 459.6,211.9 460.2,211.8 460.8,211.7 461.4,211.5 462.0,211.4 462.6,211.2 463.1,211.1 463.7,210.9 464.3,210.8 464.9,210.6 465.5,210.4 466.1,210.2 466.7,210.1 467.2,209.9 467.8,209.7 468.4,209.5 469.0,209.3 469.6,209.0 470.2,208.8 470.8,208.6 471.3,208.4 471.9,208.1 472.5,207.9 473.1,207.6 473.7,207.4 474.3,207.1 474.9,206.9 475.4,206.6 476.0,206.3 476.6,206.0 477.2,205.8 477.8,205.5 478.4,205.1 479.0,204.8 479.5,204.5 480.1,204.1 480.7,203.8 481.3,203.4 481.9,203.1 482.5,202.7 483.1,202.3 483.6,201.9 484.2,201.5 484.8,201.1 485.4,200.7 486.0,200.3 486.6,199.9 487.2,199.4 487.7,199.0 488.3,198.5 488.9,198.0 489.5,197.5 490.1,197.0 490.7,196.4 491.2,195.9 491.8,195.3 492.4,194.7 493.0,194.0 493.6,193.4 494.2,192.7 494.8,192.0 495.3,191.3 495.9,190.6 496.5,189.8 497.1,189.0 497.7,188.2 498.3,187.4 498.9,186.5 499.4,185.6 500.0,184.6 500.6,183.7 501.2,182.6 501.8,181.6 502.4,180.5 503.0,179.3 503.5,178.2 504.1,177.0 504.7,175.7 505.3,174.4 505.9,173.1 506.5,171.7 507.1,170.2 507.6,168.7 508.2,167.1 508.8,165.5 509.4,163.9 510.0,162.3 510.6,160.5 511.2,158.5 511.7,155.8 512.3,152.7 512.9,149.5 513.5,146.6 514.1,143.7 514.7,140.5 515.3,137.2 515.8,133.6 516.4,129.8 517.0,125.8 517.6,121.7 518.2,117.4 518.8,113.0 519.4,108.4 519.9,103.8 520.5,99.2 521.1,94.4 521.7,89.6 522.3,84.8" fill="none" stroke="#8c8c8c" stroke-width="0.7" />
<polygon points="403.2,218.5 405.2,216.5 407.1,218.5 405.2,220.4" fill="#8c8c8c"/>
<polygon points="406.2,218.3 408.1,216.3 410.1,218.3 408.1,220.2" fill="#8c8c8c"/>
<polygon points="409.1,218.1 411.0,216.2 413.0,218.1 411.0,220.1" fill="#8c8c8c"/>
<polygon points="412.0,217.9 414.0,216.0 415.9,217.9 414.0,219.9" fill="#8c8c8c"/>
<polygon points="414.9,217.7 416.9,215.7 418.8,217.7 416.9,219.6" fill="#8c8c8c"/>
<polygon points="417.9,217.4 419.8,215.5 421.8,217.4 419.8,219.4" fill="#8c8c8c"/>
<polygon points="420.8,217.2 422.7,215.2 424.7,217.2 422.7,219.1" fill="#8c8c8c"/>
<polygon points="423.7,216.9 425.7,215.0 427.6,216.9 425.7,218.9" fill="#8c8c8c"/>
<polygon points="426.7,216.7 428.6,214.7 430.6,216.7 428.6,218.6" fill="#8c8c8c"/>
<polygon points="429.6,216.4 431.5,214.4 433.5,216.4 431.5,218.3" fill="#8c8c8c"/>
<polygon points="432.5,216.1 434.5,214.1 436.4,216.1 434.5,218.0" fill="#8c8c8c"/>
<polygon points="435.4,215.7 437.4,213.8 439.3,215.7 437.4,217.7" fill="#8c8c8c"/>
<polygon points="438.4,215.3 440.3,213.4 442.3,215.3 440.3,217.3" fill="#8c8c8c"/>
<polygon points="441.3,214.9 443.2,213.0 445.2,214.9 443.2,216.9" fill="#8c8c8c"/>
<polygon points="444.2,214.5 446.2,212.6 448.1,214.5 446.2,216.5" fill="#8c8c8c"/>
<polygon points="447.1,214.0 449.1,212.1 451.0,214.0 449.1,216.0" fill="#8c8c8c"/>
<polygon points="450.1,213.5 452.0,211.6 454.0,213.5 452.0,215.5" fill="#8c8c8c"/>
<polygon points="453.0,213.0 454.9,211.0 456.9,213.0 454.9,214.9" fill="#8c8c8c"/>
<polygon points="455.9,212.3 457.9,210.4 459.8,212.3 457.9,214.3" fill="#8c8c8c"/>
<polygon points="458.9,211.7 460.8,209.7 462.8,211.7 460.8,213.6" fill="#8c8c8c"/>
<polygon points="461.8,210.9 463.7,209.0 465.7,210.9 463.7,212.9" fill="#8c8c8c"/>
<polygon points="464.7,210.1 466.7,208.1 468.6,210.1 466.7,212.0" fill="#8c8c8c"/>
<polygon points="467.6,209.0 469.6,207.1 471.5,209.0 469.6,211.0" fill="#8c8c8c"/>
<polygon points="470.6,207.9 472.5,205.9 474.5,207.9 472.5,209.8" fill="#8c8c8c"/>
<polygon points="473.5,206.6 475.4,204.7 477.4,206.6 475.4,208.6" fill="#8c8c8c"/>
<polygon points="475.8,205.5 477.8,203.5 479.7,205.5 477.8,207.4" fill="#8c8c8c"/>
<polygon points="478.2,204.1 480.1,202.2 482.1,204.1 480.1,206.1" fill="#8c8c8c"/>
<polygon points="480.5,202.7 482.5,200.8 484.4,202.7 482.5,204.7" fill="#8c8c8c"/>
<polygon points="482.9,201.1 484.8,199.2 486.8,201.1 484.8,203.1" fill="#8c8c8c"/>
<polygon points="485.2,199.4 487.2,197.5 489.1,199.4 487.2,201.4" fill="#8c8c8c"/>
<polygon points="487.5,197.5 489.5,195.5 491.4,197.5 489.5,199.4" fill="#8c8c8c"/>
<polygon points="489.9,195.3 491.8,193.3 493.8,195.3 491.8,197.2" fill="#8c8c8c"/>
<polygon points="492.2,192.7 494.2,190.8 496.1,192.7 494.2,194.7" fill="#8c8c8c"/>
<polygon points="494.0,190.6 495.9,188.6 497.9,190.6 495.9,192.5" fill="#8c8c8c"/>
<polygon points="495.7,188.2 497.7,186.3 499.6,188.2 497.7,190.2" fill="#8c8c8c"/>
<polygon points="497.5,185.6 499.4,183.6 501.4,185.6 499.4,187.5" fill="#8c8c8c"/>
<polygon points="499.3,182.6 501.2,180.7 503.2,182.6 501.2,184.6" fill="#8c8c8c"/>
<polygon points="501.0,179.3 503.0,177.4 504.9,179.3 503.0,181.3" fill="#8c8c8c"/>
<polygon points="502.2,177.0 504.1,175.0 506.1,177.0 504.1,178.9" fill="#8c8c8c"/>
<polygon points="503.4,174.4 505.3,172.5 507.3,174.4 505.3,176.4" fill="#8c8c8c"/>
<polygon points="504.5,171.7 506.5,169.7 508.4,171.7 506.5,173.6" fill="#8c8c8c"/>
<polygon points="505.7,168.7 507.6,166.7 509.6,168.7 507.6,170.6" fill="#8c8c8c"/>
<polygon points="506.9,165.5 508.8,163.6 510.8,165.5 508.8,167.5" fill="#8c8c8c"/>
<polygon points="508.0,162.3 510.0,160.3 511.9,162.3 510.0,164.2" fill="#8c8c8c"/>
<polygon points="509.2,158.5 511.2,156.5 513.1,158.5 511.2,160.4" fill="#8c8c8c"/>
<polygon points="509.8,155.8 511.7,153.9 513.7,155.8 511.7,157.8" fill="#8c8c8c"/>
<polygon points="510.4,152.7 512.3,150.7 514.3,152.7 512.3,154.6" fill="#8c8c8c"/>
<polygon points="511.0,149.5 512.9,147.6 514.9,149.5 512.9,151.5" fill="#8c8c8c"/>
<polygon points="511.5,146.6 513.5,144.6 515.4,146.6 513.5,148.5" fill="#8c8c8c"/>
<polygon points="512.1,143.7 514.1,141.7 516.0,143.7 514.1,145.6" fill="#8c8c8c"/>
<polygon points="512.7,140.5 514.7,138.6 516.6,140.5 514.7,142.5" fill="#8c8c8c"/>
<polygon points="513.3,137.2 515.3,135.2 517.2,137.2 515.3,139.1" fill="#8c8c8c"/>
<polygon points="513.9,133.6 515.8,131.6 517.8,133.6 515.8,135.5" fill="#8c8c8c"/>
<polygon points="514.5,129.8 516.4,127.8 518.4,129.8 516.4,131.7" fill="#8c8c8c"/>
<polygon points="515.1,125.8 517.0,123.9 519.0,125.8 517.0,127.8" fill="#8c8c8c"/>
<polygon points="515.6,121.7 517.6,119.7 519.5,121.7 517.6,123.6" fill="#8c8c8c"/>
<polygon points="516.2,117.4 518.2,115.4 520.1,117.4 518.2,119.3" fill="#8c8c8c"/>
<polygon points="516.8,113.0 518.8,111.0 520.7,113.0 518.8,114.9" fill="#8c8c8c"/>
<polygon points="517.4,108.4 519.4,106.5 521.3,108.4 519.4,110.4" fill="#8c8c8c"/>
<polygon points="518.0,103.8 519.9,101.9 521.9,103.8 519.9,105.8" fill="#8c8c8c"/>
<polygon points="518.6,99.2 520.5,97.2 522.5,99.2 520.5,101.1" fill="#8c8c8c"/>
<polygon points="519.2,94.4 521.1,92.5 523.1,94.4 521.1,96.4" fill="#8c8c8c"/>
<polygon points="519.7,89.6 521.7,87.7 523.6,89.6 521.7,91.6" fill="#8c8c8c"/>
<polygon points="520.3,84.8 522.3,82.9 524.2,84.8 522.3,86.8" fill="#8c8c8c"/>
<polyline points="405.2,223.1 405.8,223.1 406.4,223.0 406.9,223.0 407.5,222.9 408.1,222.9 408.7,222.8 409.3,222.8 409.9,222.8 410.4,222.7 411.0,222.7 411.6,222.6 412.2,222.6 412.8,222.5 413.4,222.5 414.0,222.4 414.5,222.3 415.1,222.3 415.7,222.2 416.3,222.2 416.9,222.1 417.5,222.1 418.1,222.0 418.6,222.0 419.2,221.9 419.8,221.9 420.4,221.8 421.0,221.7 421.6,221.7 422.2,221.6 422.7,221.6 423.3,221.5 423.9,221.5 424.5,221.4 425.1,221.3 425.7,221.3 426.3,221.2 426.8,221.2 427.4,221.1 428.0,221.0 428.6,221.0 429.2,220.9 429.8,220.8 430.4,220.8 430.9,220.7 431.5,220.7 432.1,220.6 432.7,220.5 433.3,220.5 433.9,220.4 434.5,220.3 435.0,220.3 435.6,220.2 436.2,220.1 436.8,220.1 437.4,220.0 438.0,219.9 438.6,219.9 439.1,219.8 439.7,219.7 440.3,219.6 440.9,219.6 441.5,219.5 442.1,219.4 442.7,219.3 443.2,219.2 443.8,219.2 444.4,219.1 445.0,219.0 445.6,218.9 446.2,218.8 446.8,218.7 447.3,218.6 447.9,218.5 448.5,218.4 449.1,218.3 449.7,218.2 450.3,218.1 450.8,218.0 451.4,217.9 452.0,217.8 452.6,217.7 453.2,217.6 453.8,217.5 454.4,217.4 454.9,217.3 455.5,217.1 456.1,217.0 456.7,216.9 457.3,216.8 457.9,216.7 458.5,216.5 459.0,216.4 459.6,216.3 460.2,216.1 460.8,216.0 461.4,215.8 462.0,215.7 462.6,215.5 463.1,215.4 463.7,215.2 464.3,215.1 464.9,214.9 465.5,214.7 466.1,214.5 466.7,214.4 467.2,214.2 467.8,214.0 468.4,213.8 469.0,213.6 469.6,213.3 470.2,213.1 470.8,212.9 471.3,212.7 471.9,212.4 472.5,212.2 473.1,212.0 473.7,211.7 474.3,211.4 474.9,211.2 475.4,210.9 476.0,210.6 476.6,210.4 477.2,210.1 477.8,209.8 478.4,209.5 479.0,209.1 479.5,208.8 480.1,208.5 480.7,208.1 481.3,207.8 481.9,207.4 482.5,207.1 483.1,206.7 483.6,206.3 484.2,205.9 484.8,205.5 485.4,205.1 486.0,204.6 486.6,204.2 487.2,203.7 487.7,203.3 488.3,202.8 488.9,202.3 489.5,201.7 490.1,201.2 490.7,200.6 491.2,200.0 491.8,199.3 492.4,198.7 493.0,198.0 493.6,197.3 494.2,196.5 494.8,195.8 495.3,194.9 495.9,194.1 496.5,193.2 497.1,192.3 497.7,191.3 498.3,190.4 498.9,189.4 499.4,188.3 500.0,187.3 500.6,186.1 501.2,185.0 501.8,183.8 502.4,182.5 503.0,181.2 503.5,179.9 504.1,178.6 504.7,177.2 505.3,175.7 505.9,174.2 506.5,172.6 507.1,171.0 507.6,169.4 508.2,167.7 508.8,166.0 509.4,164.2 510.0,162.6 510.6,160.9 511.2,159.0 511.7,156.3 512.3,153.0 512.9,149.5 513.5,146.1 514.1,142.6 514.7,139.2 515.3,136.0 515.8,132.8 516.4,129.8 517.0,126.8 517.6,124.0 518.2,121.3 518.8,118.7 519.4,116.3 519.9,114.0 520.5,111.9 521.1,109.9 521.7,108.2 522.3,106.6" fill="none" stroke="#4a4a4a" stroke-width="0.7" />
<circle cx="405.2" cy="223.1" r="1.6500000000000001" fill="#4a4a4a"/>
<circle cx="408.1" cy="222.9" r="1.6500000000000001" fill="#4a4a4a"/>
<circle cx="411.0" cy="222.7" r="1.6500000000000001" fill="#4a4a4a"/>
<circle cx="414.0" cy="222.4" r="1.6500000000000001" fill="#4a4a4a"/>
<circle cx="416.9" cy="222.1" r="1.6500000000000001" fill="#4a4a4a"/>
<circle cx="419.8" cy="221.9" r="1.6500000000000001" fill="#4a4a4a"/>
<circle cx="422.7" cy="221.6" r="1.6500000000000001" fill="#4a4a4a"/>
<circle cx="425.7" cy="221.3" r="1.6500000000000001" fill="#4a4a4a"/>
<circle cx="428.6" cy="221.0" r="1.6500000000000001" fill="#4a4a4a"/>
<circle cx="431.5" cy="220.7" r="1.6500000000000001" fill="#4a4a4a"/>
<circle cx="434.5" cy="220.3" r="1.6500000000000001" fill="#4a4a4a"/>
<circle cx="437.4" cy="220.0" r="1.6500000000000001" fill="#4a4a4a"/>
<circle cx="440.3" cy="219.6" r="1.6500000000000001" fill="#4a4a4a"/>
<circle cx="443.2" cy="219.2" r="1.6500000000000001" fill="#4a4a4a"/>
<circle cx="446.2" cy="218.8" r="1.6500000000000001" fill="#4a4a4a"/>
<circle cx="449.1" cy="218.3" r="1.6500000000000001" fill="#4a4a4a"/>
<circle cx="452.0" cy="217.8" r="1.6500000000000001" fill="#4a4a4a"/>
<circle cx="454.9" cy="217.3" r="1.6500000000000001" fill="#4a4a4a"/>
<circle cx="457.9" cy="216.7" r="1.6500000000000001" fill="#4a4a4a"/>
<circle cx="460.8" cy="216.0" r="1.6500000000000001" fill="#4a4a4a"/>
<circle cx="463.7" cy="215.2" r="1.6500000000000001" fill="#4a4a4a"/>
<circle cx="466.7" cy="214.4" r="1.6500000000000001" fill="#4a4a4a"/>
<circle cx="469.6" cy="213.3" r="1.6500000000000001" fill="#4a4a4a"/>
<circle cx="472.5" cy="212.2" r="1.6500000000000001" fill="#4a4a4a"/>
<circle cx="475.4" cy="210.9" r="1.6500000000000001" fill="#4a4a4a"/>
<circle cx="477.8" cy="209.8" r="1.6500000000000001" fill="#4a4a4a"/>
<circle cx="480.1" cy="208.5" r="1.6500000000000001" fill="#4a4a4a"/>
<circle cx="482.5" cy="207.1" r="1.6500000000000001" fill="#4a4a4a"/>
<circle cx="484.8" cy="205.5" r="1.6500000000000001" fill="#4a4a4a"/>
<circle cx="487.2" cy="203.7" r="1.6500000000000001" fill="#4a4a4a"/>
<circle cx="489.5" cy="201.7" r="1.6500000000000001" fill="#4a4a4a"/>
<circle cx="491.8" cy="199.3" r="1.6500000000000001" fill="#4a4a4a"/>
<circle cx="493.6" cy="197.3" r="1.6500000000000001" fill="#4a4a4a"/>
<circle cx="495.3" cy="194.9" r="1.6500000000000001" fill="#4a4a4a"/>
<circle cx="497.1" cy="192.3" r="1.6500000000000001" fill="#4a4a4a"/>
<circle cx="498.9" cy="189.4" r="1.6500000000000001" fill="#4a4a4a"/>
<circle cx="500.6" cy="186.1" r="1.6500000000000001" fill="#4a4a4a"/>
<circle cx="501.8" cy="183.8" r="1.6500000000000001" fill="#4a4a4a"/>
<circle cx="503.0" cy="181.2" r="1.6500000000000001" fill="#4a4a4a"/>
<circle cx="504.1" cy="178.6" r="1.6500000000000001" fill="#4a4a4a"/>
<circle cx="505.3" cy="175.7" r="1.6500000000000001" fill="#4a4a4a"/>
<circle cx="506.5" cy="172.6" r="1.6500000000000001" fill="#4a4a4a"/>
<circle cx="507.6" cy="169.4" r="1.6500000000000001" fill="#4a4a4a"/>
<circle cx="508.8" cy="166.0" r="1.6500000000000001" fill="#4a4a4a"/>
<circle cx="510.0" cy="162.6" r="1.6500000000000001" fill="#4a4a4a"/>
<circle cx="511.2" cy="159.0" r="1.6500000000000001" fill="#4a4a4a"/>
<circle cx="511.7" cy="156.3" r="1.6500000000000001" fill="#4a4a4a"/>
<circle cx="512.3" cy="153.0" r="1.6500000000000001" fill="#4a4a4a"/>
<circle cx="512.9" cy="149.5" r="1.6500000000000001" fill="#4a4a4a"/>
<circle cx="513.5" cy="146.1" r="1.6500000000000001" fill="#4a4a4a"/>
<circle cx="514.1" cy="142.6" r="1.6500000000000001" fill="#4a4a4a"/>
<circle cx="514.7" cy="139.2" r="1.6500000000000001" fill="#4a4a4a"/>
<circle cx="515.3" cy="136.0" r="1.6500000000000001" fill="#4a4a4a"/>
<circle cx="515.8" cy="132.8" r="1.6500000000000001" fill="#4a4a4a"/>
<circle cx="516.4" cy="129.8" r="1.6500000000000001" fill="#4a4a4a"/>
<circle cx="517.0" cy="126.8" r="1.6500000000000001" fill="#4a4a4a"/>
<circle cx="517.6" cy="124.0" r="1.6500000000000001" fill="#4a4a4a"/>
<circle cx="518.2" cy="121.3" r="1.6500000000000001" fill="#4a4a4a"/>
<circle cx="518.8" cy="118.7" r="1.6500000000000001" fill="#4a4a4a"/>
<circle cx="519.9" cy="114.0" r="1.6500000000000001" fill="#4a4a4a"/>
<circle cx="521.1" cy="109.9" r="1.6500000000000001" fill="#4a4a4a"/>
<circle cx="522.3" cy="106.6" r="1.6500000000000001" fill="#4a4a4a"/>
<polyline points="405.2,227.1 405.8,227.0 406.4,227.0 406.9,227.0 407.5,226.9 408.1,226.9 408.7,226.9 409.3,226.8 409.9,226.8 410.4,226.8 411.0,226.7 411.6,226.7 412.2,226.6 412.8,226.6 413.4,226.6 414.0,226.5 414.5,226.5 415.1,226.4 415.7,226.4 416.3,226.3 416.9,226.3 417.5,226.3 418.1,226.2 418.6,226.2 419.2,226.1 419.8,226.1 420.4,226.0 421.0,226.0 421.6,225.9 422.2,225.9 422.7,225.8 423.3,225.8 423.9,225.7 424.5,225.7 425.1,225.6 425.7,225.5 426.3,225.5 426.8,225.4 427.4,225.4 428.0,225.3 428.6,225.3 429.2,225.2 429.8,225.2 430.4,225.1 430.9,225.0 431.5,225.0 432.1,224.9 432.7,224.9 433.3,224.8 433.9,224.7 434.5,224.7 435.0,224.6 435.6,224.5 436.2,224.5 436.8,224.4 437.4,224.3 438.0,224.3 438.6,224.2 439.1,224.1 439.7,224.0 440.3,224.0 440.9,223.9 441.5,223.8 442.1,223.7 442.7,223.6 443.2,223.6 443.8,223.5 444.4,223.4 445.0,223.3 445.6,223.2 446.2,223.1 446.8,223.0 447.3,222.9 447.9,222.8 448.5,222.7 449.1,222.7 449.7,222.6 450.3,222.5 450.8,222.3 451.4,222.2 452.0,222.1 452.6,222.0 453.2,221.9 453.8,221.8 454.4,221.7 454.9,221.6 455.5,221.5 456.1,221.3 456.7,221.2 457.3,221.1 457.9,221.0 458.5,220.8 459.0,220.7 459.6,220.6 460.2,220.4 460.8,220.3 461.4,220.1 462.0,220.0 462.6,219.8 463.1,219.7 463.7,219.5 464.3,219.4 464.9,219.2 465.5,219.0 466.1,218.9 466.7,218.7 467.2,218.5 467.8,218.3 468.4,218.1 469.0,217.9 469.6,217.7 470.2,217.4 470.8,217.2 471.3,217.0 471.9,216.7 472.5,216.5 473.1,216.3 473.7,216.0 474.3,215.8 474.9,215.5 475.4,215.2 476.0,214.9 476.6,214.7 477.2,214.4 477.8,214.1 478.4,213.8 479.0,213.5 479.5,213.2 480.1,212.8 480.7,212.5 481.3,212.2 481.9,211.8 482.5,211.4 483.1,211.0 483.6,210.7 484.2,210.3 484.8,209.8 485.4,209.4 486.0,209.0 486.6,208.5 487.2,208.0 487.7,207.5 488.3,207.0 488.9,206.4 489.5,205.8 490.1,205.2 490.7,204.5 491.2,203.8 491.8,203.1 492.4,202.3 493.0,201.6 493.6,200.8 494.2,200.0 494.8,199.1 495.3,198.3 495.9,197.3 496.5,196.4 497.1,195.4 497.7,194.4 498.3,193.3 498.9,192.2 499.4,191.1 500.0,189.9 500.6,188.6 501.2,187.3 501.8,186.0 502.4,184.6 503.0,183.1 503.5,181.6 504.1,180.1 504.7,178.6 505.3,177.0 505.9,175.3 506.5,173.6 507.1,171.8 507.6,170.0 508.2,168.2 508.8,166.4 509.4,164.6 510.0,162.9 510.6,161.3 511.2,159.4 511.7,156.8 512.3,153.3 512.9,149.5 513.5,145.7 514.1,141.9 514.7,138.6 515.3,135.4 515.8,132.5 516.4,129.8 517.0,127.4 517.6,125.4 518.2,123.7 518.8,122.5 519.4,121.7 519.9,121.5 520.5,121.8 521.1,122.7 521.7,124.2 522.3,126.4" fill="none" stroke="#000" stroke-width="0.7" />
<rect x="403.7" y="225.6" width="3.0" height="3.0" fill="#000"/>
<rect x="406.6" y="225.4" width="3.0" height="3.0" fill="#000"/>
<rect x="409.5" y="225.2" width="3.0" height="3.0" fill="#000"/>
<rect x="412.5" y="225.0" width="3.0" height="3.0" fill="#000"/>
<rect x="415.4" y="224.8" width="3.0" height="3.0" fill="#000"/>
<rect x="418.3" y="224.6" width="3.0" height="3.0" fill="#000"/>
<rect x="421.2" y="224.3" width="3.0" height="3.0" fill="#000"/>
<rect x="424.2" y="224.0" width="3.0" height="3.0" fill="#000"/>
<rect x="427.1" y="223.8" width="3.0" height="3.0" fill="#000"/>
<rect x="430.0" y="223.5" width="3.0" height="3.0" fill="#000"/>
<rect x="433.0" y="223.2" width="3.0" height="3.0" fill="#000"/>
<rect x="435.9" y="222.8" width="3.0" height="3.0" fill="#000"/>
<rect x="438.8" y="222.5" width="3.0" height="3.0" fill="#000"/>
<rect x="441.7" y="222.1" width="3.0" height="3.0" fill="#000"/>
<rect x="444.7" y="221.6" width="3.0" height="3.0" fill="#000"/>
<rect x="447.6" y="221.2" width="3.0" height="3.0" fill="#000"/>
<rect x="450.5" y="220.6" width="3.0" height="3.0" fill="#000"/>
<rect x="453.4" y="220.1" width="3.0" height="3.0" fill="#000"/>
<rect x="456.4" y="219.5" width="3.0" height="3.0" fill="#000"/>
<rect x="459.3" y="218.8" width="3.0" height="3.0" fill="#000"/>
<rect x="462.2" y="218.0" width="3.0" height="3.0" fill="#000"/>
<rect x="465.2" y="217.2" width="3.0" height="3.0" fill="#000"/>
<rect x="468.1" y="216.2" width="3.0" height="3.0" fill="#000"/>
<rect x="471.0" y="215.0" width="3.0" height="3.0" fill="#000"/>
<rect x="473.9" y="213.7" width="3.0" height="3.0" fill="#000"/>
<rect x="476.3" y="212.6" width="3.0" height="3.0" fill="#000"/>
<rect x="478.6" y="211.3" width="3.0" height="3.0" fill="#000"/>
<rect x="481.0" y="209.9" width="3.0" height="3.0" fill="#000"/>
<rect x="483.3" y="208.3" width="3.0" height="3.0" fill="#000"/>
<rect x="485.7" y="206.5" width="3.0" height="3.0" fill="#000"/>
<rect x="488.0" y="204.3" width="3.0" height="3.0" fill="#000"/>
<rect x="489.7" y="202.3" width="3.0" height="3.0" fill="#000"/>
<rect x="491.5" y="200.1" width="3.0" height="3.0" fill="#000"/>
<rect x="493.3" y="197.6" width="3.0" height="3.0" fill="#000"/>
<rect x="495.0" y="194.9" width="3.0" height="3.0" fill="#000"/>
<rect x="496.8" y="191.8" width="3.0" height="3.0" fill="#000"/>
<rect x="498.5" y="188.4" width="3.0" height="3.0" fill="#000"/>
<rect x="499.7" y="185.8" width="3.0" height="3.0" fill="#000"/>
<rect x="500.9" y="183.1" width="3.0" height="3.0" fill="#000"/>
<rect x="502.0" y="180.1" width="3.0" height="3.0" fill="#000"/>
<rect x="503.2" y="177.1" width="3.0" height="3.0" fill="#000"/>
<rect x="504.4" y="173.8" width="3.0" height="3.0" fill="#000"/>
<rect x="505.6" y="170.3" width="3.0" height="3.0" fill="#000"/>
<rect x="506.7" y="166.7" width="3.0" height="3.0" fill="#000"/>
<rect x="507.9" y="163.1" width="3.0" height="3.0" fill="#000"/>
<rect x="509.1" y="159.8" width="3.0" height="3.0" fill="#000"/>
<rect x="510.2" y="155.3" width="3.0" height="3.0" fill="#000"/>
<rect x="510.8" y="151.8" width="3.0" height="3.0" fill="#000"/>
<rect x="511.4" y="148.0" width="3.0" height="3.0" fill="#000"/>
<rect x="512.0" y="144.2" width="3.0" height="3.0" fill="#000"/>
<rect x="512.6" y="140.4" width="3.0" height="3.0" fill="#000"/>
<rect x="513.2" y="137.1" width="3.0" height="3.0" fill="#000"/>
<rect x="513.8" y="133.9" width="3.0" height="3.0" fill="#000"/>
<rect x="514.3" y="131.0" width="3.0" height="3.0" fill="#000"/>
<rect x="514.9" y="128.3" width="3.0" height="3.0" fill="#000"/>
<rect x="516.1" y="123.9" width="3.0" height="3.0" fill="#000"/>
<rect x="517.3" y="121.0" width="3.0" height="3.0" fill="#000"/>
<rect x="520.2" y="122.7" width="3.0" height="3.0" fill="#000"/>
</g>
<rect x="405.7" y="140.2" width="128.3" height="93.60000000000002" fill="none" stroke="#222" stroke-width="0.9"/>
<line x1="405.7" x2="407.7" y1="140.6" y2="140.6" stroke="#222" stroke-width="0.7"/>
<text x="403.5" y="143.1" font-size="7.6" fill="#111" text-anchor="end" font-weight="bold" font-style="normal" >5</text>
<line x1="405.7" x2="407.7" y1="158.5" y2="158.5" stroke="#222" stroke-width="0.7"/>
<text x="403.5" y="161.0" font-size="7.6" fill="#111" text-anchor="end" font-weight="bold" font-style="normal" >0</text>
<line x1="405.7" x2="407.7" y1="176.4" y2="176.4" stroke="#222" stroke-width="0.7"/>
<text x="403.5" y="178.9" font-size="7.6" fill="#111" text-anchor="end" font-weight="bold" font-style="normal" >-5</text>
<line x1="405.7" x2="407.7" y1="194.4" y2="194.4" stroke="#222" stroke-width="0.7"/>
<text x="403.5" y="196.9" font-size="7.6" fill="#111" text-anchor="end" font-weight="bold" font-style="normal" >-10</text>
<line x1="405.7" x2="407.7" y1="212.3" y2="212.3" stroke="#222" stroke-width="0.7"/>
<text x="403.5" y="214.8" font-size="7.6" fill="#111" text-anchor="end" font-weight="bold" font-style="normal" >-15</text>
<line x1="405.7" x2="407.7" y1="230.3" y2="230.3" stroke="#222" stroke-width="0.7"/>
<text x="403.5" y="232.8" font-size="7.6" fill="#111" text-anchor="end" font-weight="bold" font-style="normal" >-20</text>
<line x1="428.6" x2="428.6" y1="233.8" y2="231.8" stroke="#222" stroke-width="0.7"/>
<text x="428.6" y="243.6" font-size="7.6" fill="#111" text-anchor="middle" font-weight="bold" font-style="normal" >0.0</text>
<line x1="463.7" x2="463.7" y1="233.8" y2="231.8" stroke="#222" stroke-width="0.7"/>
<text x="463.7" y="243.6" font-size="7.6" fill="#111" text-anchor="middle" font-weight="bold" font-style="normal" >0.3</text>
<line x1="498.9" x2="498.9" y1="233.8" y2="231.8" stroke="#222" stroke-width="0.7"/>
<text x="498.9" y="243.6" font-size="7.6" fill="#111" text-anchor="middle" font-weight="bold" font-style="normal" >0.6</text>
<line x1="534.0" x2="534.0" y1="233.8" y2="231.8" stroke="#222" stroke-width="0.7"/>
<text x="534.0" y="243.6" font-size="7.6" fill="#111" text-anchor="middle" font-weight="bold" font-style="normal" >0.9</text>
<text x="468.7" y="253.6" font-size="7.4" fill="#111" text-anchor="middle" font-weight="bold" font-style="normal" textLength="37.2" lengthAdjust="spacingAndGlyphs">Voltage (V)</text>
<text transform="translate(387,187) rotate(-90)" font-size="7.6" fill="#111" text-anchor="middle" font-weight="bold" textLength="93" lengthAdjust="spacingAndGlyphs">Current Density (mA cm<tspan font-size="5" dy="-2.4">-2</tspan><tspan dy="2.4">)</tspan></text>
<line x1="430" x2="443" y1="162.8" y2="162.8" stroke="#b8b8b8" stroke-width="0.9"/>
<rect x="435.0" y="161.3" width="3.0" height="3.0" fill="#fff" stroke="#b8b8b8" stroke-width="0.6"/>
<text x="445.0" y="164.8" font-size="5.7" fill="#111" text-anchor="start" font-weight="bold" font-style="normal" >Ag (5 nm)</text>
<line x1="430" x2="443" y1="170" y2="170" stroke="#8c8c8c" stroke-width="0.9"/>
<polygon points="434.6,170.0 436.5,168.1 438.4,170.0 436.5,171.9" fill="#8c8c8c"/>
<text x="445.0" y="172.0" font-size="5.7" fill="#111" text-anchor="start" font-weight="bold" font-style="normal" >Ag (10 nm)</text>
<line x1="430" x2="443" y1="177.4" y2="177.4" stroke="#4a4a4a" stroke-width="0.9"/>
<circle cx="436.5" cy="177.4" r="1.6500000000000001" fill="#4a4a4a"/>
<text x="445.0" y="179.4" font-size="5.7" fill="#111" text-anchor="start" font-weight="bold" font-style="normal" >Ag (15 nm)</text>
<line x1="430" x2="443" y1="185.1" y2="185.1" stroke="#000" stroke-width="0.9"/>
<rect x="435.0" y="183.6" width="3.0" height="3.0" fill="#000"/>
<text x="445.0" y="187.1" font-size="5.7" fill="#111" text-anchor="start" font-weight="bold" font-style="normal" >Ag (20 nm)</text>
</g>
<g id="pf">
<defs>
<linearGradient id="fTop" x1="0" x2="0" y1="0" y2="1"><stop offset="0" stop-color="#a6bcda"/><stop offset="0.38" stop-color="#92a8c2"/><stop offset="0.58" stop-color="#6c8096"/><stop offset="0.86" stop-color="#566a80"/><stop offset="1" stop-color="#7c98b8"/></linearGradient>
<linearGradient id="fBlue" x1="0" x2="0" y1="0" y2="1"><stop offset="0" stop-color="#b4d0f0"/><stop offset="1" stop-color="#a4c4ea"/></linearGradient>
<linearGradient id="fBlue2" x1="0" x2="0" y1="0" y2="1"><stop offset="0" stop-color="#8fb0de"/><stop offset="1" stop-color="#a6c4ea"/></linearGradient>
<linearGradient id="fDk" gradientUnits="userSpaceOnUse" x1="0" x2="0" y1="340" y2="360"><stop offset="0" stop-color="#3a4a64"/><stop offset="0.6" stop-color="#485a78"/><stop offset="1" stop-color="#60769a"/></linearGradient>
</defs>
<text x="7.0" y="278.2" font-size="12.8" fill="#000" text-anchor="start" font-weight="bold" font-style="normal" stroke="#000" stroke-width="0.35">(f)</text>
<path d="M11.3 356.3 C14.1 356.8 22.3 358.4 28.0 359.0 C33.7 359.6 40.2 360.1 45.5 360.0 C50.8 359.9 55.5 359.3 60.0 358.6 C64.5 357.9 68.4 357.1 72.7 356.0 C77.0 354.9 81.5 353.1 86.0 351.8 C90.5 350.5 95.7 348.9 100.0 348.0 C104.3 347.1 108.3 346.4 112.0 346.2 C115.7 346.0 119.0 346.2 122.0 346.6 C125.0 347.0 128.7 348.3 130.0 348.6 L141.8 340.9 L141.8 322 L141.8 322.0 C139.3 321.3 134.0 318.3 127.0 318.0 C120.0 317.7 109.2 318.3 100.0 320.0 C90.8 321.7 81.2 325.8 72.0 328.0 C62.8 330.2 53.7 332.7 45.0 333.0 C36.3 333.3 24.2 330.5 20.0 330.0 Z" fill="url(#fDk)"/>
<path d="M127 318 L141.8 322 L141.8 340.9 L130 348.2 L124 345 Z" fill="#9cbae4"/>
<path d="M127 318 L141.8 322 L141.8 330 L127 327 Z" fill="#7f9ed2"/>
<path d="M11.3 356.3 C14.1 356.8 22.3 358.4 28.0 359.0 C33.7 359.6 40.2 360.1 45.5 360.0 C50.8 359.9 55.5 359.3 60.0 358.6 C64.5 357.9 68.4 357.1 72.7 356.0 C77.0 354.9 81.5 353.1 86.0 351.8 C90.5 350.5 95.7 348.9 100.0 348.0 C104.3 347.1 108.3 346.4 112.0 346.2 C115.7 346.0 119.0 346.2 122.0 346.6 C125.0 347.0 128.7 348.3 130.0 348.6 L130.0 374.5 C128.7 373.3 125.0 369.2 122.0 367.5 C119.0 365.8 115.7 364.6 112.0 364.2 C108.3 363.8 104.3 364.4 100.0 365.0 C95.7 365.6 90.5 366.9 86.0 368.0 C81.5 369.1 77.0 370.7 72.7 371.6 C68.4 372.5 64.5 373.0 60.0 373.4 C55.5 373.8 50.8 374.0 45.5 374.0 C40.2 374.0 33.7 373.7 28.0 373.3 C22.3 372.9 14.1 371.9 11.3 371.6 Z" fill="url(#fBlue2)" />
<path d="M11.3 371.6 C14.1 371.9 22.3 372.9 28.0 373.3 C33.7 373.7 40.2 374.0 45.5 374.0 C50.8 374.0 55.5 373.8 60.0 373.4 C64.5 373.0 68.4 372.5 72.7 371.6 C77.0 370.7 81.5 369.1 86.0 368.0 C90.5 366.9 95.7 365.6 100.0 365.0 C104.3 364.4 108.3 363.8 112.0 364.2 C115.7 364.6 119.0 365.8 122.0 367.5 C125.0 369.2 128.7 373.3 130.0 374.5 L130.0 385.5 C128.7 384.6 125.0 381.5 122.0 380.0 C119.0 378.5 115.7 377.1 112.0 376.5 C108.3 375.9 104.3 375.7 100.0 376.2 C95.7 376.7 90.5 378.1 86.0 379.4 C81.5 380.7 77.0 382.6 72.7 383.8 C68.4 385.0 64.5 385.9 60.0 386.5 C55.5 387.1 50.8 387.5 45.5 387.5 C40.2 387.5 33.7 387.2 28.0 386.7 C22.3 386.2 14.1 385.0 11.3 384.6 Z" fill="#e6e6e6" />
<polygon points="130.0,348.2 141.8,340.9 141.8,369.0 130.0,374.5" fill="#8eaedb" />
<polygon points="130.0,374.5 141.8,369.0 141.8,379.0 130.0,385.5" fill="#d2d2d2" />
<path d="M21.8 282.6 C23.2 283.1 27.2 284.7 30.0 285.4 C32.8 286.1 35.1 286.4 38.4 286.6 C41.7 286.8 46.1 286.9 50.0 286.6 C53.9 286.3 58.0 285.5 62.0 284.7 C66.0 283.9 70.0 282.7 74.0 281.6 C78.0 280.5 82.2 279.3 85.7 278.3 C89.2 277.3 91.8 276.3 95.0 275.6 C98.2 274.9 101.6 274.4 104.6 274.3 C107.6 274.2 110.3 274.4 113.0 274.8 C115.7 275.2 118.5 276.0 121.0 277.0 C123.5 278.0 125.8 279.2 128.0 280.6 C130.2 282.0 133.0 284.6 134.0 285.4 L126.7 297.4 L126.7 297.4 C124.9 297.6 119.7 297.9 116.0 298.4 C112.3 298.9 108.4 299.8 104.6 300.6 C100.8 301.4 96.9 302.4 93.0 303.4 C89.1 304.4 85.0 305.4 81.0 306.4 C77.0 307.4 73.0 308.4 69.0 309.2 C65.0 310.0 61.3 310.8 57.3 311.2 C53.3 311.6 49.0 311.8 45.0 311.8 C41.0 311.8 37.1 311.6 33.6 311.2 C30.1 310.8 27.2 310.3 24.0 309.6 C20.8 308.9 16.1 307.4 14.5 307.0 Z" fill="url(#fTop)"/>
<polygon points="126.7,297.4 134.0,285.4 134.0,308.0 126.7,318.6" fill="#6282ac" />
<polygon points="126.7,318.6 134.0,308.0 134.0,320.0 126.7,331.2" fill="#1d4a22" />
<polygon points="126.7,331.2 134.0,320.0 134.0,331.0 126.7,341.3" fill="#c4c4c4" />
<g stroke-linecap="round" fill="none">
<line x1="28" y1="301.9" x2="64" y2="308.9" stroke="#36424e" stroke-width="1.9"/>
<line x1="28" y1="301" x2="64" y2="308" stroke="#98a2ae" stroke-width="1.6"/>
<line x1="31" y1="296.9" x2="50" y2="303.9" stroke="#36424e" stroke-width="1.9"/>
<line x1="31" y1="296" x2="50" y2="303" stroke="#a8b0ba" stroke-width="1.6"/>
<line x1="46" y1="293.9" x2="57" y2="301.9" stroke="#36424e" stroke-width="1.9"/>
<line x1="46" y1="293" x2="57" y2="301" stroke="#8a96a4" stroke-width="1.6"/>
<line x1="40" y1="304.9" x2="70" y2="300.9" stroke="#36424e" stroke-width="1.9"/>
<line x1="40" y1="304" x2="70" y2="300" stroke="#98a2ae" stroke-width="1.6"/>
<line x1="55" y1="297.9" x2="100" y2="292.9" stroke="#36424e" stroke-width="1.9"/>
<line x1="55" y1="297" x2="100" y2="292" stroke="#b0b8c2" stroke-width="1.6"/>
<line x1="58" y1="303.9" x2="92" y2="296.9" stroke="#36424e" stroke-width="1.9"/>
<line x1="58" y1="303" x2="92" y2="296" stroke="#98a2ae" stroke-width="1.6"/>
<line x1="66" y1="305.9" x2="112" y2="298.9" stroke="#36424e" stroke-width="1.9"/>
<line x1="66" y1="305" x2="112" y2="298" stroke="#a8b0ba" stroke-width="1.6"/>
<line x1="60" y1="293.9" x2="84" y2="288.9" stroke="#36424e" stroke-width="1.9"/>
<line x1="60" y1="293" x2="84" y2="288" stroke="#8a96a4" stroke-width="1.6"/>
<line x1="80" y1="293.9" x2="122" y2="288.9" stroke="#36424e" stroke-width="1.9"/>
<line x1="80" y1="293" x2="122" y2="288" stroke="#b0b8c2" stroke-width="1.6"/>
<line x1="86" y1="299.9" x2="124" y2="292.9" stroke="#36424e" stroke-width="1.9"/>
<line x1="86" y1="299" x2="124" y2="292" stroke="#98a2ae" stroke-width="1.6"/>
<line x1="95" y1="289.9" x2="120" y2="284.9" stroke="#36424e" stroke-width="1.9"/>
<line x1="95" y1="289" x2="120" y2="284" stroke="#a8b0ba" stroke-width="1.6"/>
</g>
<path d="M21.8 282.6 C23.2 283.1 27.2 284.7 30.0 285.4 C32.8 286.1 35.1 286.4 38.4 286.6 C41.7 286.8 46.1 286.9 50.0 286.6 C53.9 286.3 58.0 285.5 62.0 284.7 C66.0 283.9 70.0 282.7 74.0 281.6 C78.0 280.5 82.2 279.3 85.7 278.3 C89.2 277.3 91.8 276.3 95.0 275.6 C98.2 274.9 101.6 274.4 104.6 274.3 C107.6 274.2 110.3 274.4 113.0 274.8 C115.7 275.2 118.5 276.0 121.0 277.0 C123.5 278.0 125.8 279.2 128.0 280.6 C130.2 282.0 133.0 284.6 134.0 285.4 L126.7 297.4 L126.7 297.4 C124.9 297.6 119.7 297.9 116.0 298.4 C112.3 298.9 108.4 299.8 104.6 300.6 C100.8 301.4 96.9 302.4 93.0 303.4 C89.1 304.4 85.0 305.4 81.0 306.4 C77.0 307.4 73.0 308.4 69.0 309.2 C65.0 310.0 61.3 310.8 57.3 311.2 C53.3 311.6 49.0 311.8 45.0 311.8 C41.0 311.8 37.1 311.6 33.6 311.2 C30.1 310.8 27.2 310.3 24.0 309.6 C20.8 308.9 16.1 307.4 14.5 307.0 Z" fill="#a9c6e8" fill-opacity="0.12"/>
<path d="M14.5 307.0 C16.1 307.4 20.8 308.9 24.0 309.6 C27.2 310.3 30.1 310.8 33.6 311.2 C37.1 311.6 41.0 311.8 45.0 311.8 C49.0 311.8 53.3 311.6 57.3 311.2 C61.3 310.8 65.0 310.0 69.0 309.2 C73.0 308.4 77.0 307.4 81.0 306.4 C85.0 305.4 89.1 304.4 93.0 303.4 C96.9 302.4 100.8 301.4 104.6 300.6 C108.4 299.8 112.3 298.9 116.0 298.4 C119.7 297.9 124.9 297.6 126.7 297.4 L126.7 318.6 C125.0 318.4 120.2 317.6 116.4 317.4 C112.6 317.2 108.0 317.2 104.0 317.4 C100.0 317.6 96.5 318.1 92.7 318.8 C88.9 319.5 85.0 320.6 81.0 321.4 C77.0 322.2 73.0 323.2 69.0 323.8 C65.0 324.4 60.9 324.7 57.0 325.0 C53.1 325.3 48.9 325.4 45.5 325.4 C42.1 325.4 39.8 325.3 36.4 325.0 C33.0 324.7 28.6 324.2 25.0 323.6 C21.4 323.0 16.2 321.9 14.5 321.5 Z" fill="url(#fBlue)" />
<path d="M14.5 321.5 C16.2 321.9 21.4 323.0 25.0 323.6 C28.6 324.2 33.0 324.7 36.4 325.0 C39.8 325.3 42.1 325.4 45.5 325.4 C48.9 325.4 53.1 325.3 57.0 325.0 C60.9 324.7 65.0 324.4 69.0 323.8 C73.0 323.2 77.0 322.2 81.0 321.4 C85.0 320.6 88.9 319.5 92.7 318.8 C96.5 318.1 100.0 317.6 104.0 317.4 C108.0 317.2 112.6 317.2 116.4 317.4 C120.2 317.6 125.0 318.4 126.7 318.6 L126.7 331.2 C125.0 331.1 120.2 330.5 116.4 330.5 C112.6 330.5 108.0 330.6 104.0 331.0 C100.0 331.4 96.5 332.0 92.7 332.8 C88.9 333.6 85.0 334.7 81.0 335.6 C77.0 336.5 73.0 337.4 69.0 338.0 C65.0 338.6 60.9 339.1 57.0 339.4 C53.1 339.7 48.9 339.9 45.5 339.9 C42.1 339.9 39.8 339.7 36.4 339.3 C33.0 338.9 28.6 338.1 25.0 337.4 C21.4 336.6 16.2 335.2 14.5 334.8 Z" fill="#2f8a3c" />
<path d="M14.5 334.8 C16.2 335.2 21.4 336.6 25.0 337.4 C28.6 338.1 33.0 338.9 36.4 339.3 C39.8 339.7 42.1 339.9 45.5 339.9 C48.9 339.9 53.1 339.7 57.0 339.4 C60.9 339.1 65.0 338.6 69.0 338.0 C73.0 337.4 77.0 336.5 81.0 335.6 C85.0 334.7 88.9 333.6 92.7 332.8 C96.5 332.0 100.0 331.4 104.0 331.0 C108.0 330.6 112.6 330.5 116.4 330.5 C120.2 330.5 125.0 331.1 126.7 331.2 L126.7 341.3 C124.8 341.1 119.0 340.1 115.5 340.0 C112.0 339.9 109.0 340.5 106.0 341.0 C103.0 341.5 100.8 341.8 97.3 343.0 C93.8 344.2 89.5 346.5 85.0 348.0 C80.5 349.5 75.5 350.9 70.5 351.8 C65.5 352.7 59.9 353.2 55.0 353.6 C50.1 354.0 46.4 354.1 41.4 354.0 C36.4 353.9 29.5 353.4 25.0 352.8 C20.5 352.2 16.2 350.9 14.5 350.5 Z" fill="#efefef" />
<path d="M14.5 350.5 C16.2 350.9 20.5 352.2 25.0 352.8 C29.5 353.4 36.4 353.9 41.4 354.0 C46.4 354.1 50.1 354.0 55.0 353.6 C59.9 353.2 65.5 352.7 70.5 351.8 C75.5 350.9 80.5 349.5 85.0 348.0 C89.5 346.5 93.8 344.2 97.3 343.0 C100.8 341.8 103.0 341.5 106.0 341.0 C109.0 340.5 112.0 339.9 115.5 340.0 C119.0 340.1 124.8 341.1 126.7 341.3" fill="none" stroke="#cfcfcf" stroke-width="0.6"/>
<path id="ft1" d="M14.5 319.9 C16.2 320.2 21.4 321.4 25.0 322.0 C28.6 322.6 33.0 323.1 36.4 323.4 C39.8 323.7 42.1 323.8 45.5 323.8 C48.9 323.8 53.1 323.7 57.0 323.4 C60.9 323.1 65.0 322.8 69.0 322.2 C73.0 321.6 77.0 320.6 81.0 319.8 C85.0 319.0 88.9 317.9 92.7 317.2 C96.5 316.5 100.0 316.0 104.0 315.8 C108.0 315.6 112.6 315.6 116.4 315.8 C120.2 316.0 125.0 316.8 126.7 317.0" fill="none"/>
<text font-size="7.8" fill="#101820"><textPath href="#ft1" startOffset="0.3" textLength="90.5" lengthAdjust="spacingAndGlyphs">PEDOT:PSS:AgNW (HYE)</textPath></text>
<path id="ft2" d="M14.5 333.0 C16.2 333.4 21.4 334.8 25.0 335.6 C28.6 336.3 33.0 337.1 36.4 337.5 C39.8 337.9 42.1 338.1 45.5 338.1 C48.9 338.1 53.1 337.9 57.0 337.6 C60.9 337.3 65.0 336.8 69.0 336.2 C73.0 335.6 77.0 334.7 81.0 333.8 C85.0 332.9 88.9 331.8 92.7 331.0 C96.5 330.2 100.0 329.6 104.0 329.2 C108.0 328.8 112.6 328.7 116.4 328.7 C120.2 328.7 125.0 329.3 126.7 329.4" fill="none"/>
<text font-size="8.0" fill="#06180a"><textPath href="#ft2" startOffset="1.8" textLength="109" lengthAdjust="spacingAndGlyphs">PffBT4T-2OD:PC<tspan font-size="4.6" dy="1.3">61</tspan><tspan dy="-1.3">BM:PC</tspan><tspan font-size="4.6" dy="1.3">71</tspan><tspan dy="-1.3">BM</tspan></textPath></text>
<path id="ft3" d="M14.5 347.3 C16.2 347.7 20.5 349.0 25.0 349.6 C29.5 350.2 36.4 350.7 41.4 350.8 C46.4 350.9 50.1 350.8 55.0 350.4 C59.9 350.0 65.5 349.5 70.5 348.6 C75.5 347.7 80.5 346.3 85.0 344.8 C89.5 343.3 93.8 341.0 97.3 339.8 C100.8 338.6 103.0 338.3 106.0 337.8 C109.0 337.3 112.0 336.8 115.5 336.8 C119.0 336.9 124.8 337.9 126.7 338.1" fill="none"/>
<text font-size="7.6" fill="#161616"><textPath href="#ft3" startOffset="0.2" textLength="16.7" lengthAdjust="spacingAndGlyphs">ZnO</textPath></text>
<path id="ft4" d="M11.3 370.2 C14.1 370.5 22.3 371.5 28.0 371.9 C33.7 372.3 40.2 372.6 45.5 372.6 C50.8 372.6 55.5 372.4 60.0 372.0 C64.5 371.6 68.4 371.1 72.7 370.2 C77.0 369.3 81.5 367.7 86.0 366.6 C90.5 365.5 95.7 364.2 100.0 363.6 C104.3 363.0 108.3 362.4 112.0 362.8 C115.7 363.2 119.0 364.4 122.0 366.1 C125.0 367.8 128.7 371.9 130.0 373.1" fill="none"/>
<text font-size="8.0" fill="#101820"><textPath href="#ft4" startOffset="1.6" textLength="41.5" lengthAdjust="spacingAndGlyphs">PEDOT:PSS</textPath></text>
<path id="ft5" d="M11.3 381.2 C14.1 381.6 22.3 382.8 28.0 383.3 C33.7 383.8 40.2 384.1 45.5 384.1 C50.8 384.1 55.5 383.7 60.0 383.1 C64.5 382.5 68.4 381.6 72.7 380.4 C77.0 379.2 81.5 377.3 86.0 376.0 C90.5 374.7 95.7 373.3 100.0 372.8 C104.3 372.3 108.3 372.5 112.0 373.1 C115.7 373.7 119.0 375.1 122.0 376.6 C125.0 378.1 128.7 381.2 130.0 382.1" fill="none"/>
<text font-size="8.2" fill="#161616"><textPath href="#ft5" startOffset="1.4" textLength="84" lengthAdjust="spacingAndGlyphs">PET/Ag mesh (AgPET)</textPath></text>
</g>
<g id="pg">
<text x="148.0" y="273.8" font-size="5.2" fill="#383838" text-anchor="start" font-weight="normal" font-style="normal" >(a)</text>
<line x1="226.7" x2="226.7" y1="268.1" y2="389.6" stroke="#6e6e6e" stroke-width="1.4"/>
<line x1="174.4" x2="341.7" y1="323.0" y2="323.0" stroke="#6e6e6e" stroke-width="1.2"/>
<clipPath id="gclip"><rect x="174.4" y="268.1" width="167.29999999999998" height="121.5"/></clipPath>
<g clip-path="url(#gclip)">
<polyline points="169.6,323.0 170.7,323.0 171.9,323.0 173.1,323.0 174.2,323.0 175.4,323.0 176.6,323.0 177.8,323.0 178.9,323.0 180.1,323.0 181.3,323.0 182.4,323.0 183.6,323.0 184.8,323.0 185.9,323.0 187.1,323.0 188.3,323.0 189.5,323.0 190.6,323.0 191.8,323.0 193.0,323.0 194.1,323.0 195.3,323.0 196.5,323.0 197.7,323.0 198.8,323.0 200.0,323.0 201.2,323.0 202.3,323.0 203.5,323.0 204.7,323.0 205.9,323.0 207.0,323.0 208.2,323.0 209.4,323.0 210.5,323.0 211.7,323.0 212.9,323.0 214.0,323.0 215.2,323.0 216.4,323.0 217.6,323.0 218.7,323.0 219.9,323.0 221.1,323.0 222.2,323.0 223.4,323.0 224.6,323.0 225.8,323.0 226.9,323.0 228.1,323.0 229.3,323.0 230.4,323.0 231.6,323.0 232.8,323.0 234.0,323.0 235.1,323.0 236.3,323.0 237.5,323.0 238.6,323.0 239.8,323.0 241.0,323.0 242.1,323.0 243.3,323.0 244.5,323.0 245.7,323.0 246.8,323.0 248.0,323.0 249.2,323.0 250.3,323.0 251.5,323.0 252.7,323.0 253.9,323.0 255.0,323.0 256.2,323.0 257.4,323.0 258.5,323.0 259.7,323.0 260.9,323.0 262.1,323.0 263.2,323.0 264.4,323.0 265.6,323.0 266.7,323.0 267.9,323.0 269.1,323.0 270.2,323.0 271.4,323.0 272.6,323.0 273.8,323.0 274.9,323.0 276.1,323.0 277.3,323.0 278.4,323.0 279.6,323.0 280.8,323.0 282.0,323.0 283.1,323.0 284.3,323.0 285.5,323.0 286.6,323.0 287.8,323.0 289.0,323.0 290.2,323.0 291.3,322.9 292.5,322.9 293.7,322.8 294.9,322.8 296.1,322.6 297.3,322.4 298.6,322.1 299.9,321.6 301.2,320.8 302.7,319.5 304.4,317.5 306.3,314.5 308.7,309.7 311.7,302.2 315.8,290.5 321.5,272.2" fill="none" stroke="#aaaaaa" stroke-width="0.6" />
<polyline points="169.6,323.0 170.7,323.0 171.9,323.0 173.1,323.0 174.2,323.0 175.4,323.0 176.6,323.0 177.8,323.0 178.9,323.0 180.1,323.0 181.3,323.0 182.4,323.0 183.6,323.0 184.8,323.0 185.9,323.0 187.1,323.0 188.3,323.0 189.5,323.0 190.6,323.0 191.8,323.0 193.0,323.0 194.1,323.0 195.3,323.0 196.5,323.0 197.7,323.0 198.8,323.0 200.0,323.0 201.2,323.0 202.3,323.0 203.5,323.0 204.7,323.0 205.9,323.0 207.0,323.0 208.2,323.0 209.4,323.0 210.5,323.0 211.7,323.0 212.9,323.0 214.0,323.0 215.2,323.0 216.4,323.0 217.6,323.0 218.7,323.0 219.9,323.0 221.1,323.0 222.2,323.0 223.4,323.0 224.6,323.0 225.8,323.0 226.9,323.0 228.1,323.0 229.3,323.0 230.4,323.0 231.6,323.0 232.8,323.0 234.0,323.0 235.1,323.0 236.3,323.0 237.5,323.0 238.6,323.0 239.8,323.0 241.0,323.0 242.1,323.0 243.3,323.0 244.5,323.0 245.7,323.0 246.8,323.0 248.0,323.0 249.2,323.0 250.3,323.0 251.5,323.0 252.7,323.0 253.9,323.0 255.0,323.0 256.2,323.0 257.4,323.0 258.5,323.0 259.7,323.0 260.9,323.0 262.1,323.0 263.2,323.0 264.4,323.0 265.6,323.0 266.7,323.0 267.9,323.0 269.1,323.0 270.2,323.0 271.4,323.0 272.6,323.0 273.8,323.0 274.9,323.0 276.1,323.0 277.3,323.0 278.4,323.0 279.6,323.0 280.8,323.0 282.0,323.0 283.1,323.0 284.3,323.0 285.5,323.0 286.6,323.0 287.8,323.0 289.0,323.0 290.2,323.0 291.3,322.9 292.5,322.9 293.7,322.9 294.9,322.8 296.1,322.7 297.3,322.5 298.6,322.2 299.9,321.8 301.3,321.2 302.8,320.1 304.6,318.5 306.6,316.0 309.1,312.1 312.4,306.0 316.8,296.4 323.1,281.4 332.2,258.1" fill="none" stroke="#888888" stroke-width="0.6" />
<polyline points="169.6,323.0 170.7,323.0 171.9,323.0 173.1,323.0 174.2,323.0 175.4,323.0 176.6,323.0 177.8,323.0 178.9,323.0 180.1,323.0 181.3,323.0 182.4,323.0 183.6,323.0 184.8,323.0 185.9,323.0 187.1,323.0 188.3,323.0 189.5,323.0 190.6,323.0 191.8,323.0 193.0,323.0 194.1,323.0 195.3,323.0 196.5,323.0 197.7,323.0 198.8,323.0 200.0,323.0 201.2,323.0 202.3,323.0 203.5,323.0 204.7,323.0 205.9,323.0 207.0,323.0 208.2,323.0 209.4,323.0 210.5,323.0 211.7,323.0 212.9,323.0 214.0,323.0 215.2,323.0 216.4,323.0 217.6,323.0 218.7,323.0 219.9,323.0 221.1,323.0 222.2,323.0 223.4,323.0 224.6,323.0 225.8,323.0 226.9,323.0 228.1,323.0 229.3,323.0 230.4,323.0 231.6,323.0 232.8,323.0 234.0,323.0 235.1,323.0 236.3,323.0 237.5,323.0 238.6,323.0 239.8,323.0 241.0,323.0 242.1,323.0 243.3,323.0 244.5,323.0 245.7,323.0 246.8,323.0 248.0,323.0 249.2,323.0 250.3,323.0 251.5,323.0 252.7,323.0 253.9,323.0 255.0,323.0 256.2,323.0 257.4,323.0 258.5,323.0 259.7,323.0 260.9,323.0 262.1,323.0 263.2,323.0 264.4,323.0 265.6,323.0 266.7,323.0 267.9,323.0 269.1,323.0 270.2,323.0 271.4,323.0 272.6,323.0 273.8,323.0 274.9,323.0 276.1,323.0 277.3,323.0 278.4,323.0 279.6,323.0 280.8,323.0 282.0,323.0 283.1,323.0 284.3,323.0 285.5,323.0 286.6,323.0 287.8,323.0 289.0,323.0 290.2,323.0 291.3,322.9 292.5,322.9 293.7,322.8 294.9,322.7 296.1,322.5 297.4,322.3 298.7,321.9 300.0,321.3 301.5,320.3 303.1,318.7 304.9,316.3 307.1,312.6 309.9,306.7 313.6,297.6 318.8,283.3 326.2,261.0" fill="none" stroke="#555555" stroke-width="0.6" />
<polyline points="169.6,323.0 170.7,323.0 171.9,323.0 173.1,323.0 174.2,323.0 175.4,323.0 176.6,323.0 177.8,323.0 178.9,323.0 180.1,323.0 181.3,323.0 182.4,323.0 183.6,323.0 184.8,323.0 185.9,323.0 187.1,323.0 188.3,323.0 189.5,323.0 190.6,323.0 191.8,323.0 193.0,323.0 194.1,323.0 195.3,323.0 196.5,323.0 197.7,323.0 198.8,323.0 200.0,323.0 201.2,323.0 202.3,323.0 203.5,323.0 204.7,323.0 205.9,323.0 207.0,323.0 208.2,323.0 209.4,323.0 210.5,323.0 211.7,323.0 212.9,323.0 214.0,323.0 215.2,323.0 216.4,323.0 217.6,323.0 218.7,323.0 219.9,323.0 221.1,323.0 222.2,323.0 223.4,323.0 224.6,323.0 225.8,323.0 226.9,323.0 228.1,323.0 229.3,323.0 230.4,323.0 231.6,323.0 232.8,323.0 234.0,323.0 235.1,323.0 236.3,323.0 237.5,323.0 238.6,323.0 239.8,323.0 241.0,323.0 242.1,323.0 243.3,323.0 244.5,323.0 245.7,323.0 246.8,323.0 248.0,323.0 249.2,323.0 250.3,323.0 251.5,323.0 252.7,323.0 253.9,323.0 255.0,323.0 256.2,323.0 257.4,323.0 258.5,323.0 259.7,323.0 260.9,323.0 262.1,323.0 263.2,323.0 264.4,323.0 265.6,323.0 266.7,323.0 267.9,323.0 269.1,323.0 270.2,323.0 271.4,323.0 272.6,323.0 273.8,323.0 274.9,323.0 276.1,323.0 277.3,323.0 278.4,323.0 279.6,323.0 280.8,323.0 282.0,323.0 283.1,323.0 284.3,323.0 285.5,323.0 286.6,323.0 287.8,323.0 289.0,323.0 290.2,323.0 291.3,322.9 292.5,322.9 293.7,322.8 294.9,322.7 296.1,322.4 297.3,322.1 298.5,321.5 299.8,320.5 301.2,318.8 302.7,316.1 304.5,311.5 306.6,303.9 309.3,291.2 313.1,270.3" fill="none" stroke="#1a9a94" stroke-width="0.6"  stroke-dasharray="2.5 1.2"/>
<polyline points="169.6,323.0 170.7,323.0 171.9,323.0 173.1,323.0 174.2,323.0 175.4,323.0 176.6,323.0 177.8,323.0 178.9,323.0 180.1,323.0 181.3,323.0 182.4,323.0 183.6,323.0 184.8,323.0 185.9,323.0 187.1,323.0 188.3,323.0 189.5,323.0 190.6,323.0 191.8,323.0 193.0,323.0 194.1,323.0 195.3,323.0 196.5,323.0 197.7,323.0 198.8,323.0 200.0,323.0 201.2,323.0 202.3,323.0 203.5,323.0 204.7,323.0 205.9,323.0 207.0,323.0 208.2,323.0 209.4,323.0 210.5,323.0 211.7,323.0 212.9,323.0 214.0,323.0 215.2,323.0 216.4,323.0 217.6,323.0 218.7,323.0 219.9,323.0 221.1,323.0 222.2,323.0 223.4,323.0 224.6,323.0 225.8,323.0 226.9,323.0 228.1,323.0 229.3,323.0 230.4,323.0 231.6,323.0 232.8,323.0 234.0,323.0 235.1,323.0 236.3,323.0 237.5,323.0 238.6,323.0 239.8,323.0 241.0,323.0 242.1,323.0 243.3,323.0 244.5,323.0 245.7,323.0 246.8,323.0 248.0,323.0 249.2,323.0 250.3,323.0 251.5,323.0 252.7,323.0 253.9,323.0 255.0,323.0 256.2,323.0 257.4,323.0 258.5,323.0 259.7,323.0 260.9,323.0 262.1,323.0 263.2,323.0 264.4,323.0 265.6,323.0 266.7,323.0 267.9,323.0 269.1,323.0 270.2,323.0 271.4,323.0 272.6,323.0 273.8,323.0 274.9,323.0 276.1,323.0 277.3,323.0 278.4,323.0 279.6,323.0 280.8,323.0 282.0,323.0 283.1,323.0 284.3,323.0 285.5,323.0 286.6,323.0 287.8,323.0 289.0,322.9 290.2,322.9 291.3,322.9 292.5,322.8 293.7,322.6 294.9,322.3 296.1,321.9 297.3,321.2 298.6,320.0 300.0,318.0 301.5,314.7 303.1,309.3 305.2,300.2 307.7,285.2 311.2,260.2" fill="none" stroke="#1a9a94" stroke-width="0.6"  stroke-dasharray="2.5 1.2"/>
<polyline points="169.6,323.0 170.7,323.0 171.9,323.0 173.1,323.0 174.2,323.0 175.4,323.0 176.6,323.0 177.8,323.0 178.9,323.0 180.1,323.0 181.3,323.0 182.4,323.0 183.6,323.0 184.8,323.0 185.9,323.0 187.1,323.0 188.3,323.0 189.5,323.0 190.6,323.0 191.8,323.0 193.0,323.0 194.1,323.0 195.3,323.0 196.5,323.0 197.7,323.0 198.8,323.0 200.0,323.0 201.2,323.0 202.3,323.0 203.5,323.0 204.7,323.0 205.9,323.0 207.0,323.0 208.2,323.0 209.4,323.0 210.5,323.0 211.7,323.0 212.9,323.0 214.0,323.0 215.2,323.0 216.4,323.0 217.6,323.0 218.7,323.0 219.9,323.0 221.1,323.0 222.2,323.0 223.4,323.0 224.6,323.0 225.8,323.0 226.9,323.0 228.1,323.0 229.3,323.0 230.4,323.0 231.6,323.0 232.8,323.0 234.0,323.0 235.1,323.0 236.3,323.0 237.5,323.0 238.6,323.0 239.8,323.0 241.0,323.0 242.1,323.0 243.3,323.0 244.5,323.0 245.7,323.0 246.8,323.0 248.0,323.0 249.2,323.0 250.3,323.0 251.5,323.0 252.7,323.0 253.9,323.0 255.0,323.0 256.2,323.0 257.4,323.0 258.5,323.0 259.7,323.0 260.9,323.0 262.1,323.0 263.2,323.0 264.4,323.0 265.6,323.0 266.7,323.0 267.9,323.0 269.1,323.0 270.2,323.0 271.4,323.0 272.6,323.0 273.8,323.0 274.9,323.0 276.1,323.0 277.3,323.0 278.4,323.0 279.6,323.0 280.8,323.0 282.0,323.0 283.1,323.0 284.3,323.0 285.5,323.0 286.6,323.0 287.8,323.0 289.0,323.0 290.2,323.0 291.3,323.0 292.5,322.9 293.7,322.9 294.9,322.9 296.1,322.8 297.3,322.6 298.6,322.5 299.9,322.2 301.2,321.7 302.7,321.0 304.2,320.0 306.1,318.4 308.2,315.9 310.9,312.1 314.5,306.3 319.3,297.3 326.0,283.6 335.7,262.4" fill="none" stroke="#111111" stroke-width="0.6" />
<circle cx="176.3" cy="323.0" r="1.7" fill="#1a9a94"/>
<circle cx="181.5" cy="323.0" r="1.7" fill="#8a8a8a"/>
<circle cx="186.8" cy="323.0" r="1.7" fill="#1a9a94"/>
<circle cx="192.0" cy="323.0" r="1.7" fill="#8a8a8a"/>
<circle cx="197.3" cy="323.0" r="1.7" fill="#1a9a94"/>
<circle cx="202.5" cy="323.0" r="1.7" fill="#8a8a8a"/>
<circle cx="207.8" cy="323.0" r="1.7" fill="#1a9a94"/>
<circle cx="213.0" cy="323.0" r="1.7" fill="#8a8a8a"/>
<circle cx="218.3" cy="323.0" r="1.7" fill="#1a9a94"/>
<circle cx="223.5" cy="323.0" r="1.7" fill="#8a8a8a"/>
<circle cx="228.8" cy="323.0" r="1.7" fill="#1a9a94"/>
<circle cx="234.0" cy="323.0" r="1.7" fill="#8a8a8a"/>
<circle cx="239.3" cy="323.0" r="1.7" fill="#1a9a94"/>
<circle cx="244.5" cy="323.0" r="1.7" fill="#8a8a8a"/>
<circle cx="249.8" cy="323.0" r="1.7" fill="#1a9a94"/>
<circle cx="255.0" cy="323.0" r="1.7" fill="#8a8a8a"/>
<circle cx="260.3" cy="323.0" r="1.7" fill="#1a9a94"/>
<circle cx="265.5" cy="323.0" r="1.7" fill="#8a8a8a"/>
<circle cx="270.8" cy="323.0" r="1.7" fill="#1a9a94"/>
<circle cx="276.0" cy="323.0" r="1.7" fill="#8a8a8a"/>
<circle cx="281.3" cy="323.0" r="1.7" fill="#1a9a94"/>
<circle cx="286.5" cy="323.0" r="1.7" fill="#8a8a8a"/>
<polyline points="169.5,383.7 170.6,383.7 171.6,383.7 172.7,383.7 173.8,383.7 174.8,383.7 175.9,383.6 176.9,383.6 178.0,383.6 179.0,383.6 180.1,383.6 181.2,383.6 182.2,383.6 183.3,383.6 184.3,383.5 185.4,383.5 186.5,383.5 187.5,383.5 188.6,383.5 189.6,383.5 190.7,383.5 191.8,383.4 192.8,383.4 193.9,383.4 194.9,383.4 196.0,383.4 197.1,383.4 198.1,383.4 199.2,383.3 200.2,383.3 201.3,383.3 202.4,383.3 203.4,383.3 204.5,383.3 205.5,383.3 206.6,383.3 207.7,383.2 208.7,383.2 209.8,383.2 210.8,383.2 211.9,383.2 213.0,383.2 214.0,383.2 215.1,383.1 216.1,383.1 217.2,383.1 218.3,383.1 219.3,383.1 220.4,383.1 221.4,383.1 222.5,383.1 223.6,383.0 224.6,383.0 225.7,383.0 226.7,383.0 227.8,383.0 228.8,383.0 229.9,383.0 231.0,382.9 232.0,382.9 233.1,382.9 234.1,382.9 235.2,382.9 236.3,382.9 237.3,382.9 238.4,382.8 239.4,382.8 240.5,382.8 241.6,382.8 242.6,382.8 243.7,382.8 244.7,382.8 245.8,382.7 246.9,382.7 247.9,382.7 249.0,382.7 250.0,382.7 251.1,382.7 252.2,382.7 253.2,382.6 254.3,382.6 255.3,382.6 256.4,382.6 257.5,382.6 258.5,382.5 259.6,382.5 260.7,382.5 261.7,382.4 262.8,382.4 263.9,382.3 264.9,382.3 266.0,382.2 267.1,382.2 268.1,382.1 269.2,382.0 270.3,381.9 271.4,381.7 272.5,381.6 273.6,381.4 274.7,381.1 275.8,380.8 276.9,380.4 278.1,380.0 279.3,379.5 280.5,378.8 281.7,378.0 283.0,377.1 284.3,375.9 285.6,374.4 287.1,372.7 288.6,370.6 290.2,367.9 292.0,364.7 293.9,360.8 296.0,356.0 298.3,350.2 300.9,343.1 303.9,334.3 307.3,323.7 311.1,310.6 315.7,294.7 321.0,275.2 327.2,251.3" fill="none" stroke="#aaaaaa" stroke-width="0.7" />
<polygon points="175.9,384.8 178.8,384.8 177.3,382.2" fill="#fff" stroke="#aaaaaa" stroke-width="0.5"/>
<polygon points="186.4,384.7 189.3,384.7 187.8,382.0" fill="#fff" stroke="#aaaaaa" stroke-width="0.5"/>
<polygon points="196.9,384.5 199.8,384.5 198.3,381.9" fill="#fff" stroke="#aaaaaa" stroke-width="0.5"/>
<polygon points="207.4,384.4 210.3,384.4 208.8,381.8" fill="#fff" stroke="#aaaaaa" stroke-width="0.5"/>
<polygon points="217.9,384.3 220.8,384.3 219.3,381.6" fill="#fff" stroke="#aaaaaa" stroke-width="0.5"/>
<polygon points="228.4,384.1 231.3,384.1 229.8,381.5" fill="#fff" stroke="#aaaaaa" stroke-width="0.5"/>
<polygon points="238.9,384.0 241.8,384.0 240.3,381.4" fill="#fff" stroke="#aaaaaa" stroke-width="0.5"/>
<polygon points="249.4,383.8 252.3,383.8 250.8,381.2" fill="#fff" stroke="#aaaaaa" stroke-width="0.5"/>
<polygon points="259.9,383.6 262.8,383.6 261.3,381.0" fill="#fff" stroke="#aaaaaa" stroke-width="0.5"/>
<polygon points="270.4,382.8 273.3,382.8 271.8,380.2" fill="#fff" stroke="#aaaaaa" stroke-width="0.5"/>
<polygon points="280.9,378.7 283.8,378.7 282.3,376.1" fill="#fff" stroke="#aaaaaa" stroke-width="0.5"/>
<polygon points="291.4,364.1 294.3,364.1 292.8,361.5" fill="#fff" stroke="#aaaaaa" stroke-width="0.5"/>
<polygon points="301.9,337.1 304.8,337.1 303.3,334.4" fill="#fff" stroke="#aaaaaa" stroke-width="0.5"/>
<polygon points="312.4,302.3 315.3,302.3 313.8,299.6" fill="#fff" stroke="#aaaaaa" stroke-width="0.5"/>
<polyline points="169.9,374.4 171.0,374.3 172.1,374.3 173.1,374.3 174.2,374.3 175.2,374.3 176.3,374.3 177.4,374.2 178.4,374.2 179.5,374.2 180.6,374.2 181.6,374.2 182.7,374.2 183.7,374.1 184.8,374.1 185.9,374.1 186.9,374.1 188.0,374.1 189.0,374.1 190.1,374.0 191.2,374.0 192.2,374.0 193.3,374.0 194.4,374.0 195.4,373.9 196.5,373.9 197.5,373.9 198.6,373.9 199.7,373.9 200.7,373.9 201.8,373.8 202.9,373.8 203.9,373.8 205.0,373.8 206.0,373.8 207.1,373.8 208.2,373.7 209.2,373.7 210.3,373.7 211.3,373.7 212.4,373.7 213.5,373.7 214.5,373.6 215.6,373.6 216.7,373.6 217.7,373.6 218.8,373.6 219.8,373.6 220.9,373.5 222.0,373.5 223.0,373.5 224.1,373.5 225.2,373.5 226.2,373.5 227.3,373.4 228.3,373.4 229.4,373.4 230.5,373.4 231.5,373.4 232.6,373.4 233.6,373.3 234.7,373.3 235.8,373.3 236.8,373.3 237.9,373.3 239.0,373.2 240.0,373.2 241.1,373.2 242.1,373.2 243.2,373.2 244.3,373.2 245.3,373.1 246.4,373.1 247.5,373.1 248.5,373.1 249.6,373.1 250.6,373.0 251.7,373.0 252.8,373.0 253.8,373.0 254.9,373.0 256.0,372.9 257.0,372.9 258.1,372.9 259.2,372.8 260.2,372.8 261.3,372.8 262.4,372.7 263.4,372.6 264.5,372.6 265.6,372.5 266.7,372.4 267.8,372.3 268.9,372.2 270.0,372.0 271.1,371.9 272.2,371.6 273.3,371.4 274.5,371.1 275.7,370.7 276.9,370.2 278.1,369.7 279.4,369.0 280.7,368.2 282.0,367.2 283.5,366.0 285.0,364.5 286.6,362.7 288.4,360.5 290.3,357.8 292.3,354.5 294.6,350.4 297.2,345.5 300.2,339.5 303.5,332.1 307.4,323.1 311.8,312.1 317.1,298.7 323.2,282.3 330.5,262.2" fill="none" stroke="#888888" stroke-width="0.7" />
<polygon points="179.1,375.3 181.9,375.3 180.5,372.7" fill="#888888"/>
<polygon points="189.6,375.2 192.4,375.2 191.0,372.6" fill="#888888"/>
<polygon points="200.1,375.0 202.9,375.0 201.5,372.4" fill="#888888"/>
<polygon points="210.6,374.8 213.4,374.8 212.0,372.2" fill="#888888"/>
<polygon points="221.1,374.7 223.9,374.7 222.5,372.1" fill="#888888"/>
<polygon points="231.6,374.5 234.4,374.5 233.0,371.9" fill="#888888"/>
<polygon points="242.1,374.3 244.9,374.3 243.5,371.7" fill="#888888"/>
<polygon points="252.6,374.1 255.4,374.1 254.0,371.5" fill="#888888"/>
<polygon points="263.1,373.7 265.9,373.7 264.5,371.1" fill="#888888"/>
<polygon points="273.6,372.1 276.4,372.1 275.0,369.5" fill="#888888"/>
<polygon points="284.1,365.1 287.0,365.1 285.5,362.5" fill="#888888"/>
<polygon points="294.6,349.0 297.4,349.0 296.0,346.4" fill="#888888"/>
<polygon points="305.1,326.3 308.0,326.3 306.5,323.7" fill="#888888"/>
<polygon points="315.6,300.0 318.5,300.0 317.0,297.4" fill="#888888"/>
<polygon points="326.1,271.6 328.9,271.6 327.5,269.0" fill="#888888"/>
<polyline points="169.5,376.1 170.6,376.1 171.6,376.1 172.7,376.0 173.8,376.0 174.8,376.0 175.9,376.0 176.9,376.0 178.0,376.0 179.1,375.9 180.1,375.9 181.2,375.9 182.3,375.9 183.3,375.9 184.4,375.9 185.4,375.8 186.5,375.8 187.6,375.8 188.6,375.8 189.7,375.8 190.7,375.8 191.8,375.7 192.9,375.7 193.9,375.7 195.0,375.7 196.0,375.7 197.1,375.7 198.2,375.6 199.2,375.6 200.3,375.6 201.3,375.6 202.4,375.6 203.5,375.6 204.5,375.5 205.6,375.5 206.7,375.5 207.7,375.5 208.8,375.5 209.8,375.5 210.9,375.4 212.0,375.4 213.0,375.4 214.1,375.4 215.1,375.4 216.2,375.3 217.3,375.3 218.3,375.3 219.4,375.3 220.4,375.3 221.5,375.3 222.6,375.2 223.6,375.2 224.7,375.2 225.7,375.2 226.8,375.2 227.9,375.2 228.9,375.1 230.0,375.1 231.1,375.1 232.1,375.1 233.2,375.1 234.2,375.1 235.3,375.0 236.4,375.0 237.4,375.0 238.5,375.0 239.5,375.0 240.6,375.0 241.7,374.9 242.7,374.9 243.8,374.9 244.8,374.9 245.9,374.9 247.0,374.8 248.0,374.8 249.1,374.8 250.1,374.8 251.2,374.8 252.3,374.8 253.3,374.7 254.4,374.7 255.5,374.7 256.5,374.7 257.6,374.6 258.6,374.6 259.7,374.6 260.8,374.5 261.8,374.5 262.9,374.5 264.0,374.4 265.1,374.3 266.1,374.3 267.2,374.2 268.3,374.1 269.4,374.0 270.5,373.9 271.5,373.7 272.6,373.5 273.8,373.3 274.9,373.1 276.0,372.7 277.2,372.3 278.3,371.9 279.5,371.3 280.8,370.6 282.0,369.8 283.4,368.7 284.7,367.5 286.2,366.0 287.7,364.1 289.3,361.8 291.1,359.0 293.0,355.6 295.0,351.5 297.4,346.4 300.0,340.2 302.9,332.6 306.3,323.3 310.2,311.9 314.7,298.1 319.9,281.1 326.1,260.3" fill="none" stroke="#555555" stroke-width="0.7" />
<circle cx="174.2" cy="376.0" r="1.45" fill="#fff" stroke="#555555" stroke-width="0.5"/>
<circle cx="184.7" cy="375.9" r="1.45" fill="#fff" stroke="#555555" stroke-width="0.5"/>
<circle cx="195.2" cy="375.7" r="1.45" fill="#fff" stroke="#555555" stroke-width="0.5"/>
<circle cx="205.7" cy="375.5" r="1.45" fill="#fff" stroke="#555555" stroke-width="0.5"/>
<circle cx="216.2" cy="375.3" r="1.45" fill="#fff" stroke="#555555" stroke-width="0.5"/>
<circle cx="226.7" cy="375.2" r="1.45" fill="#fff" stroke="#555555" stroke-width="0.5"/>
<circle cx="237.2" cy="375.0" r="1.45" fill="#fff" stroke="#555555" stroke-width="0.5"/>
<circle cx="247.7" cy="374.8" r="1.45" fill="#fff" stroke="#555555" stroke-width="0.5"/>
<circle cx="258.2" cy="374.6" r="1.45" fill="#fff" stroke="#555555" stroke-width="0.5"/>
<circle cx="268.7" cy="374.1" r="1.45" fill="#fff" stroke="#555555" stroke-width="0.5"/>
<circle cx="279.2" cy="371.5" r="1.45" fill="#fff" stroke="#555555" stroke-width="0.5"/>
<circle cx="289.7" cy="361.2" r="1.45" fill="#fff" stroke="#555555" stroke-width="0.5"/>
<circle cx="300.2" cy="339.5" r="1.45" fill="#fff" stroke="#555555" stroke-width="0.5"/>
<circle cx="310.7" cy="310.2" r="1.45" fill="#fff" stroke="#555555" stroke-width="0.5"/>
<circle cx="321.2" cy="276.8" r="1.45" fill="#fff" stroke="#555555" stroke-width="0.5"/>
<polyline points="169.6,377.7 170.6,377.7 171.7,377.7 172.8,377.7 173.8,377.7 174.9,377.7 175.9,377.6 177.0,377.6 178.0,377.6 179.1,377.6 180.2,377.6 181.2,377.6 182.3,377.6 183.3,377.6 184.4,377.5 185.5,377.5 186.5,377.5 187.6,377.5 188.6,377.5 189.7,377.5 190.7,377.5 191.8,377.4 192.9,377.4 193.9,377.4 195.0,377.4 196.0,377.4 197.1,377.4 198.2,377.4 199.2,377.3 200.3,377.3 201.3,377.3 202.4,377.3 203.4,377.3 204.5,377.3 205.6,377.3 206.6,377.3 207.7,377.2 208.7,377.2 209.8,377.2 210.9,377.2 211.9,377.2 213.0,377.2 214.0,377.2 215.1,377.1 216.1,377.1 217.2,377.1 218.3,377.1 219.3,377.1 220.4,377.1 221.4,377.1 222.5,377.0 223.6,377.0 224.6,377.0 225.7,377.0 226.7,377.0 227.8,377.0 228.8,377.0 229.9,377.0 231.0,376.9 232.0,376.9 233.1,376.9 234.1,376.9 235.2,376.9 236.3,376.9 237.3,376.9 238.4,376.8 239.4,376.8 240.5,376.8 241.5,376.8 242.6,376.8 243.7,376.8 244.7,376.8 245.8,376.7 246.8,376.7 247.9,376.7 249.0,376.7 250.0,376.7 251.1,376.7 252.1,376.7 253.2,376.7 254.2,376.6 255.3,376.6 256.4,376.6 257.4,376.6 258.5,376.6 259.5,376.6 260.6,376.5 261.7,376.5 262.7,376.5 263.8,376.5 264.8,376.5 265.9,376.4 266.9,376.4 268.0,376.4 269.1,376.4 270.1,376.3 271.2,376.3 272.3,376.3 273.3,376.2 274.4,376.1 275.4,376.1 276.5,376.0 277.6,375.9 278.7,375.7 279.7,375.6 280.8,375.4 281.9,375.1 283.0,374.8 284.1,374.4 285.2,374.0 286.3,373.4 287.5,372.6 288.7,371.7 289.9,370.6 291.1,369.2 292.4,367.4 293.7,365.2 295.1,362.5 296.6,359.0 298.2,354.7 299.9,349.4 301.8,342.6 303.9,334.3 306.2,323.8 308.9,310.6 312.0,294.2 315.6,273.7" fill="none" stroke="#1a9a94" stroke-width="1.0" />
<circle cx="179.4" cy="377.6" r="1.45" fill="#fff" stroke="#1a9a94" stroke-width="0.5"/>
<circle cx="189.9" cy="377.5" r="1.45" fill="#fff" stroke="#1a9a94" stroke-width="0.5"/>
<circle cx="200.4" cy="377.3" r="1.45" fill="#fff" stroke="#1a9a94" stroke-width="0.5"/>
<circle cx="210.9" cy="377.2" r="1.45" fill="#fff" stroke="#1a9a94" stroke-width="0.5"/>
<circle cx="221.4" cy="377.1" r="1.45" fill="#fff" stroke="#1a9a94" stroke-width="0.5"/>
<circle cx="232.0" cy="376.9" r="1.45" fill="#fff" stroke="#1a9a94" stroke-width="0.5"/>
<circle cx="242.5" cy="376.8" r="1.45" fill="#fff" stroke="#1a9a94" stroke-width="0.5"/>
<circle cx="253.0" cy="376.7" r="1.45" fill="#fff" stroke="#1a9a94" stroke-width="0.5"/>
<circle cx="263.5" cy="376.5" r="1.45" fill="#fff" stroke="#1a9a94" stroke-width="0.5"/>
<circle cx="274.0" cy="376.2" r="1.45" fill="#fff" stroke="#1a9a94" stroke-width="0.5"/>
<circle cx="284.5" cy="374.3" r="1.45" fill="#fff" stroke="#1a9a94" stroke-width="0.5"/>
<circle cx="295.0" cy="362.8" r="1.45" fill="#fff" stroke="#1a9a94" stroke-width="0.5"/>
<circle cx="305.5" cy="327.3" r="1.45" fill="#fff" stroke="#1a9a94" stroke-width="0.5"/>
<polyline points="169.9,371.8 170.9,371.8 172.0,371.8 173.0,371.7 174.1,371.7 175.2,371.7 176.2,371.7 177.3,371.7 178.3,371.7 179.4,371.6 180.5,371.6 181.5,371.6 182.6,371.6 183.6,371.6 184.7,371.6 185.7,371.5 186.8,371.5 187.9,371.5 188.9,371.5 190.0,371.5 191.0,371.4 192.1,371.4 193.2,371.4 194.2,371.4 195.3,371.4 196.3,371.4 197.4,371.3 198.5,371.3 199.5,371.3 200.6,371.3 201.6,371.3 202.7,371.3 203.8,371.2 204.8,371.2 205.9,371.2 206.9,371.2 208.0,371.2 209.0,371.2 210.1,371.1 211.2,371.1 212.2,371.1 213.3,371.1 214.3,371.1 215.4,371.1 216.5,371.0 217.5,371.0 218.6,371.0 219.6,371.0 220.7,371.0 221.8,371.0 222.8,370.9 223.9,370.9 224.9,370.9 226.0,370.9 227.1,370.9 228.1,370.9 229.2,370.8 230.2,370.8 231.3,370.8 232.4,370.8 233.4,370.8 234.5,370.8 235.5,370.7 236.6,370.7 237.6,370.7 238.7,370.7 239.8,370.7 240.8,370.6 241.9,370.6 242.9,370.6 244.0,370.6 245.1,370.6 246.1,370.6 247.2,370.5 248.2,370.5 249.3,370.5 250.4,370.5 251.4,370.5 252.5,370.5 253.5,370.4 254.6,370.4 255.7,370.4 256.7,370.4 257.8,370.4 258.8,370.3 259.9,370.3 261.0,370.3 262.0,370.3 263.1,370.3 264.1,370.2 265.2,370.2 266.3,370.2 267.3,370.1 268.4,370.1 269.4,370.1 270.5,370.0 271.6,370.0 272.6,369.9 273.7,369.8 274.8,369.8 275.8,369.7 276.9,369.6 278.0,369.4 279.1,369.3 280.2,369.1 281.3,368.9 282.4,368.6 283.5,368.3 284.6,367.9 285.7,367.4 286.9,366.8 288.0,366.1 289.2,365.3 290.4,364.2 291.7,363.0 293.0,361.4 294.3,359.5 295.7,357.2 297.2,354.4 298.8,350.9 300.6,346.7 302.4,341.5 304.4,335.2 306.7,327.5 309.2,318.1 312.1,306.6 315.3,292.5 319.0,275.3 323.4,254.2" fill="none" stroke="#1a9a94" stroke-width="1.0" />
<circle cx="176.3" cy="371.7" r="1.45" fill="#1a9a94"/>
<circle cx="186.8" cy="371.5" r="1.45" fill="#1a9a94"/>
<circle cx="197.3" cy="371.3" r="1.45" fill="#1a9a94"/>
<circle cx="207.8" cy="371.2" r="1.45" fill="#1a9a94"/>
<circle cx="218.3" cy="371.0" r="1.45" fill="#1a9a94"/>
<circle cx="228.8" cy="370.8" r="1.45" fill="#1a9a94"/>
<circle cx="239.3" cy="370.7" r="1.45" fill="#1a9a94"/>
<circle cx="249.8" cy="370.5" r="1.45" fill="#1a9a94"/>
<circle cx="260.3" cy="370.3" r="1.45" fill="#1a9a94"/>
<circle cx="270.8" cy="370.0" r="1.45" fill="#1a9a94"/>
<circle cx="281.3" cy="368.9" r="1.45" fill="#1a9a94"/>
<circle cx="291.8" cy="362.8" r="1.45" fill="#1a9a94"/>
<circle cx="302.3" cy="341.8" r="1.45" fill="#1a9a94"/>
<circle cx="312.8" cy="303.4" r="1.45" fill="#1a9a94"/>
<polyline points="169.6,369.8 170.6,369.8 171.7,369.7 172.8,369.7 173.8,369.7 174.9,369.7 176.0,369.7 177.0,369.6 178.1,369.6 179.1,369.6 180.2,369.6 181.3,369.6 182.3,369.5 183.4,369.5 184.5,369.5 185.5,369.5 186.6,369.5 187.6,369.4 188.7,369.4 189.8,369.4 190.8,369.4 191.9,369.3 193.0,369.3 194.0,369.3 195.1,369.3 196.2,369.3 197.2,369.2 198.3,369.2 199.3,369.2 200.4,369.2 201.5,369.2 202.5,369.1 203.6,369.1 204.7,369.1 205.7,369.1 206.8,369.1 207.9,369.0 208.9,369.0 210.0,369.0 211.0,369.0 212.1,369.0 213.2,368.9 214.2,368.9 215.3,368.9 216.4,368.9 217.4,368.9 218.5,368.8 219.5,368.8 220.6,368.8 221.7,368.8 222.7,368.8 223.8,368.7 224.9,368.7 225.9,368.7 227.0,368.7 228.1,368.7 229.1,368.6 230.2,368.6 231.2,368.6 232.3,368.6 233.4,368.6 234.4,368.5 235.5,368.5 236.6,368.5 237.6,368.5 238.7,368.4 239.8,368.4 240.8,368.4 241.9,368.4 242.9,368.4 244.0,368.3 245.1,368.3 246.1,368.3 247.2,368.3 248.3,368.2 249.3,368.2 250.4,368.2 251.5,368.2 252.5,368.1 253.6,368.1 254.7,368.1 255.7,368.0 256.8,368.0 257.9,368.0 258.9,367.9 260.0,367.9 261.1,367.8 262.2,367.8 263.2,367.7 264.3,367.6 265.4,367.5 266.5,367.4 267.6,367.3 268.7,367.1 269.8,367.0 270.9,366.8 272.1,366.6 273.2,366.3 274.4,366.0 275.6,365.6 276.8,365.1 278.0,364.6 279.3,363.9 280.6,363.1 281.9,362.2 283.4,361.1 284.8,359.7 286.4,358.1 288.1,356.2 289.9,353.9 291.9,351.2 294.0,347.9 296.4,343.9 299.0,339.1 301.9,333.4 305.2,326.6 308.9,318.4 313.2,308.5 318.1,296.7 323.8,282.5 330.4,265.4" fill="none" stroke="#111111" stroke-width="0.7" />
<circle cx="182.6" cy="369.5" r="1.45" fill="#111111"/>
<circle cx="193.1" cy="369.3" r="1.45" fill="#111111"/>
<circle cx="203.6" cy="369.1" r="1.45" fill="#111111"/>
<circle cx="214.1" cy="368.9" r="1.45" fill="#111111"/>
<circle cx="224.6" cy="368.7" r="1.45" fill="#111111"/>
<circle cx="235.1" cy="368.5" r="1.45" fill="#111111"/>
<circle cx="245.6" cy="368.3" r="1.45" fill="#111111"/>
<circle cx="256.1" cy="368.0" r="1.45" fill="#111111"/>
<circle cx="266.6" cy="367.4" r="1.45" fill="#111111"/>
<circle cx="277.1" cy="365.0" r="1.45" fill="#111111"/>
<circle cx="287.6" cy="356.8" r="1.45" fill="#111111"/>
<circle cx="298.1" cy="340.7" r="1.45" fill="#111111"/>
<circle cx="308.6" cy="319.0" r="1.45" fill="#111111"/>
<circle cx="319.1" cy="294.2" r="1.45" fill="#111111"/>
<circle cx="329.6" cy="267.5" r="1.45" fill="#111111"/>
</g>
<rect x="174.4" y="268.1" width="167.29999999999998" height="121.5" fill="none" stroke="#555" stroke-width="0.8"/>
<line x1="174.4" x2="176.9" y1="272.3" y2="272.3" stroke="#555" stroke-width="0.6"/>
<line x1="341.7" x2="339.2" y1="272.3" y2="272.3" stroke="#555" stroke-width="0.6"/>
<text x="172.0" y="274.3" font-size="5.8" fill="#383838" text-anchor="end" font-weight="normal" font-style="normal" >-15</text>
<line x1="174.4" x2="176.9" y1="282.4" y2="282.4" stroke="#555" stroke-width="0.6"/>
<line x1="341.7" x2="339.2" y1="282.4" y2="282.4" stroke="#555" stroke-width="0.6"/>
<text x="172.0" y="284.4" font-size="5.8" fill="#383838" text-anchor="end" font-weight="normal" font-style="normal" >-12</text>
<line x1="174.4" x2="176.9" y1="292.6" y2="292.6" stroke="#555" stroke-width="0.6"/>
<line x1="341.7" x2="339.2" y1="292.6" y2="292.6" stroke="#555" stroke-width="0.6"/>
<text x="172.0" y="294.6" font-size="5.8" fill="#383838" text-anchor="end" font-weight="normal" font-style="normal" >-9</text>
<line x1="174.4" x2="176.9" y1="302.7" y2="302.7" stroke="#555" stroke-width="0.6"/>
<line x1="341.7" x2="339.2" y1="302.7" y2="302.7" stroke="#555" stroke-width="0.6"/>
<text x="172.0" y="304.7" font-size="5.8" fill="#383838" text-anchor="end" font-weight="normal" font-style="normal" >-6</text>
<line x1="174.4" x2="176.9" y1="312.9" y2="312.9" stroke="#555" stroke-width="0.6"/>
<line x1="341.7" x2="339.2" y1="312.9" y2="312.9" stroke="#555" stroke-width="0.6"/>
<text x="172.0" y="314.9" font-size="5.8" fill="#383838" text-anchor="end" font-weight="normal" font-style="normal" >-3</text>
<line x1="174.4" x2="176.9" y1="323.0" y2="323.0" stroke="#555" stroke-width="0.6"/>
<line x1="341.7" x2="339.2" y1="323.0" y2="323.0" stroke="#555" stroke-width="0.6"/>
<text x="172.0" y="325.0" font-size="5.8" fill="#383838" text-anchor="end" font-weight="normal" font-style="normal" >0</text>
<line x1="174.4" x2="176.9" y1="333.1" y2="333.1" stroke="#555" stroke-width="0.6"/>
<line x1="341.7" x2="339.2" y1="333.1" y2="333.1" stroke="#555" stroke-width="0.6"/>
<text x="172.0" y="335.1" font-size="5.8" fill="#383838" text-anchor="end" font-weight="normal" font-style="normal" >3</text>
<line x1="174.4" x2="176.9" y1="343.3" y2="343.3" stroke="#555" stroke-width="0.6"/>
<line x1="341.7" x2="339.2" y1="343.3" y2="343.3" stroke="#555" stroke-width="0.6"/>
<text x="172.0" y="345.3" font-size="5.8" fill="#383838" text-anchor="end" font-weight="normal" font-style="normal" >6</text>
<line x1="174.4" x2="176.9" y1="353.4" y2="353.4" stroke="#555" stroke-width="0.6"/>
<line x1="341.7" x2="339.2" y1="353.4" y2="353.4" stroke="#555" stroke-width="0.6"/>
<text x="172.0" y="355.4" font-size="5.8" fill="#383838" text-anchor="end" font-weight="normal" font-style="normal" >9</text>
<line x1="174.4" x2="176.9" y1="363.6" y2="363.6" stroke="#555" stroke-width="0.6"/>
<line x1="341.7" x2="339.2" y1="363.6" y2="363.6" stroke="#555" stroke-width="0.6"/>
<text x="172.0" y="365.6" font-size="5.8" fill="#383838" text-anchor="end" font-weight="normal" font-style="normal" >12</text>
<line x1="174.4" x2="176.9" y1="373.7" y2="373.7" stroke="#555" stroke-width="0.6"/>
<line x1="341.7" x2="339.2" y1="373.7" y2="373.7" stroke="#555" stroke-width="0.6"/>
<text x="172.0" y="375.7" font-size="5.8" fill="#383838" text-anchor="end" font-weight="normal" font-style="normal" >15</text>
<line x1="174.4" x2="176.9" y1="383.8" y2="383.8" stroke="#555" stroke-width="0.6"/>
<line x1="341.7" x2="339.2" y1="383.8" y2="383.8" stroke="#555" stroke-width="0.6"/>
<text x="172.0" y="385.8" font-size="5.8" fill="#383838" text-anchor="end" font-weight="normal" font-style="normal" >18</text>
<line x1="174.4" x2="175.8" y1="275.7" y2="275.7" stroke="#555" stroke-width="0.5"/>
<line x1="341.7" x2="340.3" y1="275.7" y2="275.7" stroke="#555" stroke-width="0.5"/>
<line x1="174.4" x2="175.8" y1="279.1" y2="279.1" stroke="#555" stroke-width="0.5"/>
<line x1="341.7" x2="340.3" y1="279.1" y2="279.1" stroke="#555" stroke-width="0.5"/>
<line x1="174.4" x2="175.8" y1="285.8" y2="285.8" stroke="#555" stroke-width="0.5"/>
<line x1="341.7" x2="340.3" y1="285.8" y2="285.8" stroke="#555" stroke-width="0.5"/>
<line x1="174.4" x2="175.8" y1="289.2" y2="289.2" stroke="#555" stroke-width="0.5"/>
<line x1="341.7" x2="340.3" y1="289.2" y2="289.2" stroke="#555" stroke-width="0.5"/>
<line x1="174.4" x2="175.8" y1="296.0" y2="296.0" stroke="#555" stroke-width="0.5"/>
<line x1="341.7" x2="340.3" y1="296.0" y2="296.0" stroke="#555" stroke-width="0.5"/>
<line x1="174.4" x2="175.8" y1="299.3" y2="299.3" stroke="#555" stroke-width="0.5"/>
<line x1="341.7" x2="340.3" y1="299.3" y2="299.3" stroke="#555" stroke-width="0.5"/>
<line x1="174.4" x2="175.8" y1="306.1" y2="306.1" stroke="#555" stroke-width="0.5"/>
<line x1="341.7" x2="340.3" y1="306.1" y2="306.1" stroke="#555" stroke-width="0.5"/>
<line x1="174.4" x2="175.8" y1="309.5" y2="309.5" stroke="#555" stroke-width="0.5"/>
<line x1="341.7" x2="340.3" y1="309.5" y2="309.5" stroke="#555" stroke-width="0.5"/>
<line x1="174.4" x2="175.8" y1="316.2" y2="316.2" stroke="#555" stroke-width="0.5"/>
<line x1="341.7" x2="340.3" y1="316.2" y2="316.2" stroke="#555" stroke-width="0.5"/>
<line x1="174.4" x2="175.8" y1="319.6" y2="319.6" stroke="#555" stroke-width="0.5"/>
<line x1="341.7" x2="340.3" y1="319.6" y2="319.6" stroke="#555" stroke-width="0.5"/>
<line x1="174.4" x2="175.8" y1="326.4" y2="326.4" stroke="#555" stroke-width="0.5"/>
<line x1="341.7" x2="340.3" y1="326.4" y2="326.4" stroke="#555" stroke-width="0.5"/>
<line x1="174.4" x2="175.8" y1="329.8" y2="329.8" stroke="#555" stroke-width="0.5"/>
<line x1="341.7" x2="340.3" y1="329.8" y2="329.8" stroke="#555" stroke-width="0.5"/>
<line x1="174.4" x2="175.8" y1="336.5" y2="336.5" stroke="#555" stroke-width="0.5"/>
<line x1="341.7" x2="340.3" y1="336.5" y2="336.5" stroke="#555" stroke-width="0.5"/>
<line x1="174.4" x2="175.8" y1="339.9" y2="339.9" stroke="#555" stroke-width="0.5"/>
<line x1="341.7" x2="340.3" y1="339.9" y2="339.9" stroke="#555" stroke-width="0.5"/>
<line x1="174.4" x2="175.8" y1="346.7" y2="346.7" stroke="#555" stroke-width="0.5"/>
<line x1="341.7" x2="340.3" y1="346.7" y2="346.7" stroke="#555" stroke-width="0.5"/>
<line x1="174.4" x2="175.8" y1="350.0" y2="350.0" stroke="#555" stroke-width="0.5"/>
<line x1="341.7" x2="340.3" y1="350.0" y2="350.0" stroke="#555" stroke-width="0.5"/>
<line x1="174.4" x2="175.8" y1="356.8" y2="356.8" stroke="#555" stroke-width="0.5"/>
<line x1="341.7" x2="340.3" y1="356.8" y2="356.8" stroke="#555" stroke-width="0.5"/>
<line x1="174.4" x2="175.8" y1="360.2" y2="360.2" stroke="#555" stroke-width="0.5"/>
<line x1="341.7" x2="340.3" y1="360.2" y2="360.2" stroke="#555" stroke-width="0.5"/>
<line x1="174.4" x2="175.8" y1="366.9" y2="366.9" stroke="#555" stroke-width="0.5"/>
<line x1="341.7" x2="340.3" y1="366.9" y2="366.9" stroke="#555" stroke-width="0.5"/>
<line x1="174.4" x2="175.8" y1="370.3" y2="370.3" stroke="#555" stroke-width="0.5"/>
<line x1="341.7" x2="340.3" y1="370.3" y2="370.3" stroke="#555" stroke-width="0.5"/>
<line x1="174.4" x2="175.8" y1="377.1" y2="377.1" stroke="#555" stroke-width="0.5"/>
<line x1="341.7" x2="340.3" y1="377.1" y2="377.1" stroke="#555" stroke-width="0.5"/>
<line x1="174.4" x2="175.8" y1="380.5" y2="380.5" stroke="#555" stroke-width="0.5"/>
<line x1="341.7" x2="340.3" y1="380.5" y2="380.5" stroke="#555" stroke-width="0.5"/>
<line x1="174.4" x2="175.8" y1="387.2" y2="387.2" stroke="#555" stroke-width="0.5"/>
<line x1="341.7" x2="340.3" y1="387.2" y2="387.2" stroke="#555" stroke-width="0.5"/>
<line x1="174.2" x2="174.2" y1="389.6" y2="388.20000000000005" stroke="#555" stroke-width="0.6"/>
<line x1="174.2" x2="174.2" y1="268.1" y2="269.5" stroke="#555" stroke-width="0.6"/>
<line x1="184.7" x2="184.7" y1="389.6" y2="387.1" stroke="#555" stroke-width="0.6"/>
<line x1="184.7" x2="184.7" y1="268.1" y2="270.6" stroke="#555" stroke-width="0.6"/>
<line x1="195.2" x2="195.2" y1="389.6" y2="388.20000000000005" stroke="#555" stroke-width="0.6"/>
<line x1="195.2" x2="195.2" y1="268.1" y2="269.5" stroke="#555" stroke-width="0.6"/>
<line x1="205.7" x2="205.7" y1="389.6" y2="387.1" stroke="#555" stroke-width="0.6"/>
<line x1="205.7" x2="205.7" y1="268.1" y2="270.6" stroke="#555" stroke-width="0.6"/>
<line x1="216.2" x2="216.2" y1="389.6" y2="388.20000000000005" stroke="#555" stroke-width="0.6"/>
<line x1="216.2" x2="216.2" y1="268.1" y2="269.5" stroke="#555" stroke-width="0.6"/>
<line x1="226.7" x2="226.7" y1="389.6" y2="387.1" stroke="#555" stroke-width="0.6"/>
<line x1="226.7" x2="226.7" y1="268.1" y2="270.6" stroke="#555" stroke-width="0.6"/>
<line x1="237.2" x2="237.2" y1="389.6" y2="388.20000000000005" stroke="#555" stroke-width="0.6"/>
<line x1="237.2" x2="237.2" y1="268.1" y2="269.5" stroke="#555" stroke-width="0.6"/>
<line x1="247.7" x2="247.7" y1="389.6" y2="387.1" stroke="#555" stroke-width="0.6"/>
<line x1="247.7" x2="247.7" y1="268.1" y2="270.6" stroke="#555" stroke-width="0.6"/>
<line x1="258.2" x2="258.2" y1="389.6" y2="388.20000000000005" stroke="#555" stroke-width="0.6"/>
<line x1="258.2" x2="258.2" y1="268.1" y2="269.5" stroke="#555" stroke-width="0.6"/>
<line x1="268.7" x2="268.7" y1="389.6" y2="387.1" stroke="#555" stroke-width="0.6"/>
<line x1="268.7" x2="268.7" y1="268.1" y2="270.6" stroke="#555" stroke-width="0.6"/>
<line x1="279.2" x2="279.2" y1="389.6" y2="388.20000000000005" stroke="#555" stroke-width="0.6"/>
<line x1="279.2" x2="279.2" y1="268.1" y2="269.5" stroke="#555" stroke-width="0.6"/>
<line x1="289.7" x2="289.7" y1="389.6" y2="387.1" stroke="#555" stroke-width="0.6"/>
<line x1="289.7" x2="289.7" y1="268.1" y2="270.6" stroke="#555" stroke-width="0.6"/>
<line x1="300.2" x2="300.2" y1="389.6" y2="388.20000000000005" stroke="#555" stroke-width="0.6"/>
<line x1="300.2" x2="300.2" y1="268.1" y2="269.5" stroke="#555" stroke-width="0.6"/>
<line x1="310.7" x2="310.7" y1="389.6" y2="387.1" stroke="#555" stroke-width="0.6"/>
<line x1="310.7" x2="310.7" y1="268.1" y2="270.6" stroke="#555" stroke-width="0.6"/>
<line x1="321.2" x2="321.2" y1="389.6" y2="388.20000000000005" stroke="#555" stroke-width="0.6"/>
<line x1="321.2" x2="321.2" y1="268.1" y2="269.5" stroke="#555" stroke-width="0.6"/>
<line x1="331.7" x2="331.7" y1="389.6" y2="387.1" stroke="#555" stroke-width="0.6"/>
<line x1="331.7" x2="331.7" y1="268.1" y2="270.6" stroke="#555" stroke-width="0.6"/>
<line x1="342.2" x2="342.2" y1="389.6" y2="388.20000000000005" stroke="#555" stroke-width="0.6"/>
<line x1="342.2" x2="342.2" y1="268.1" y2="269.5" stroke="#555" stroke-width="0.6"/>
<text x="184.7" y="399.0" font-size="5.8" fill="#383838" text-anchor="middle" font-weight="normal" font-style="normal" >-0.4</text>
<text x="205.7" y="399.0" font-size="5.8" fill="#383838" text-anchor="middle" font-weight="normal" font-style="normal" >-0.2</text>
<text x="226.7" y="399.0" font-size="5.8" fill="#383838" text-anchor="middle" font-weight="normal" font-style="normal" >0.0</text>
<text x="247.7" y="399.0" font-size="5.8" fill="#383838" text-anchor="middle" font-weight="normal" font-style="normal" >0.2</text>
<text x="268.7" y="399.0" font-size="5.8" fill="#383838" text-anchor="middle" font-weight="normal" font-style="normal" >0.4</text>
<text x="289.7" y="399.0" font-size="5.8" fill="#383838" text-anchor="middle" font-weight="normal" font-style="normal" >0.6</text>
<text x="310.7" y="399.0" font-size="5.8" fill="#383838" text-anchor="middle" font-weight="normal" font-style="normal" >0.8</text>
<text x="331.7" y="399.0" font-size="5.8" fill="#383838" text-anchor="middle" font-weight="normal" font-style="normal" >1.0</text>
<text x="258.4" y="409.0" font-size="5.9" fill="#383838" text-anchor="middle" font-weight="normal" font-style="italic" >Voltage / V</text>
<text transform="translate(156.6,330.5) rotate(-90)" font-size="6.0" fill="#383838" text-anchor="middle" font-style="italic">Current density / mA cm<tspan font-size="3.6" dy="-1.8">-2</tspan></text>
<text x="179.4" y="283.4" font-size="13" fill="#000" text-anchor="start" font-weight="bold" font-style="normal" stroke="#000" stroke-width="0.35">(g)</text>
<rect x="231" y="270" width="58" height="50" fill="#fff"/>
<text x="232.6" y="275.5" font-size="5.2" fill="#333">Active area &gt; 1 cm<tspan font-size="3.3" dy="-1.6">2</tspan></text>
<text x="232.6" y="305.7" font-size="5.2" fill="#333">Active area ≤ 0.1 cm<tspan font-size="3.3" dy="-1.6">2</tspan></text>
<line x1="232.8" x2="242.3" y1="280.5" y2="280.5" stroke="#111111" stroke-width="0.7"/>
<circle cx="237.5" cy="280.5" r="1.2" fill="#111111"/>
<text x="244.2" y="282.3" font-size="5.2" fill="#333" text-anchor="start" font-weight="normal" font-style="normal" >AgPET - HYE</text>
<line x1="232.8" x2="242.3" y1="286.4" y2="286.4" stroke="#555555" stroke-width="0.7"/>
<circle cx="237.5" cy="286.4" r="1.2" fill="#fff" stroke="#555555" stroke-width="0.5"/>
<text x="244.2" y="288.2" font-size="5.2" fill="#333" text-anchor="start" font-weight="normal" font-style="normal" >AgPET - Ag</text>
<line x1="232.8" x2="242.3" y1="292.1" y2="292.1" stroke="#888888" stroke-width="0.7"/>
<polygon points="236.3,293.1 238.7,293.1 237.5,290.9" fill="#888888"/>
<text x="244.2" y="293.9" font-size="5.2" fill="#333" text-anchor="start" font-weight="normal" font-style="normal" >ITO - HYE</text>
<line x1="232.8" x2="242.3" y1="297.6" y2="297.6" stroke="#aaaaaa" stroke-width="0.7"/>
<polygon points="236.3,298.6 238.7,298.6 237.5,296.4" fill="#fff" stroke="#aaaaaa" stroke-width="0.5"/>
<text x="244.2" y="299.4" font-size="5.2" fill="#333" text-anchor="start" font-weight="normal" font-style="normal" >ITO - Ag</text>
<line x1="232.8" x2="242.3" y1="310" y2="310" stroke="#1a9a94" stroke-width="0.7"/>
<circle cx="237.5" cy="310.0" r="1.2" fill="#1a9a94"/>
<text x="244.2" y="311.8" font-size="5.2" fill="#333" text-anchor="start" font-weight="normal" font-style="normal" >AgPET - HYE</text>
<line x1="232.8" x2="242.3" y1="315.9" y2="315.9" stroke="#1a9a94" stroke-width="0.7"/>
<circle cx="237.5" cy="315.9" r="1.2" fill="#fff" stroke="#1a9a94" stroke-width="0.5"/>
<text x="244.2" y="317.7" font-size="5.2" fill="#333" text-anchor="start" font-weight="normal" font-style="normal" >AgPET - Ag</text>
</g>
<g id="ph">
<polyline points="370.4,391.3 371.2,391.0 372.1,390.8 373.0,390.5 373.8,390.2 374.7,390.0 375.6,389.7 376.4,389.4 377.3,389.2 378.2,388.9 379.0,388.7 379.9,388.5 380.8,388.2 381.6,388.0 382.5,387.7 383.3,387.5 384.2,387.3 385.1,387.0 385.9,386.8 386.8,386.5 387.7,386.3 388.5,386.0 389.4,385.7 390.3,385.4 391.1,385.1 392.0,384.9 392.9,384.6 393.7,384.4 394.6,384.3 395.5,384.1 396.3,384.0 397.2,383.9 398.0,383.9 398.9,383.8 399.8,383.7 400.6,383.7 401.5,383.6 402.4,383.5 403.2,383.4 404.1,383.3 405.0,383.2 405.8,383.1 406.7,382.9 407.6,382.7 408.4,382.5 409.3,382.3 410.1,382.0 411.0,381.7 411.9,381.4 412.7,381.1 413.6,380.7 414.5,380.2 415.3,379.7 416.2,379.1 417.1,378.3 417.9,377.5 418.8,376.6 419.7,375.6 420.5,374.4 421.4,372.9 422.3,371.4 423.1,369.9 424.0,368.1 424.8,366.4 425.7,364.6 426.6,362.9 427.4,361.5 428.3,359.9 429.2,358.4 430.0,357.1 430.9,356.1 431.8,355.7 432.6,355.5 433.5,355.4 434.4,355.4 435.2,355.6 436.1,356.2 437.0,356.9 437.8,357.5 438.7,358.1 439.5,358.8 440.4,359.5 441.3,360.3 442.1,361.3 443.0,362.4 443.9,363.5 444.7,364.6 445.6,365.6 446.5,366.6 447.3,367.5 448.2,368.4 449.1,369.3 449.9,370.1 450.8,370.9 451.7,371.7 452.5,372.5 453.4,373.3 454.2,374.1 455.1,374.8 456.0,375.5 456.8,376.2 457.7,376.9 458.6,377.5 459.4,378.1 460.3,378.7 461.2,379.2 462.0,379.8 462.9,380.3 463.8,380.9 464.6,381.4 465.5,381.8 466.3,382.2 467.2,382.6 468.1,383.0 468.9,383.3 469.8,383.6 470.7,383.9 471.5,384.2 472.4,384.4 473.3,384.7 474.1,384.9 475.0,385.1 475.9,385.2 476.7,385.3 477.6,385.3 478.5,385.3 479.3,385.2 480.2,385.0 481.0,384.8 481.9,384.7 482.8,384.5 483.6,384.2 484.5,383.9 485.4,383.5 486.2,383.3 487.1,383.4 488.0,383.6 488.8,384.0 489.7,384.4 490.6,384.8 491.4,385.3 492.3,385.8 493.2,386.5 494.0,387.1 494.9,387.6 495.7,387.9 496.6,388.1 497.5,388.3 498.3,388.5 499.2,388.6 500.1,388.7 500.9,388.7 501.8,388.4 502.7,387.9 503.5,387.3 504.4,386.5 505.3,385.7 506.1,384.2 507.0,382.2 507.8,379.8 508.7,376.1 509.6,371.2 510.4,365.8 511.3,360.1 512.2,353.8 513.0,347.0 513.9,340.3 514.8,333.5 515.6,326.6 516.5,319.8 517.4,313.4 518.2,307.5 519.1,301.8 520.0,297.0 520.8,293.2 521.7,289.8 522.5,287.2 523.4,285.6 524.3,284.4 525.1,283.5 526.0,283.0 526.9,282.7 527.7,282.5 528.6,282.4 529.5,282.7 530.3,283.2 531.2,283.9 532.1,284.6 532.9,285.2 533.8,285.8 534.7,286.4 535.5,287.0 536.4,287.7 537.2,288.3 538.1,289.0 539.0,289.7 539.8,290.3 540.7,291.0 541.6,291.7 542.4,292.4" fill="none" stroke="#18a890" stroke-width="1.0" />
<circle cx="377.0" cy="389.3" r="1.5" fill="#18a890"/>
<circle cx="386.1" cy="386.7" r="1.5" fill="#18a890"/>
<circle cx="395.2" cy="384.2" r="1.5" fill="#18a890"/>
<circle cx="404.4" cy="383.3" r="1.5" fill="#18a890"/>
<circle cx="413.5" cy="380.7" r="1.5" fill="#18a890"/>
<circle cx="422.6" cy="370.8" r="1.5" fill="#18a890"/>
<circle cx="431.7" cy="355.7" r="1.5" fill="#18a890"/>
<circle cx="440.9" cy="359.9" r="1.5" fill="#18a890"/>
<circle cx="450.0" cy="370.2" r="1.5" fill="#18a890"/>
<circle cx="459.1" cy="377.9" r="1.5" fill="#18a890"/>
<circle cx="468.3" cy="383.0" r="1.5" fill="#18a890"/>
<circle cx="477.4" cy="385.3" r="1.5" fill="#18a890"/>
<circle cx="486.5" cy="383.3" r="1.5" fill="#18a890"/>
<circle cx="495.7" cy="387.9" r="1.5" fill="#18a890"/>
<circle cx="504.8" cy="386.2" r="1.5" fill="#18a890"/>
<circle cx="513.9" cy="340.0" r="1.5" fill="#18a890"/>
<circle cx="523.1" cy="286.1" r="1.5" fill="#18a890"/>
<circle cx="532.2" cy="284.7" r="1.5" fill="#18a890"/>
<circle cx="541.3" cy="291.5" r="1.5" fill="#18a890"/>
<rect x="370.3" y="268" width="172.2" height="125.5" fill="none" stroke="#666" stroke-width="0.8"/>
<line x1="370.3" x2="372.8" y1="393.0" y2="393.0" stroke="#555" stroke-width="0.6"/>
<line x1="542.5" x2="540.0" y1="393.0" y2="393.0" stroke="#555" stroke-width="0.6"/>
<text x="367.7" y="395.1" font-size="6.2" fill="#383838" text-anchor="end" font-weight="normal" font-style="normal" >0</text>
<line x1="370.3" x2="372.8" y1="378.8" y2="378.8" stroke="#555" stroke-width="0.6"/>
<line x1="542.5" x2="540.0" y1="378.8" y2="378.8" stroke="#555" stroke-width="0.6"/>
<text x="367.7" y="380.9" font-size="6.2" fill="#383838" text-anchor="end" font-weight="normal" font-style="normal" >5</text>
<line x1="370.3" x2="372.8" y1="364.5" y2="364.5" stroke="#555" stroke-width="0.6"/>
<line x1="542.5" x2="540.0" y1="364.5" y2="364.5" stroke="#555" stroke-width="0.6"/>
<text x="367.7" y="366.6" font-size="6.2" fill="#383838" text-anchor="end" font-weight="normal" font-style="normal" >10</text>
<line x1="370.3" x2="372.8" y1="350.2" y2="350.2" stroke="#555" stroke-width="0.6"/>
<line x1="542.5" x2="540.0" y1="350.2" y2="350.2" stroke="#555" stroke-width="0.6"/>
<text x="367.7" y="352.4" font-size="6.2" fill="#383838" text-anchor="end" font-weight="normal" font-style="normal" >15</text>
<line x1="370.3" x2="372.8" y1="336.0" y2="336.0" stroke="#555" stroke-width="0.6"/>
<line x1="542.5" x2="540.0" y1="336.0" y2="336.0" stroke="#555" stroke-width="0.6"/>
<text x="367.7" y="338.1" font-size="6.2" fill="#383838" text-anchor="end" font-weight="normal" font-style="normal" >20</text>
<line x1="370.3" x2="372.8" y1="321.8" y2="321.8" stroke="#555" stroke-width="0.6"/>
<line x1="542.5" x2="540.0" y1="321.8" y2="321.8" stroke="#555" stroke-width="0.6"/>
<text x="367.7" y="323.9" font-size="6.2" fill="#383838" text-anchor="end" font-weight="normal" font-style="normal" >25</text>
<line x1="370.3" x2="372.8" y1="307.5" y2="307.5" stroke="#555" stroke-width="0.6"/>
<line x1="542.5" x2="540.0" y1="307.5" y2="307.5" stroke="#555" stroke-width="0.6"/>
<text x="367.7" y="309.6" font-size="6.2" fill="#383838" text-anchor="end" font-weight="normal" font-style="normal" >30</text>
<line x1="370.3" x2="372.8" y1="293.2" y2="293.2" stroke="#555" stroke-width="0.6"/>
<line x1="542.5" x2="540.0" y1="293.2" y2="293.2" stroke="#555" stroke-width="0.6"/>
<text x="367.7" y="295.4" font-size="6.2" fill="#383838" text-anchor="end" font-weight="normal" font-style="normal" >35</text>
<line x1="370.3" x2="372.8" y1="279.0" y2="279.0" stroke="#555" stroke-width="0.6"/>
<line x1="542.5" x2="540.0" y1="279.0" y2="279.0" stroke="#555" stroke-width="0.6"/>
<text x="367.7" y="281.1" font-size="6.2" fill="#383838" text-anchor="end" font-weight="normal" font-style="normal" >40</text>
<line x1="370.3" x2="371.6" y1="390.1" y2="390.1" stroke="#666" stroke-width="0.4"/>
<line x1="542.5" x2="541.2" y1="390.1" y2="390.1" stroke="#666" stroke-width="0.4"/>
<line x1="370.3" x2="371.6" y1="387.3" y2="387.3" stroke="#666" stroke-width="0.4"/>
<line x1="542.5" x2="541.2" y1="387.3" y2="387.3" stroke="#666" stroke-width="0.4"/>
<line x1="370.3" x2="371.6" y1="384.4" y2="384.4" stroke="#666" stroke-width="0.4"/>
<line x1="542.5" x2="541.2" y1="384.4" y2="384.4" stroke="#666" stroke-width="0.4"/>
<line x1="370.3" x2="371.6" y1="381.6" y2="381.6" stroke="#666" stroke-width="0.4"/>
<line x1="542.5" x2="541.2" y1="381.6" y2="381.6" stroke="#666" stroke-width="0.4"/>
<line x1="370.3" x2="371.6" y1="375.9" y2="375.9" stroke="#666" stroke-width="0.4"/>
<line x1="542.5" x2="541.2" y1="375.9" y2="375.9" stroke="#666" stroke-width="0.4"/>
<line x1="370.3" x2="371.6" y1="373.1" y2="373.1" stroke="#666" stroke-width="0.4"/>
<line x1="542.5" x2="541.2" y1="373.1" y2="373.1" stroke="#666" stroke-width="0.4"/>
<line x1="370.3" x2="371.6" y1="370.2" y2="370.2" stroke="#666" stroke-width="0.4"/>
<line x1="542.5" x2="541.2" y1="370.2" y2="370.2" stroke="#666" stroke-width="0.4"/>
<line x1="370.3" x2="371.6" y1="367.4" y2="367.4" stroke="#666" stroke-width="0.4"/>
<line x1="542.5" x2="541.2" y1="367.4" y2="367.4" stroke="#666" stroke-width="0.4"/>
<line x1="370.3" x2="371.6" y1="361.6" y2="361.6" stroke="#666" stroke-width="0.4"/>
<line x1="542.5" x2="541.2" y1="361.6" y2="361.6" stroke="#666" stroke-width="0.4"/>
<line x1="370.3" x2="371.6" y1="358.8" y2="358.8" stroke="#666" stroke-width="0.4"/>
<line x1="542.5" x2="541.2" y1="358.8" y2="358.8" stroke="#666" stroke-width="0.4"/>
<line x1="370.3" x2="371.6" y1="355.9" y2="355.9" stroke="#666" stroke-width="0.4"/>
<line x1="542.5" x2="541.2" y1="355.9" y2="355.9" stroke="#666" stroke-width="0.4"/>
<line x1="370.3" x2="371.6" y1="353.1" y2="353.1" stroke="#666" stroke-width="0.4"/>
<line x1="542.5" x2="541.2" y1="353.1" y2="353.1" stroke="#666" stroke-width="0.4"/>
<line x1="370.3" x2="371.6" y1="347.4" y2="347.4" stroke="#666" stroke-width="0.4"/>
<line x1="542.5" x2="541.2" y1="347.4" y2="347.4" stroke="#666" stroke-width="0.4"/>
<line x1="370.3" x2="371.6" y1="344.6" y2="344.6" stroke="#666" stroke-width="0.4"/>
<line x1="542.5" x2="541.2" y1="344.6" y2="344.6" stroke="#666" stroke-width="0.4"/>
<line x1="370.3" x2="371.6" y1="341.7" y2="341.7" stroke="#666" stroke-width="0.4"/>
<line x1="542.5" x2="541.2" y1="341.7" y2="341.7" stroke="#666" stroke-width="0.4"/>
<line x1="370.3" x2="371.6" y1="338.9" y2="338.9" stroke="#666" stroke-width="0.4"/>
<line x1="542.5" x2="541.2" y1="338.9" y2="338.9" stroke="#666" stroke-width="0.4"/>
<line x1="370.3" x2="371.6" y1="333.1" y2="333.1" stroke="#666" stroke-width="0.4"/>
<line x1="542.5" x2="541.2" y1="333.1" y2="333.1" stroke="#666" stroke-width="0.4"/>
<line x1="370.3" x2="371.6" y1="330.3" y2="330.3" stroke="#666" stroke-width="0.4"/>
<line x1="542.5" x2="541.2" y1="330.3" y2="330.3" stroke="#666" stroke-width="0.4"/>
<line x1="370.3" x2="371.6" y1="327.4" y2="327.4" stroke="#666" stroke-width="0.4"/>
<line x1="542.5" x2="541.2" y1="327.4" y2="327.4" stroke="#666" stroke-width="0.4"/>
<line x1="370.3" x2="371.6" y1="324.6" y2="324.6" stroke="#666" stroke-width="0.4"/>
<line x1="542.5" x2="541.2" y1="324.6" y2="324.6" stroke="#666" stroke-width="0.4"/>
<line x1="370.3" x2="371.6" y1="318.9" y2="318.9" stroke="#666" stroke-width="0.4"/>
<line x1="542.5" x2="541.2" y1="318.9" y2="318.9" stroke="#666" stroke-width="0.4"/>
<line x1="370.3" x2="371.6" y1="316.1" y2="316.1" stroke="#666" stroke-width="0.4"/>
<line x1="542.5" x2="541.2" y1="316.1" y2="316.1" stroke="#666" stroke-width="0.4"/>
<line x1="370.3" x2="371.6" y1="313.2" y2="313.2" stroke="#666" stroke-width="0.4"/>
<line x1="542.5" x2="541.2" y1="313.2" y2="313.2" stroke="#666" stroke-width="0.4"/>
<line x1="370.3" x2="371.6" y1="310.4" y2="310.4" stroke="#666" stroke-width="0.4"/>
<line x1="542.5" x2="541.2" y1="310.4" y2="310.4" stroke="#666" stroke-width="0.4"/>
<line x1="370.3" x2="371.6" y1="304.6" y2="304.6" stroke="#666" stroke-width="0.4"/>
<line x1="542.5" x2="541.2" y1="304.6" y2="304.6" stroke="#666" stroke-width="0.4"/>
<line x1="370.3" x2="371.6" y1="301.8" y2="301.8" stroke="#666" stroke-width="0.4"/>
<line x1="542.5" x2="541.2" y1="301.8" y2="301.8" stroke="#666" stroke-width="0.4"/>
<line x1="370.3" x2="371.6" y1="298.9" y2="298.9" stroke="#666" stroke-width="0.4"/>
<line x1="542.5" x2="541.2" y1="298.9" y2="298.9" stroke="#666" stroke-width="0.4"/>
<line x1="370.3" x2="371.6" y1="296.1" y2="296.1" stroke="#666" stroke-width="0.4"/>
<line x1="542.5" x2="541.2" y1="296.1" y2="296.1" stroke="#666" stroke-width="0.4"/>
<line x1="370.3" x2="371.6" y1="290.4" y2="290.4" stroke="#666" stroke-width="0.4"/>
<line x1="542.5" x2="541.2" y1="290.4" y2="290.4" stroke="#666" stroke-width="0.4"/>
<line x1="370.3" x2="371.6" y1="287.6" y2="287.6" stroke="#666" stroke-width="0.4"/>
<line x1="542.5" x2="541.2" y1="287.6" y2="287.6" stroke="#666" stroke-width="0.4"/>
<line x1="370.3" x2="371.6" y1="284.7" y2="284.7" stroke="#666" stroke-width="0.4"/>
<line x1="542.5" x2="541.2" y1="284.7" y2="284.7" stroke="#666" stroke-width="0.4"/>
<line x1="370.3" x2="371.6" y1="281.9" y2="281.9" stroke="#666" stroke-width="0.4"/>
<line x1="542.5" x2="541.2" y1="281.9" y2="281.9" stroke="#666" stroke-width="0.4"/>
<line x1="370.3" x2="371.6" y1="276.1" y2="276.1" stroke="#666" stroke-width="0.4"/>
<line x1="542.5" x2="541.2" y1="276.1" y2="276.1" stroke="#666" stroke-width="0.4"/>
<line x1="370.3" x2="371.6" y1="273.3" y2="273.3" stroke="#666" stroke-width="0.4"/>
<line x1="542.5" x2="541.2" y1="273.3" y2="273.3" stroke="#666" stroke-width="0.4"/>
<line x1="370.3" x2="371.6" y1="270.4" y2="270.4" stroke="#666" stroke-width="0.4"/>
<line x1="542.5" x2="541.2" y1="270.4" y2="270.4" stroke="#666" stroke-width="0.4"/>
<line x1="373.3" x2="373.3" y1="393.5" y2="391.0" stroke="#555" stroke-width="0.6"/>
<line x1="373.3" x2="373.3" y1="268" y2="270.5" stroke="#555" stroke-width="0.6"/>
<text x="373.3" y="401.2" font-size="6.0" fill="#383838" text-anchor="middle" font-weight="normal" font-style="normal" >350</text>
<line x1="391.6" x2="391.6" y1="393.5" y2="391.0" stroke="#555" stroke-width="0.6"/>
<line x1="391.6" x2="391.6" y1="268" y2="270.5" stroke="#555" stroke-width="0.6"/>
<text x="391.6" y="401.2" font-size="6.0" fill="#383838" text-anchor="middle" font-weight="normal" font-style="normal" >400</text>
<line x1="409.8" x2="409.8" y1="393.5" y2="391.0" stroke="#555" stroke-width="0.6"/>
<line x1="409.8" x2="409.8" y1="268" y2="270.5" stroke="#555" stroke-width="0.6"/>
<text x="409.8" y="401.2" font-size="6.0" fill="#383838" text-anchor="middle" font-weight="normal" font-style="normal" >450</text>
<line x1="428.1" x2="428.1" y1="393.5" y2="391.0" stroke="#555" stroke-width="0.6"/>
<line x1="428.1" x2="428.1" y1="268" y2="270.5" stroke="#555" stroke-width="0.6"/>
<text x="428.1" y="401.2" font-size="6.0" fill="#383838" text-anchor="middle" font-weight="normal" font-style="normal" >500</text>
<line x1="446.4" x2="446.4" y1="393.5" y2="391.0" stroke="#555" stroke-width="0.6"/>
<line x1="446.4" x2="446.4" y1="268" y2="270.5" stroke="#555" stroke-width="0.6"/>
<text x="446.4" y="401.2" font-size="6.0" fill="#383838" text-anchor="middle" font-weight="normal" font-style="normal" >550</text>
<line x1="464.6" x2="464.6" y1="393.5" y2="391.0" stroke="#555" stroke-width="0.6"/>
<line x1="464.6" x2="464.6" y1="268" y2="270.5" stroke="#555" stroke-width="0.6"/>
<text x="464.6" y="401.2" font-size="6.0" fill="#383838" text-anchor="middle" font-weight="normal" font-style="normal" >600</text>
<line x1="482.9" x2="482.9" y1="393.5" y2="391.0" stroke="#555" stroke-width="0.6"/>
<line x1="482.9" x2="482.9" y1="268" y2="270.5" stroke="#555" stroke-width="0.6"/>
<text x="482.9" y="401.2" font-size="6.0" fill="#383838" text-anchor="middle" font-weight="normal" font-style="normal" >650</text>
<line x1="501.2" x2="501.2" y1="393.5" y2="391.0" stroke="#555" stroke-width="0.6"/>
<line x1="501.2" x2="501.2" y1="268" y2="270.5" stroke="#555" stroke-width="0.6"/>
<text x="501.2" y="401.2" font-size="6.0" fill="#383838" text-anchor="middle" font-weight="normal" font-style="normal" >700</text>
<line x1="519.4" x2="519.4" y1="393.5" y2="391.0" stroke="#555" stroke-width="0.6"/>
<line x1="519.4" x2="519.4" y1="268" y2="270.5" stroke="#555" stroke-width="0.6"/>
<text x="519.4" y="401.2" font-size="6.0" fill="#383838" text-anchor="middle" font-weight="normal" font-style="normal" >750</text>
<line x1="537.7" x2="537.7" y1="393.5" y2="391.0" stroke="#555" stroke-width="0.6"/>
<line x1="537.7" x2="537.7" y1="268" y2="270.5" stroke="#555" stroke-width="0.6"/>
<text x="537.7" y="401.2" font-size="6.0" fill="#383838" text-anchor="middle" font-weight="normal" font-style="normal" >800</text>
<line x1="377.0" x2="377.0" y1="393.5" y2="392.2" stroke="#666" stroke-width="0.4"/>
<line x1="377.0" x2="377.0" y1="268" y2="269.3" stroke="#666" stroke-width="0.4"/>
<line x1="380.6" x2="380.6" y1="393.5" y2="392.2" stroke="#666" stroke-width="0.4"/>
<line x1="380.6" x2="380.6" y1="268" y2="269.3" stroke="#666" stroke-width="0.4"/>
<line x1="384.3" x2="384.3" y1="393.5" y2="392.2" stroke="#666" stroke-width="0.4"/>
<line x1="384.3" x2="384.3" y1="268" y2="269.3" stroke="#666" stroke-width="0.4"/>
<line x1="387.9" x2="387.9" y1="393.5" y2="392.2" stroke="#666" stroke-width="0.4"/>
<line x1="387.9" x2="387.9" y1="268" y2="269.3" stroke="#666" stroke-width="0.4"/>
<line x1="395.2" x2="395.2" y1="393.5" y2="392.2" stroke="#666" stroke-width="0.4"/>
<line x1="395.2" x2="395.2" y1="268" y2="269.3" stroke="#666" stroke-width="0.4"/>
<line x1="398.9" x2="398.9" y1="393.5" y2="392.2" stroke="#666" stroke-width="0.4"/>
<line x1="398.9" x2="398.9" y1="268" y2="269.3" stroke="#666" stroke-width="0.4"/>
<line x1="402.5" x2="402.5" y1="393.5" y2="392.2" stroke="#666" stroke-width="0.4"/>
<line x1="402.5" x2="402.5" y1="268" y2="269.3" stroke="#666" stroke-width="0.4"/>
<line x1="406.2" x2="406.2" y1="393.5" y2="392.2" stroke="#666" stroke-width="0.4"/>
<line x1="406.2" x2="406.2" y1="268" y2="269.3" stroke="#666" stroke-width="0.4"/>
<line x1="413.5" x2="413.5" y1="393.5" y2="392.2" stroke="#666" stroke-width="0.4"/>
<line x1="413.5" x2="413.5" y1="268" y2="269.3" stroke="#666" stroke-width="0.4"/>
<line x1="417.1" x2="417.1" y1="393.5" y2="392.2" stroke="#666" stroke-width="0.4"/>
<line x1="417.1" x2="417.1" y1="268" y2="269.3" stroke="#666" stroke-width="0.4"/>
<line x1="420.8" x2="420.8" y1="393.5" y2="392.2" stroke="#666" stroke-width="0.4"/>
<line x1="420.8" x2="420.8" y1="268" y2="269.3" stroke="#666" stroke-width="0.4"/>
<line x1="424.4" x2="424.4" y1="393.5" y2="392.2" stroke="#666" stroke-width="0.4"/>
<line x1="424.4" x2="424.4" y1="268" y2="269.3" stroke="#666" stroke-width="0.4"/>
<line x1="431.7" x2="431.7" y1="393.5" y2="392.2" stroke="#666" stroke-width="0.4"/>
<line x1="431.7" x2="431.7" y1="268" y2="269.3" stroke="#666" stroke-width="0.4"/>
<line x1="435.4" x2="435.4" y1="393.5" y2="392.2" stroke="#666" stroke-width="0.4"/>
<line x1="435.4" x2="435.4" y1="268" y2="269.3" stroke="#666" stroke-width="0.4"/>
<line x1="439.1" x2="439.1" y1="393.5" y2="392.2" stroke="#666" stroke-width="0.4"/>
<line x1="439.1" x2="439.1" y1="268" y2="269.3" stroke="#666" stroke-width="0.4"/>
<line x1="442.7" x2="442.7" y1="393.5" y2="392.2" stroke="#666" stroke-width="0.4"/>
<line x1="442.7" x2="442.7" y1="268" y2="269.3" stroke="#666" stroke-width="0.4"/>
<line x1="450.0" x2="450.0" y1="393.5" y2="392.2" stroke="#666" stroke-width="0.4"/>
<line x1="450.0" x2="450.0" y1="268" y2="269.3" stroke="#666" stroke-width="0.4"/>
<line x1="453.7" x2="453.7" y1="393.5" y2="392.2" stroke="#666" stroke-width="0.4"/>
<line x1="453.7" x2="453.7" y1="268" y2="269.3" stroke="#666" stroke-width="0.4"/>
<line x1="457.3" x2="457.3" y1="393.5" y2="392.2" stroke="#666" stroke-width="0.4"/>
<line x1="457.3" x2="457.3" y1="268" y2="269.3" stroke="#666" stroke-width="0.4"/>
<line x1="461.0" x2="461.0" y1="393.5" y2="392.2" stroke="#666" stroke-width="0.4"/>
<line x1="461.0" x2="461.0" y1="268" y2="269.3" stroke="#666" stroke-width="0.4"/>
<line x1="468.3" x2="468.3" y1="393.5" y2="392.2" stroke="#666" stroke-width="0.4"/>
<line x1="468.3" x2="468.3" y1="268" y2="269.3" stroke="#666" stroke-width="0.4"/>
<line x1="471.9" x2="471.9" y1="393.5" y2="392.2" stroke="#666" stroke-width="0.4"/>
<line x1="471.9" x2="471.9" y1="268" y2="269.3" stroke="#666" stroke-width="0.4"/>
<line x1="475.6" x2="475.6" y1="393.5" y2="392.2" stroke="#666" stroke-width="0.4"/>
<line x1="475.6" x2="475.6" y1="268" y2="269.3" stroke="#666" stroke-width="0.4"/>
<line x1="479.2" x2="479.2" y1="393.5" y2="392.2" stroke="#666" stroke-width="0.4"/>
<line x1="479.2" x2="479.2" y1="268" y2="269.3" stroke="#666" stroke-width="0.4"/>
<line x1="486.5" x2="486.5" y1="393.5" y2="392.2" stroke="#666" stroke-width="0.4"/>
<line x1="486.5" x2="486.5" y1="268" y2="269.3" stroke="#666" stroke-width="0.4"/>
<line x1="490.2" x2="490.2" y1="393.5" y2="392.2" stroke="#666" stroke-width="0.4"/>
<line x1="490.2" x2="490.2" y1="268" y2="269.3" stroke="#666" stroke-width="0.4"/>
<line x1="493.8" x2="493.8" y1="393.5" y2="392.2" stroke="#666" stroke-width="0.4"/>
<line x1="493.8" x2="493.8" y1="268" y2="269.3" stroke="#666" stroke-width="0.4"/>
<line x1="497.5" x2="497.5" y1="393.5" y2="392.2" stroke="#666" stroke-width="0.4"/>
<line x1="497.5" x2="497.5" y1="268" y2="269.3" stroke="#666" stroke-width="0.4"/>
<line x1="504.8" x2="504.8" y1="393.5" y2="392.2" stroke="#666" stroke-width="0.4"/>
<line x1="504.8" x2="504.8" y1="268" y2="269.3" stroke="#666" stroke-width="0.4"/>
<line x1="508.5" x2="508.5" y1="393.5" y2="392.2" stroke="#666" stroke-width="0.4"/>
<line x1="508.5" x2="508.5" y1="268" y2="269.3" stroke="#666" stroke-width="0.4"/>
<line x1="512.1" x2="512.1" y1="393.5" y2="392.2" stroke="#666" stroke-width="0.4"/>
<line x1="512.1" x2="512.1" y1="268" y2="269.3" stroke="#666" stroke-width="0.4"/>
<line x1="515.8" x2="515.8" y1="393.5" y2="392.2" stroke="#666" stroke-width="0.4"/>
<line x1="515.8" x2="515.8" y1="268" y2="269.3" stroke="#666" stroke-width="0.4"/>
<line x1="523.1" x2="523.1" y1="393.5" y2="392.2" stroke="#666" stroke-width="0.4"/>
<line x1="523.1" x2="523.1" y1="268" y2="269.3" stroke="#666" stroke-width="0.4"/>
<line x1="526.7" x2="526.7" y1="393.5" y2="392.2" stroke="#666" stroke-width="0.4"/>
<line x1="526.7" x2="526.7" y1="268" y2="269.3" stroke="#666" stroke-width="0.4"/>
<line x1="530.4" x2="530.4" y1="393.5" y2="392.2" stroke="#666" stroke-width="0.4"/>
<line x1="530.4" x2="530.4" y1="268" y2="269.3" stroke="#666" stroke-width="0.4"/>
<line x1="534.0" x2="534.0" y1="393.5" y2="392.2" stroke="#666" stroke-width="0.4"/>
<line x1="534.0" x2="534.0" y1="268" y2="269.3" stroke="#666" stroke-width="0.4"/>
<line x1="541.3" x2="541.3" y1="393.5" y2="392.2" stroke="#666" stroke-width="0.4"/>
<line x1="541.3" x2="541.3" y1="268" y2="269.3" stroke="#666" stroke-width="0.4"/>
<text x="455.7" y="410.4" font-size="5.6" fill="#383838" text-anchor="middle" font-weight="normal" font-style="italic" >Wavelength / nm</text>
<text transform="translate(352.6,332.0) rotate(-90)" font-size="6.2" fill="#383838" text-anchor="middle" font-weight="normal" font-style="italic" >Transmittance / %</text>
<defs><linearGradient id="hph" x1="0" x2="0.6" y1="0" y2="1"><stop offset="0" stop-color="#c6c2b6"/><stop offset="0.55" stop-color="#bcb8aa"/><stop offset="1" stop-color="#a6a292"/></linearGradient>
<linearGradient id="hgr" x1="0" x2="1" y1="0" y2="0"><stop offset="0" stop-color="#083c2a"/><stop offset="0.45" stop-color="#0d6244"/><stop offset="1" stop-color="#083c2a"/></linearGradient>
<clipPath id="hclip"><rect x="388.2" y="281.9" width="86" height="49.8"/></clipPath></defs>
<rect x="388.2" y="281.9" width="86" height="49.8" fill="url(#hph)"/>
<g clip-path="url(#hclip)">
<polygon points="395.5,285.5 439,292.3 436.4,317.7 392.7,311.4" fill="#d2cec4"/>
<polygon points="396,288.6 438.6,295.2 436.8,313.6 393.6,307.6" fill="url(#hgr)"/>
<polygon points="401,286.4 439,292.3 438.4,297 400.4,291" fill="#c4c0b6"/>
<polygon points="405.5,287.2 410,287.9 409.5,292 405,291.3" fill="#7a5a48"/>
<polygon points="399,308.2 431,313 430.4,317.2 398.4,312.2" fill="#dcd8d0"/>
<polygon points="412,311 424,312.8 423.8,315 411.8,313.2" fill="#5a564c"/>
<polygon points="394,293.8 399.6,294.6 398.8,304.4 393.2,303.6" fill="#101010"/>
<line x1="388.4" y1="293" x2="396.6" y2="301.2" stroke="#f4f0ea" stroke-width="1.5" stroke-linecap="round"/>
<g fill="#121212">
<polygon points="433,296.5 439.4,295.8 437.4,318 429.5,318.6"/>
<polygon points="434,316 417.5,305.6 419.5,304.6 436,313" fill-opacity="0.75"/>
<polygon points="435,314 424,299.6 426.4,299.2 437,311" fill-opacity="0.75"/>
<polygon points="433,317.4 413,312.6 414,311.4 434,315"/>
</g>
<text transform="translate(435.6,319.6) rotate(4) skewX(-9) scale(0.63,1.15)" font-size="26" font-weight="bold" fill="#121212" stroke="#121212" stroke-width="2.2" stroke-linejoin="miter" letter-spacing="2.2">KIT</text>
<text transform="translate(408.2,318.6) rotate(10.3)" font-size="3.8" fill="#7a766c" textLength="60" lengthAdjust="spacingAndGlyphs">Karlsruhe Institute of Technology</text>
</g>
<text x="372.8" y="283.2" font-size="13" fill="#000" text-anchor="start" font-weight="bold" font-style="normal" stroke="#000" stroke-width="0.35">(h)</text>
</g>
</svg>
</body></html>
